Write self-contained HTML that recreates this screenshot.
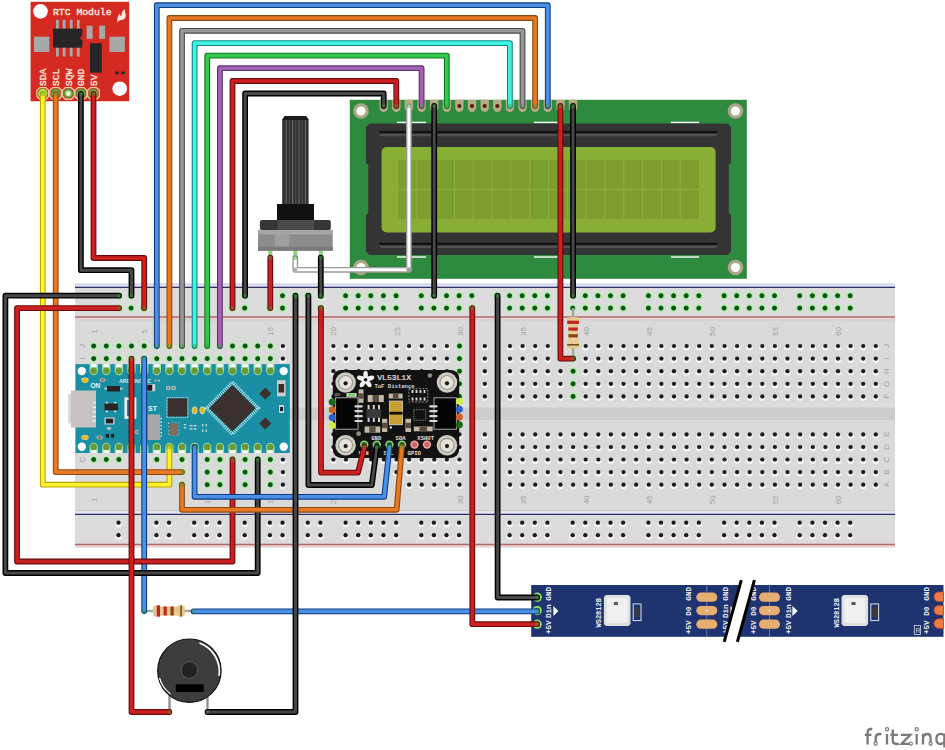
<!DOCTYPE html><html><head><meta charset="utf-8"><style>html,body{margin:0;padding:0;background:#fff;overflow:hidden}svg{display:block}</style></head><body>
<svg width="945" height="750" viewBox="0 0 945 750">
<defs><radialGradient id="gh" cx="0.5" cy="0.5" r="0.5"><stop offset="0.34" stop-color="#0b5510"/><stop offset="0.42" stop-color="#4a9a4a"/><stop offset="0.52" stop-color="#b0e6ac"/><stop offset="0.72" stop-color="#c4eac0" stop-opacity="0.75"/><stop offset="1" stop-color="#d8e8d8" stop-opacity="0"/></radialGradient></defs>
<rect width="945" height="750" fill="#fff"/>
<g id="bb">
<rect x="75" y="283.2" width="820" height="264.5" fill="#dcdcdc"/>
<rect x="75" y="283.2" width="820" height="3.6" fill="#dcdcf0"/>
<line x1="75" y1="287.4" x2="895" y2="287.4" stroke="#2c2c66" stroke-width="1.2"/>
<rect x="75" y="317.6" width="820" height="1.8" fill="#f2d4d4"/>
<line x1="75" y1="316.9" x2="895" y2="316.9" stroke="#b06a6a" stroke-width="1.5"/>
<rect x="75" y="319.4" width="820" height="1.2" fill="#cacaca"/>
<rect x="75" y="320.6" width="820" height="189.5" fill="#dadada"/>
<rect x="75" y="403" width="820" height="4.6" fill="#dedede"/>
<rect x="75" y="407.6" width="820" height="12.4" fill="#cdcdcd"/>
<rect x="75" y="510" width="820" height="1.2" fill="#c8c8c8"/>
<rect x="75" y="511.2" width="820" height="2.6" fill="#e6e6f2"/>
<line x1="75" y1="514.4" x2="895" y2="514.4" stroke="#2c2c66" stroke-width="1.2"/>
<rect x="75" y="545.2" width="820" height="1.6" fill="#f2d4d4"/>
<line x1="75" y1="544.5" x2="895" y2="544.5" stroke="#b06a6a" stroke-width="1.5"/>
</g>
<g id="holes">
<circle cx="118.5" cy="295.7" r="5.6" fill="url(#gh)"/>
<circle cx="118.5" cy="308.1" r="5.6" fill="url(#gh)"/>
<circle cx="118.5" cy="522.5" r="3.6" fill="#cfcfcf"/><circle cx="118.5" cy="523.6" r="3.4" fill="#fbfbfb"/><circle cx="118.5" cy="522" r="3.2" fill="#d9d9d9"/><circle cx="118.5" cy="522.7" r="2.1" fill="#1a1a1a"/>
<circle cx="118.5" cy="535" r="3.6" fill="#cfcfcf"/><circle cx="118.5" cy="536.1" r="3.4" fill="#fbfbfb"/><circle cx="118.5" cy="534.5" r="3.2" fill="#d9d9d9"/><circle cx="118.5" cy="535.2" r="2.1" fill="#1a1a1a"/>
<circle cx="131.1" cy="295.7" r="5.6" fill="url(#gh)"/>
<circle cx="131.1" cy="308.1" r="5.6" fill="url(#gh)"/>
<circle cx="143.8" cy="308.1" r="5.6" fill="url(#gh)"/>
<circle cx="156.4" cy="522.5" r="3.6" fill="#cfcfcf"/><circle cx="156.4" cy="523.6" r="3.4" fill="#fbfbfb"/><circle cx="156.4" cy="522" r="3.2" fill="#d9d9d9"/><circle cx="156.4" cy="522.7" r="2.1" fill="#1a1a1a"/>
<circle cx="156.4" cy="535" r="3.6" fill="#cfcfcf"/><circle cx="156.4" cy="536.1" r="3.4" fill="#fbfbfb"/><circle cx="156.4" cy="534.5" r="3.2" fill="#d9d9d9"/><circle cx="156.4" cy="535.2" r="2.1" fill="#1a1a1a"/>
<circle cx="169" cy="522.5" r="3.6" fill="#cfcfcf"/><circle cx="169" cy="523.6" r="3.4" fill="#fbfbfb"/><circle cx="169" cy="522" r="3.2" fill="#d9d9d9"/><circle cx="169" cy="522.7" r="2.1" fill="#1a1a1a"/>
<circle cx="169" cy="535" r="3.6" fill="#cfcfcf"/><circle cx="169" cy="536.1" r="3.4" fill="#fbfbfb"/><circle cx="169" cy="534.5" r="3.2" fill="#d9d9d9"/><circle cx="169" cy="535.2" r="2.1" fill="#1a1a1a"/>
<circle cx="194.2" cy="522.5" r="3.6" fill="#cfcfcf"/><circle cx="194.2" cy="523.6" r="3.4" fill="#fbfbfb"/><circle cx="194.2" cy="522" r="3.2" fill="#d9d9d9"/><circle cx="194.2" cy="522.7" r="2.1" fill="#1a1a1a"/>
<circle cx="194.2" cy="535" r="3.6" fill="#cfcfcf"/><circle cx="194.2" cy="536.1" r="3.4" fill="#fbfbfb"/><circle cx="194.2" cy="534.5" r="3.2" fill="#d9d9d9"/><circle cx="194.2" cy="535.2" r="2.1" fill="#1a1a1a"/>
<circle cx="206.8" cy="522.5" r="3.6" fill="#cfcfcf"/><circle cx="206.8" cy="523.6" r="3.4" fill="#fbfbfb"/><circle cx="206.8" cy="522" r="3.2" fill="#d9d9d9"/><circle cx="206.8" cy="522.7" r="2.1" fill="#1a1a1a"/>
<circle cx="206.8" cy="535" r="3.6" fill="#cfcfcf"/><circle cx="206.8" cy="536.1" r="3.4" fill="#fbfbfb"/><circle cx="206.8" cy="534.5" r="3.2" fill="#d9d9d9"/><circle cx="206.8" cy="535.2" r="2.1" fill="#1a1a1a"/>
<circle cx="219.5" cy="522.5" r="3.6" fill="#cfcfcf"/><circle cx="219.5" cy="523.6" r="3.4" fill="#fbfbfb"/><circle cx="219.5" cy="522" r="3.2" fill="#d9d9d9"/><circle cx="219.5" cy="522.7" r="2.1" fill="#1a1a1a"/>
<circle cx="219.5" cy="535" r="3.6" fill="#cfcfcf"/><circle cx="219.5" cy="536.1" r="3.4" fill="#fbfbfb"/><circle cx="219.5" cy="534.5" r="3.2" fill="#d9d9d9"/><circle cx="219.5" cy="535.2" r="2.1" fill="#1a1a1a"/>
<circle cx="232.1" cy="308.1" r="5.6" fill="url(#gh)"/>
<circle cx="244.7" cy="295.7" r="5.6" fill="url(#gh)"/>
<circle cx="244.7" cy="308.1" r="5.6" fill="url(#gh)"/>
<circle cx="244.7" cy="522.5" r="3.6" fill="#cfcfcf"/><circle cx="244.7" cy="523.6" r="3.4" fill="#fbfbfb"/><circle cx="244.7" cy="522" r="3.2" fill="#d9d9d9"/><circle cx="244.7" cy="522.7" r="2.1" fill="#1a1a1a"/>
<circle cx="244.7" cy="535" r="3.6" fill="#cfcfcf"/><circle cx="244.7" cy="536.1" r="3.4" fill="#fbfbfb"/><circle cx="244.7" cy="534.5" r="3.2" fill="#d9d9d9"/><circle cx="244.7" cy="535.2" r="2.1" fill="#1a1a1a"/>
<circle cx="269.9" cy="308.1" r="5.6" fill="url(#gh)"/>
<circle cx="269.9" cy="522.5" r="3.6" fill="#cfcfcf"/><circle cx="269.9" cy="523.6" r="3.4" fill="#fbfbfb"/><circle cx="269.9" cy="522" r="3.2" fill="#d9d9d9"/><circle cx="269.9" cy="522.7" r="2.1" fill="#1a1a1a"/>
<circle cx="269.9" cy="535" r="3.6" fill="#cfcfcf"/><circle cx="269.9" cy="536.1" r="3.4" fill="#fbfbfb"/><circle cx="269.9" cy="534.5" r="3.2" fill="#d9d9d9"/><circle cx="269.9" cy="535.2" r="2.1" fill="#1a1a1a"/>
<circle cx="282.5" cy="295.7" r="5.6" fill="url(#gh)"/>
<circle cx="282.5" cy="308.1" r="5.6" fill="url(#gh)"/>
<circle cx="282.5" cy="522.5" r="3.6" fill="#cfcfcf"/><circle cx="282.5" cy="523.6" r="3.4" fill="#fbfbfb"/><circle cx="282.5" cy="522" r="3.2" fill="#d9d9d9"/><circle cx="282.5" cy="522.7" r="2.1" fill="#1a1a1a"/>
<circle cx="282.5" cy="535" r="3.6" fill="#cfcfcf"/><circle cx="282.5" cy="536.1" r="3.4" fill="#fbfbfb"/><circle cx="282.5" cy="534.5" r="3.2" fill="#d9d9d9"/><circle cx="282.5" cy="535.2" r="2.1" fill="#1a1a1a"/>
<circle cx="295.1" cy="295.7" r="5.6" fill="url(#gh)"/>
<circle cx="307.8" cy="295.7" r="5.6" fill="url(#gh)"/>
<circle cx="307.8" cy="522.5" r="3.6" fill="#cfcfcf"/><circle cx="307.8" cy="523.6" r="3.4" fill="#fbfbfb"/><circle cx="307.8" cy="522" r="3.2" fill="#d9d9d9"/><circle cx="307.8" cy="522.7" r="2.1" fill="#1a1a1a"/>
<circle cx="307.8" cy="535" r="3.6" fill="#cfcfcf"/><circle cx="307.8" cy="536.1" r="3.4" fill="#fbfbfb"/><circle cx="307.8" cy="534.5" r="3.2" fill="#d9d9d9"/><circle cx="307.8" cy="535.2" r="2.1" fill="#1a1a1a"/>
<circle cx="320.4" cy="295.7" r="5.6" fill="url(#gh)"/>
<circle cx="320.4" cy="308.1" r="5.6" fill="url(#gh)"/>
<circle cx="320.4" cy="522.5" r="3.6" fill="#cfcfcf"/><circle cx="320.4" cy="523.6" r="3.4" fill="#fbfbfb"/><circle cx="320.4" cy="522" r="3.2" fill="#d9d9d9"/><circle cx="320.4" cy="522.7" r="2.1" fill="#1a1a1a"/>
<circle cx="320.4" cy="535" r="3.6" fill="#cfcfcf"/><circle cx="320.4" cy="536.1" r="3.4" fill="#fbfbfb"/><circle cx="320.4" cy="534.5" r="3.2" fill="#d9d9d9"/><circle cx="320.4" cy="535.2" r="2.1" fill="#1a1a1a"/>
<circle cx="345.6" cy="295.7" r="5.6" fill="url(#gh)"/>
<circle cx="345.6" cy="308.1" r="5.6" fill="url(#gh)"/>
<circle cx="345.6" cy="522.5" r="3.6" fill="#cfcfcf"/><circle cx="345.6" cy="523.6" r="3.4" fill="#fbfbfb"/><circle cx="345.6" cy="522" r="3.2" fill="#d9d9d9"/><circle cx="345.6" cy="522.7" r="2.1" fill="#1a1a1a"/>
<circle cx="345.6" cy="535" r="3.6" fill="#cfcfcf"/><circle cx="345.6" cy="536.1" r="3.4" fill="#fbfbfb"/><circle cx="345.6" cy="534.5" r="3.2" fill="#d9d9d9"/><circle cx="345.6" cy="535.2" r="2.1" fill="#1a1a1a"/>
<circle cx="358.2" cy="295.7" r="5.6" fill="url(#gh)"/>
<circle cx="358.2" cy="308.1" r="5.6" fill="url(#gh)"/>
<circle cx="358.2" cy="522.5" r="3.6" fill="#cfcfcf"/><circle cx="358.2" cy="523.6" r="3.4" fill="#fbfbfb"/><circle cx="358.2" cy="522" r="3.2" fill="#d9d9d9"/><circle cx="358.2" cy="522.7" r="2.1" fill="#1a1a1a"/>
<circle cx="358.2" cy="535" r="3.6" fill="#cfcfcf"/><circle cx="358.2" cy="536.1" r="3.4" fill="#fbfbfb"/><circle cx="358.2" cy="534.5" r="3.2" fill="#d9d9d9"/><circle cx="358.2" cy="535.2" r="2.1" fill="#1a1a1a"/>
<circle cx="370.8" cy="295.7" r="5.6" fill="url(#gh)"/>
<circle cx="370.8" cy="308.1" r="5.6" fill="url(#gh)"/>
<circle cx="370.8" cy="522.5" r="3.6" fill="#cfcfcf"/><circle cx="370.8" cy="523.6" r="3.4" fill="#fbfbfb"/><circle cx="370.8" cy="522" r="3.2" fill="#d9d9d9"/><circle cx="370.8" cy="522.7" r="2.1" fill="#1a1a1a"/>
<circle cx="370.8" cy="535" r="3.6" fill="#cfcfcf"/><circle cx="370.8" cy="536.1" r="3.4" fill="#fbfbfb"/><circle cx="370.8" cy="534.5" r="3.2" fill="#d9d9d9"/><circle cx="370.8" cy="535.2" r="2.1" fill="#1a1a1a"/>
<circle cx="383.4" cy="295.7" r="5.6" fill="url(#gh)"/>
<circle cx="383.4" cy="308.1" r="5.6" fill="url(#gh)"/>
<circle cx="383.4" cy="522.5" r="3.6" fill="#cfcfcf"/><circle cx="383.4" cy="523.6" r="3.4" fill="#fbfbfb"/><circle cx="383.4" cy="522" r="3.2" fill="#d9d9d9"/><circle cx="383.4" cy="522.7" r="2.1" fill="#1a1a1a"/>
<circle cx="383.4" cy="535" r="3.6" fill="#cfcfcf"/><circle cx="383.4" cy="536.1" r="3.4" fill="#fbfbfb"/><circle cx="383.4" cy="534.5" r="3.2" fill="#d9d9d9"/><circle cx="383.4" cy="535.2" r="2.1" fill="#1a1a1a"/>
<circle cx="396.1" cy="295.7" r="5.6" fill="url(#gh)"/>
<circle cx="396.1" cy="308.1" r="5.6" fill="url(#gh)"/>
<circle cx="396.1" cy="522.5" r="3.6" fill="#cfcfcf"/><circle cx="396.1" cy="523.6" r="3.4" fill="#fbfbfb"/><circle cx="396.1" cy="522" r="3.2" fill="#d9d9d9"/><circle cx="396.1" cy="522.7" r="2.1" fill="#1a1a1a"/>
<circle cx="396.1" cy="535" r="3.6" fill="#cfcfcf"/><circle cx="396.1" cy="536.1" r="3.4" fill="#fbfbfb"/><circle cx="396.1" cy="534.5" r="3.2" fill="#d9d9d9"/><circle cx="396.1" cy="535.2" r="2.1" fill="#1a1a1a"/>
<circle cx="421.3" cy="295.7" r="5.6" fill="url(#gh)"/>
<circle cx="421.3" cy="308.1" r="5.6" fill="url(#gh)"/>
<circle cx="421.3" cy="522.5" r="3.6" fill="#cfcfcf"/><circle cx="421.3" cy="523.6" r="3.4" fill="#fbfbfb"/><circle cx="421.3" cy="522" r="3.2" fill="#d9d9d9"/><circle cx="421.3" cy="522.7" r="2.1" fill="#1a1a1a"/>
<circle cx="421.3" cy="535" r="3.6" fill="#cfcfcf"/><circle cx="421.3" cy="536.1" r="3.4" fill="#fbfbfb"/><circle cx="421.3" cy="534.5" r="3.2" fill="#d9d9d9"/><circle cx="421.3" cy="535.2" r="2.1" fill="#1a1a1a"/>
<circle cx="433.9" cy="295.7" r="5.6" fill="url(#gh)"/>
<circle cx="433.9" cy="308.1" r="5.6" fill="url(#gh)"/>
<circle cx="433.9" cy="522.5" r="3.6" fill="#cfcfcf"/><circle cx="433.9" cy="523.6" r="3.4" fill="#fbfbfb"/><circle cx="433.9" cy="522" r="3.2" fill="#d9d9d9"/><circle cx="433.9" cy="522.7" r="2.1" fill="#1a1a1a"/>
<circle cx="433.9" cy="535" r="3.6" fill="#cfcfcf"/><circle cx="433.9" cy="536.1" r="3.4" fill="#fbfbfb"/><circle cx="433.9" cy="534.5" r="3.2" fill="#d9d9d9"/><circle cx="433.9" cy="535.2" r="2.1" fill="#1a1a1a"/>
<circle cx="446.5" cy="295.7" r="5.6" fill="url(#gh)"/>
<circle cx="446.5" cy="308.1" r="5.6" fill="url(#gh)"/>
<circle cx="446.5" cy="522.5" r="3.6" fill="#cfcfcf"/><circle cx="446.5" cy="523.6" r="3.4" fill="#fbfbfb"/><circle cx="446.5" cy="522" r="3.2" fill="#d9d9d9"/><circle cx="446.5" cy="522.7" r="2.1" fill="#1a1a1a"/>
<circle cx="446.5" cy="535" r="3.6" fill="#cfcfcf"/><circle cx="446.5" cy="536.1" r="3.4" fill="#fbfbfb"/><circle cx="446.5" cy="534.5" r="3.2" fill="#d9d9d9"/><circle cx="446.5" cy="535.2" r="2.1" fill="#1a1a1a"/>
<circle cx="459.1" cy="295.7" r="5.6" fill="url(#gh)"/>
<circle cx="459.1" cy="308.1" r="5.6" fill="url(#gh)"/>
<circle cx="459.1" cy="522.5" r="3.6" fill="#cfcfcf"/><circle cx="459.1" cy="523.6" r="3.4" fill="#fbfbfb"/><circle cx="459.1" cy="522" r="3.2" fill="#d9d9d9"/><circle cx="459.1" cy="522.7" r="2.1" fill="#1a1a1a"/>
<circle cx="459.1" cy="535" r="3.6" fill="#cfcfcf"/><circle cx="459.1" cy="536.1" r="3.4" fill="#fbfbfb"/><circle cx="459.1" cy="534.5" r="3.2" fill="#d9d9d9"/><circle cx="459.1" cy="535.2" r="2.1" fill="#1a1a1a"/>
<circle cx="471.8" cy="295.7" r="5.6" fill="url(#gh)"/>
<circle cx="471.8" cy="308.1" r="5.6" fill="url(#gh)"/>
<circle cx="497" cy="295.7" r="5.6" fill="url(#gh)"/>
<circle cx="509.6" cy="295.7" r="5.6" fill="url(#gh)"/>
<circle cx="509.6" cy="308.1" r="5.6" fill="url(#gh)"/>
<circle cx="509.6" cy="522.5" r="3.6" fill="#cfcfcf"/><circle cx="509.6" cy="523.6" r="3.4" fill="#fbfbfb"/><circle cx="509.6" cy="522" r="3.2" fill="#d9d9d9"/><circle cx="509.6" cy="522.7" r="2.1" fill="#1a1a1a"/>
<circle cx="509.6" cy="535" r="3.6" fill="#cfcfcf"/><circle cx="509.6" cy="536.1" r="3.4" fill="#fbfbfb"/><circle cx="509.6" cy="534.5" r="3.2" fill="#d9d9d9"/><circle cx="509.6" cy="535.2" r="2.1" fill="#1a1a1a"/>
<circle cx="522.2" cy="295.7" r="5.6" fill="url(#gh)"/>
<circle cx="522.2" cy="308.1" r="5.6" fill="url(#gh)"/>
<circle cx="522.2" cy="522.5" r="3.6" fill="#cfcfcf"/><circle cx="522.2" cy="523.6" r="3.4" fill="#fbfbfb"/><circle cx="522.2" cy="522" r="3.2" fill="#d9d9d9"/><circle cx="522.2" cy="522.7" r="2.1" fill="#1a1a1a"/>
<circle cx="522.2" cy="535" r="3.6" fill="#cfcfcf"/><circle cx="522.2" cy="536.1" r="3.4" fill="#fbfbfb"/><circle cx="522.2" cy="534.5" r="3.2" fill="#d9d9d9"/><circle cx="522.2" cy="535.2" r="2.1" fill="#1a1a1a"/>
<circle cx="534.8" cy="295.7" r="5.6" fill="url(#gh)"/>
<circle cx="534.8" cy="308.1" r="5.6" fill="url(#gh)"/>
<circle cx="534.8" cy="522.5" r="3.6" fill="#cfcfcf"/><circle cx="534.8" cy="523.6" r="3.4" fill="#fbfbfb"/><circle cx="534.8" cy="522" r="3.2" fill="#d9d9d9"/><circle cx="534.8" cy="522.7" r="2.1" fill="#1a1a1a"/>
<circle cx="534.8" cy="535" r="3.6" fill="#cfcfcf"/><circle cx="534.8" cy="536.1" r="3.4" fill="#fbfbfb"/><circle cx="534.8" cy="534.5" r="3.2" fill="#d9d9d9"/><circle cx="534.8" cy="535.2" r="2.1" fill="#1a1a1a"/>
<circle cx="547.4" cy="295.7" r="5.6" fill="url(#gh)"/>
<circle cx="547.4" cy="308.1" r="5.6" fill="url(#gh)"/>
<circle cx="547.4" cy="522.5" r="3.6" fill="#cfcfcf"/><circle cx="547.4" cy="523.6" r="3.4" fill="#fbfbfb"/><circle cx="547.4" cy="522" r="3.2" fill="#d9d9d9"/><circle cx="547.4" cy="522.7" r="2.1" fill="#1a1a1a"/>
<circle cx="547.4" cy="535" r="3.6" fill="#cfcfcf"/><circle cx="547.4" cy="536.1" r="3.4" fill="#fbfbfb"/><circle cx="547.4" cy="534.5" r="3.2" fill="#d9d9d9"/><circle cx="547.4" cy="535.2" r="2.1" fill="#1a1a1a"/>
<circle cx="572.7" cy="295.7" r="5.6" fill="url(#gh)"/>
<circle cx="572.7" cy="308.1" r="5.6" fill="url(#gh)"/>
<circle cx="572.7" cy="522.5" r="3.6" fill="#cfcfcf"/><circle cx="572.7" cy="523.6" r="3.4" fill="#fbfbfb"/><circle cx="572.7" cy="522" r="3.2" fill="#d9d9d9"/><circle cx="572.7" cy="522.7" r="2.1" fill="#1a1a1a"/>
<circle cx="572.7" cy="535" r="3.6" fill="#cfcfcf"/><circle cx="572.7" cy="536.1" r="3.4" fill="#fbfbfb"/><circle cx="572.7" cy="534.5" r="3.2" fill="#d9d9d9"/><circle cx="572.7" cy="535.2" r="2.1" fill="#1a1a1a"/>
<circle cx="585.3" cy="295.7" r="5.6" fill="url(#gh)"/>
<circle cx="585.3" cy="308.1" r="5.6" fill="url(#gh)"/>
<circle cx="585.3" cy="522.5" r="3.6" fill="#cfcfcf"/><circle cx="585.3" cy="523.6" r="3.4" fill="#fbfbfb"/><circle cx="585.3" cy="522" r="3.2" fill="#d9d9d9"/><circle cx="585.3" cy="522.7" r="2.1" fill="#1a1a1a"/>
<circle cx="585.3" cy="535" r="3.6" fill="#cfcfcf"/><circle cx="585.3" cy="536.1" r="3.4" fill="#fbfbfb"/><circle cx="585.3" cy="534.5" r="3.2" fill="#d9d9d9"/><circle cx="585.3" cy="535.2" r="2.1" fill="#1a1a1a"/>
<circle cx="597.9" cy="295.7" r="5.6" fill="url(#gh)"/>
<circle cx="597.9" cy="308.1" r="5.6" fill="url(#gh)"/>
<circle cx="597.9" cy="522.5" r="3.6" fill="#cfcfcf"/><circle cx="597.9" cy="523.6" r="3.4" fill="#fbfbfb"/><circle cx="597.9" cy="522" r="3.2" fill="#d9d9d9"/><circle cx="597.9" cy="522.7" r="2.1" fill="#1a1a1a"/>
<circle cx="597.9" cy="535" r="3.6" fill="#cfcfcf"/><circle cx="597.9" cy="536.1" r="3.4" fill="#fbfbfb"/><circle cx="597.9" cy="534.5" r="3.2" fill="#d9d9d9"/><circle cx="597.9" cy="535.2" r="2.1" fill="#1a1a1a"/>
<circle cx="610.5" cy="295.7" r="5.6" fill="url(#gh)"/>
<circle cx="610.5" cy="308.1" r="5.6" fill="url(#gh)"/>
<circle cx="610.5" cy="522.5" r="3.6" fill="#cfcfcf"/><circle cx="610.5" cy="523.6" r="3.4" fill="#fbfbfb"/><circle cx="610.5" cy="522" r="3.2" fill="#d9d9d9"/><circle cx="610.5" cy="522.7" r="2.1" fill="#1a1a1a"/>
<circle cx="610.5" cy="535" r="3.6" fill="#cfcfcf"/><circle cx="610.5" cy="536.1" r="3.4" fill="#fbfbfb"/><circle cx="610.5" cy="534.5" r="3.2" fill="#d9d9d9"/><circle cx="610.5" cy="535.2" r="2.1" fill="#1a1a1a"/>
<circle cx="623.1" cy="295.7" r="5.6" fill="url(#gh)"/>
<circle cx="623.1" cy="308.1" r="5.6" fill="url(#gh)"/>
<circle cx="623.1" cy="522.5" r="3.6" fill="#cfcfcf"/><circle cx="623.1" cy="523.6" r="3.4" fill="#fbfbfb"/><circle cx="623.1" cy="522" r="3.2" fill="#d9d9d9"/><circle cx="623.1" cy="522.7" r="2.1" fill="#1a1a1a"/>
<circle cx="623.1" cy="535" r="3.6" fill="#cfcfcf"/><circle cx="623.1" cy="536.1" r="3.4" fill="#fbfbfb"/><circle cx="623.1" cy="534.5" r="3.2" fill="#d9d9d9"/><circle cx="623.1" cy="535.2" r="2.1" fill="#1a1a1a"/>
<circle cx="648.4" cy="295.7" r="5.6" fill="url(#gh)"/>
<circle cx="648.4" cy="308.1" r="5.6" fill="url(#gh)"/>
<circle cx="648.4" cy="522.5" r="3.6" fill="#cfcfcf"/><circle cx="648.4" cy="523.6" r="3.4" fill="#fbfbfb"/><circle cx="648.4" cy="522" r="3.2" fill="#d9d9d9"/><circle cx="648.4" cy="522.7" r="2.1" fill="#1a1a1a"/>
<circle cx="648.4" cy="535" r="3.6" fill="#cfcfcf"/><circle cx="648.4" cy="536.1" r="3.4" fill="#fbfbfb"/><circle cx="648.4" cy="534.5" r="3.2" fill="#d9d9d9"/><circle cx="648.4" cy="535.2" r="2.1" fill="#1a1a1a"/>
<circle cx="661" cy="295.7" r="5.6" fill="url(#gh)"/>
<circle cx="661" cy="308.1" r="5.6" fill="url(#gh)"/>
<circle cx="661" cy="522.5" r="3.6" fill="#cfcfcf"/><circle cx="661" cy="523.6" r="3.4" fill="#fbfbfb"/><circle cx="661" cy="522" r="3.2" fill="#d9d9d9"/><circle cx="661" cy="522.7" r="2.1" fill="#1a1a1a"/>
<circle cx="661" cy="535" r="3.6" fill="#cfcfcf"/><circle cx="661" cy="536.1" r="3.4" fill="#fbfbfb"/><circle cx="661" cy="534.5" r="3.2" fill="#d9d9d9"/><circle cx="661" cy="535.2" r="2.1" fill="#1a1a1a"/>
<circle cx="673.6" cy="295.7" r="5.6" fill="url(#gh)"/>
<circle cx="673.6" cy="308.1" r="5.6" fill="url(#gh)"/>
<circle cx="673.6" cy="522.5" r="3.6" fill="#cfcfcf"/><circle cx="673.6" cy="523.6" r="3.4" fill="#fbfbfb"/><circle cx="673.6" cy="522" r="3.2" fill="#d9d9d9"/><circle cx="673.6" cy="522.7" r="2.1" fill="#1a1a1a"/>
<circle cx="673.6" cy="535" r="3.6" fill="#cfcfcf"/><circle cx="673.6" cy="536.1" r="3.4" fill="#fbfbfb"/><circle cx="673.6" cy="534.5" r="3.2" fill="#d9d9d9"/><circle cx="673.6" cy="535.2" r="2.1" fill="#1a1a1a"/>
<circle cx="686.2" cy="295.7" r="5.6" fill="url(#gh)"/>
<circle cx="686.2" cy="308.1" r="5.6" fill="url(#gh)"/>
<circle cx="686.2" cy="522.5" r="3.6" fill="#cfcfcf"/><circle cx="686.2" cy="523.6" r="3.4" fill="#fbfbfb"/><circle cx="686.2" cy="522" r="3.2" fill="#d9d9d9"/><circle cx="686.2" cy="522.7" r="2.1" fill="#1a1a1a"/>
<circle cx="686.2" cy="535" r="3.6" fill="#cfcfcf"/><circle cx="686.2" cy="536.1" r="3.4" fill="#fbfbfb"/><circle cx="686.2" cy="534.5" r="3.2" fill="#d9d9d9"/><circle cx="686.2" cy="535.2" r="2.1" fill="#1a1a1a"/>
<circle cx="698.8" cy="295.7" r="5.6" fill="url(#gh)"/>
<circle cx="698.8" cy="308.1" r="5.6" fill="url(#gh)"/>
<circle cx="698.8" cy="522.5" r="3.6" fill="#cfcfcf"/><circle cx="698.8" cy="523.6" r="3.4" fill="#fbfbfb"/><circle cx="698.8" cy="522" r="3.2" fill="#d9d9d9"/><circle cx="698.8" cy="522.7" r="2.1" fill="#1a1a1a"/>
<circle cx="698.8" cy="535" r="3.6" fill="#cfcfcf"/><circle cx="698.8" cy="536.1" r="3.4" fill="#fbfbfb"/><circle cx="698.8" cy="534.5" r="3.2" fill="#d9d9d9"/><circle cx="698.8" cy="535.2" r="2.1" fill="#1a1a1a"/>
<circle cx="724.1" cy="295.7" r="5.6" fill="url(#gh)"/>
<circle cx="724.1" cy="308.1" r="5.6" fill="url(#gh)"/>
<circle cx="724.1" cy="522.5" r="3.6" fill="#cfcfcf"/><circle cx="724.1" cy="523.6" r="3.4" fill="#fbfbfb"/><circle cx="724.1" cy="522" r="3.2" fill="#d9d9d9"/><circle cx="724.1" cy="522.7" r="2.1" fill="#1a1a1a"/>
<circle cx="724.1" cy="535" r="3.6" fill="#cfcfcf"/><circle cx="724.1" cy="536.1" r="3.4" fill="#fbfbfb"/><circle cx="724.1" cy="534.5" r="3.2" fill="#d9d9d9"/><circle cx="724.1" cy="535.2" r="2.1" fill="#1a1a1a"/>
<circle cx="736.7" cy="295.7" r="5.6" fill="url(#gh)"/>
<circle cx="736.7" cy="308.1" r="5.6" fill="url(#gh)"/>
<circle cx="736.7" cy="522.5" r="3.6" fill="#cfcfcf"/><circle cx="736.7" cy="523.6" r="3.4" fill="#fbfbfb"/><circle cx="736.7" cy="522" r="3.2" fill="#d9d9d9"/><circle cx="736.7" cy="522.7" r="2.1" fill="#1a1a1a"/>
<circle cx="736.7" cy="535" r="3.6" fill="#cfcfcf"/><circle cx="736.7" cy="536.1" r="3.4" fill="#fbfbfb"/><circle cx="736.7" cy="534.5" r="3.2" fill="#d9d9d9"/><circle cx="736.7" cy="535.2" r="2.1" fill="#1a1a1a"/>
<circle cx="749.3" cy="295.7" r="5.6" fill="url(#gh)"/>
<circle cx="749.3" cy="308.1" r="5.6" fill="url(#gh)"/>
<circle cx="749.3" cy="522.5" r="3.6" fill="#cfcfcf"/><circle cx="749.3" cy="523.6" r="3.4" fill="#fbfbfb"/><circle cx="749.3" cy="522" r="3.2" fill="#d9d9d9"/><circle cx="749.3" cy="522.7" r="2.1" fill="#1a1a1a"/>
<circle cx="749.3" cy="535" r="3.6" fill="#cfcfcf"/><circle cx="749.3" cy="536.1" r="3.4" fill="#fbfbfb"/><circle cx="749.3" cy="534.5" r="3.2" fill="#d9d9d9"/><circle cx="749.3" cy="535.2" r="2.1" fill="#1a1a1a"/>
<circle cx="761.9" cy="295.7" r="5.6" fill="url(#gh)"/>
<circle cx="761.9" cy="308.1" r="5.6" fill="url(#gh)"/>
<circle cx="761.9" cy="522.5" r="3.6" fill="#cfcfcf"/><circle cx="761.9" cy="523.6" r="3.4" fill="#fbfbfb"/><circle cx="761.9" cy="522" r="3.2" fill="#d9d9d9"/><circle cx="761.9" cy="522.7" r="2.1" fill="#1a1a1a"/>
<circle cx="761.9" cy="535" r="3.6" fill="#cfcfcf"/><circle cx="761.9" cy="536.1" r="3.4" fill="#fbfbfb"/><circle cx="761.9" cy="534.5" r="3.2" fill="#d9d9d9"/><circle cx="761.9" cy="535.2" r="2.1" fill="#1a1a1a"/>
<circle cx="774.5" cy="295.7" r="5.6" fill="url(#gh)"/>
<circle cx="774.5" cy="308.1" r="5.6" fill="url(#gh)"/>
<circle cx="774.5" cy="522.5" r="3.6" fill="#cfcfcf"/><circle cx="774.5" cy="523.6" r="3.4" fill="#fbfbfb"/><circle cx="774.5" cy="522" r="3.2" fill="#d9d9d9"/><circle cx="774.5" cy="522.7" r="2.1" fill="#1a1a1a"/>
<circle cx="774.5" cy="535" r="3.6" fill="#cfcfcf"/><circle cx="774.5" cy="536.1" r="3.4" fill="#fbfbfb"/><circle cx="774.5" cy="534.5" r="3.2" fill="#d9d9d9"/><circle cx="774.5" cy="535.2" r="2.1" fill="#1a1a1a"/>
<circle cx="799.7" cy="295.7" r="5.6" fill="url(#gh)"/>
<circle cx="799.7" cy="308.1" r="5.6" fill="url(#gh)"/>
<circle cx="799.7" cy="522.5" r="3.6" fill="#cfcfcf"/><circle cx="799.7" cy="523.6" r="3.4" fill="#fbfbfb"/><circle cx="799.7" cy="522" r="3.2" fill="#d9d9d9"/><circle cx="799.7" cy="522.7" r="2.1" fill="#1a1a1a"/>
<circle cx="799.7" cy="535" r="3.6" fill="#cfcfcf"/><circle cx="799.7" cy="536.1" r="3.4" fill="#fbfbfb"/><circle cx="799.7" cy="534.5" r="3.2" fill="#d9d9d9"/><circle cx="799.7" cy="535.2" r="2.1" fill="#1a1a1a"/>
<circle cx="812.4" cy="295.7" r="5.6" fill="url(#gh)"/>
<circle cx="812.4" cy="308.1" r="5.6" fill="url(#gh)"/>
<circle cx="812.4" cy="522.5" r="3.6" fill="#cfcfcf"/><circle cx="812.4" cy="523.6" r="3.4" fill="#fbfbfb"/><circle cx="812.4" cy="522" r="3.2" fill="#d9d9d9"/><circle cx="812.4" cy="522.7" r="2.1" fill="#1a1a1a"/>
<circle cx="812.4" cy="535" r="3.6" fill="#cfcfcf"/><circle cx="812.4" cy="536.1" r="3.4" fill="#fbfbfb"/><circle cx="812.4" cy="534.5" r="3.2" fill="#d9d9d9"/><circle cx="812.4" cy="535.2" r="2.1" fill="#1a1a1a"/>
<circle cx="825" cy="295.7" r="5.6" fill="url(#gh)"/>
<circle cx="825" cy="308.1" r="5.6" fill="url(#gh)"/>
<circle cx="825" cy="522.5" r="3.6" fill="#cfcfcf"/><circle cx="825" cy="523.6" r="3.4" fill="#fbfbfb"/><circle cx="825" cy="522" r="3.2" fill="#d9d9d9"/><circle cx="825" cy="522.7" r="2.1" fill="#1a1a1a"/>
<circle cx="825" cy="535" r="3.6" fill="#cfcfcf"/><circle cx="825" cy="536.1" r="3.4" fill="#fbfbfb"/><circle cx="825" cy="534.5" r="3.2" fill="#d9d9d9"/><circle cx="825" cy="535.2" r="2.1" fill="#1a1a1a"/>
<circle cx="837.6" cy="295.7" r="5.6" fill="url(#gh)"/>
<circle cx="837.6" cy="308.1" r="5.6" fill="url(#gh)"/>
<circle cx="837.6" cy="522.5" r="3.6" fill="#cfcfcf"/><circle cx="837.6" cy="523.6" r="3.4" fill="#fbfbfb"/><circle cx="837.6" cy="522" r="3.2" fill="#d9d9d9"/><circle cx="837.6" cy="522.7" r="2.1" fill="#1a1a1a"/>
<circle cx="837.6" cy="535" r="3.6" fill="#cfcfcf"/><circle cx="837.6" cy="536.1" r="3.4" fill="#fbfbfb"/><circle cx="837.6" cy="534.5" r="3.2" fill="#d9d9d9"/><circle cx="837.6" cy="535.2" r="2.1" fill="#1a1a1a"/>
<circle cx="850.2" cy="295.7" r="5.6" fill="url(#gh)"/>
<circle cx="850.2" cy="308.1" r="5.6" fill="url(#gh)"/>
<circle cx="850.2" cy="522.5" r="3.6" fill="#cfcfcf"/><circle cx="850.2" cy="523.6" r="3.4" fill="#fbfbfb"/><circle cx="850.2" cy="522" r="3.2" fill="#d9d9d9"/><circle cx="850.2" cy="522.7" r="2.1" fill="#1a1a1a"/>
<circle cx="850.2" cy="535" r="3.6" fill="#cfcfcf"/><circle cx="850.2" cy="536.1" r="3.4" fill="#fbfbfb"/><circle cx="850.2" cy="534.5" r="3.2" fill="#d9d9d9"/><circle cx="850.2" cy="535.2" r="2.1" fill="#1a1a1a"/>
<circle cx="93.7" cy="346" r="5.6" fill="url(#gh)"/>
<circle cx="93.7" cy="358.6" r="5.6" fill="url(#gh)"/>
<circle cx="93.7" cy="371.2" r="5.6" fill="url(#gh)"/>
<circle cx="93.7" cy="383.8" r="5.6" fill="url(#gh)"/>
<circle cx="93.7" cy="396.4" r="5.6" fill="url(#gh)"/>
<circle cx="93.7" cy="434.4" r="5.6" fill="url(#gh)"/>
<circle cx="93.7" cy="447" r="5.6" fill="url(#gh)"/>
<circle cx="93.7" cy="459.5" r="5.6" fill="url(#gh)"/>
<circle cx="106.3" cy="346" r="5.6" fill="url(#gh)"/>
<circle cx="106.3" cy="358.6" r="5.6" fill="url(#gh)"/>
<circle cx="106.3" cy="371.2" r="5.6" fill="url(#gh)"/>
<circle cx="106.3" cy="383.8" r="5.6" fill="url(#gh)"/>
<circle cx="106.3" cy="396.4" r="5.6" fill="url(#gh)"/>
<circle cx="106.3" cy="434.4" r="5.6" fill="url(#gh)"/>
<circle cx="106.3" cy="447" r="5.6" fill="url(#gh)"/>
<circle cx="106.3" cy="459.5" r="5.6" fill="url(#gh)"/>
<circle cx="118.9" cy="346" r="5.6" fill="url(#gh)"/>
<circle cx="118.9" cy="358.6" r="5.6" fill="url(#gh)"/>
<circle cx="118.9" cy="371.2" r="5.6" fill="url(#gh)"/>
<circle cx="118.9" cy="383.8" r="5.6" fill="url(#gh)"/>
<circle cx="118.9" cy="396.4" r="5.6" fill="url(#gh)"/>
<circle cx="118.9" cy="434.4" r="5.6" fill="url(#gh)"/>
<circle cx="118.9" cy="447" r="5.6" fill="url(#gh)"/>
<circle cx="118.9" cy="459.5" r="5.6" fill="url(#gh)"/>
<circle cx="131.5" cy="346" r="5.6" fill="url(#gh)"/>
<circle cx="131.5" cy="358.6" r="5.6" fill="url(#gh)"/>
<circle cx="144.2" cy="346" r="5.6" fill="url(#gh)"/>
<circle cx="144.2" cy="358.6" r="5.6" fill="url(#gh)"/>
<circle cx="156.8" cy="346" r="5.6" fill="url(#gh)"/>
<circle cx="156.8" cy="358.6" r="5.6" fill="url(#gh)"/>
<circle cx="156.8" cy="371.2" r="5.6" fill="url(#gh)"/>
<circle cx="156.8" cy="383.8" r="5.6" fill="url(#gh)"/>
<circle cx="156.8" cy="396.4" r="5.6" fill="url(#gh)"/>
<circle cx="156.8" cy="434.4" r="5.6" fill="url(#gh)"/>
<circle cx="156.8" cy="447" r="5.6" fill="url(#gh)"/>
<circle cx="156.8" cy="459.5" r="5.6" fill="url(#gh)"/>
<circle cx="169.4" cy="346" r="5.6" fill="url(#gh)"/>
<circle cx="169.4" cy="358.6" r="5.6" fill="url(#gh)"/>
<circle cx="169.4" cy="371.2" r="5.6" fill="url(#gh)"/>
<circle cx="169.4" cy="383.8" r="5.6" fill="url(#gh)"/>
<circle cx="169.4" cy="396.4" r="5.6" fill="url(#gh)"/>
<circle cx="169.4" cy="434.4" r="5.6" fill="url(#gh)"/>
<circle cx="169.4" cy="447" r="5.6" fill="url(#gh)"/>
<circle cx="182" cy="346" r="5.6" fill="url(#gh)"/>
<circle cx="182" cy="358.6" r="5.6" fill="url(#gh)"/>
<circle cx="182" cy="371.2" r="5.6" fill="url(#gh)"/>
<circle cx="182" cy="383.8" r="5.6" fill="url(#gh)"/>
<circle cx="182" cy="396.4" r="5.6" fill="url(#gh)"/>
<circle cx="182" cy="434.4" r="5.6" fill="url(#gh)"/>
<circle cx="182" cy="447" r="5.6" fill="url(#gh)"/>
<circle cx="182" cy="459.5" r="5.6" fill="url(#gh)"/>
<circle cx="182" cy="472.1" r="5.6" fill="url(#gh)"/>
<circle cx="182" cy="484.7" r="5.6" fill="url(#gh)"/>
<circle cx="194.6" cy="346" r="5.6" fill="url(#gh)"/>
<circle cx="194.6" cy="358.6" r="5.6" fill="url(#gh)"/>
<circle cx="194.6" cy="371.2" r="5.6" fill="url(#gh)"/>
<circle cx="194.6" cy="383.8" r="5.6" fill="url(#gh)"/>
<circle cx="194.6" cy="396.4" r="5.6" fill="url(#gh)"/>
<circle cx="194.6" cy="434.4" r="5.6" fill="url(#gh)"/>
<circle cx="194.6" cy="447" r="5.6" fill="url(#gh)"/>
<circle cx="207.2" cy="346" r="5.6" fill="url(#gh)"/>
<circle cx="207.2" cy="358.6" r="5.6" fill="url(#gh)"/>
<circle cx="207.2" cy="371.2" r="5.6" fill="url(#gh)"/>
<circle cx="207.2" cy="383.8" r="5.6" fill="url(#gh)"/>
<circle cx="207.2" cy="396.4" r="5.6" fill="url(#gh)"/>
<circle cx="207.2" cy="434.4" r="5.6" fill="url(#gh)"/>
<circle cx="207.2" cy="447" r="5.6" fill="url(#gh)"/>
<circle cx="207.2" cy="459.5" r="5.6" fill="url(#gh)"/>
<circle cx="207.2" cy="472.1" r="5.6" fill="url(#gh)"/>
<circle cx="207.2" cy="484.7" r="5.6" fill="url(#gh)"/>
<circle cx="219.9" cy="346" r="5.6" fill="url(#gh)"/>
<circle cx="219.9" cy="358.6" r="5.6" fill="url(#gh)"/>
<circle cx="219.9" cy="371.2" r="5.6" fill="url(#gh)"/>
<circle cx="219.9" cy="383.8" r="5.6" fill="url(#gh)"/>
<circle cx="219.9" cy="396.4" r="5.6" fill="url(#gh)"/>
<circle cx="219.9" cy="434.4" r="5.6" fill="url(#gh)"/>
<circle cx="219.9" cy="447" r="5.6" fill="url(#gh)"/>
<circle cx="219.9" cy="459.5" r="5.6" fill="url(#gh)"/>
<circle cx="219.9" cy="472.1" r="5.6" fill="url(#gh)"/>
<circle cx="219.9" cy="484.7" r="5.6" fill="url(#gh)"/>
<circle cx="232.5" cy="346" r="5.6" fill="url(#gh)"/>
<circle cx="232.5" cy="358.6" r="5.6" fill="url(#gh)"/>
<circle cx="232.5" cy="371.2" r="5.6" fill="url(#gh)"/>
<circle cx="232.5" cy="383.8" r="5.6" fill="url(#gh)"/>
<circle cx="232.5" cy="396.4" r="5.6" fill="url(#gh)"/>
<circle cx="232.5" cy="434.4" r="5.6" fill="url(#gh)"/>
<circle cx="232.5" cy="447" r="5.6" fill="url(#gh)"/>
<circle cx="232.5" cy="459.5" r="5.6" fill="url(#gh)"/>
<circle cx="245.1" cy="346" r="5.6" fill="url(#gh)"/>
<circle cx="245.1" cy="358.6" r="5.6" fill="url(#gh)"/>
<circle cx="245.1" cy="371.2" r="5.6" fill="url(#gh)"/>
<circle cx="245.1" cy="383.8" r="5.6" fill="url(#gh)"/>
<circle cx="245.1" cy="396.4" r="5.6" fill="url(#gh)"/>
<circle cx="245.1" cy="434.4" r="5.6" fill="url(#gh)"/>
<circle cx="245.1" cy="447" r="5.6" fill="url(#gh)"/>
<circle cx="245.1" cy="459.5" r="5.6" fill="url(#gh)"/>
<circle cx="245.1" cy="472.1" r="5.6" fill="url(#gh)"/>
<circle cx="245.1" cy="484.7" r="5.6" fill="url(#gh)"/>
<circle cx="257.7" cy="346" r="5.6" fill="url(#gh)"/>
<circle cx="257.7" cy="358.6" r="5.6" fill="url(#gh)"/>
<circle cx="257.7" cy="371.2" r="5.6" fill="url(#gh)"/>
<circle cx="257.7" cy="383.8" r="5.6" fill="url(#gh)"/>
<circle cx="257.7" cy="396.4" r="5.6" fill="url(#gh)"/>
<circle cx="257.7" cy="434.4" r="5.6" fill="url(#gh)"/>
<circle cx="257.7" cy="447" r="5.6" fill="url(#gh)"/>
<circle cx="257.7" cy="459.5" r="5.6" fill="url(#gh)"/>
<circle cx="270.3" cy="346" r="5.6" fill="url(#gh)"/>
<circle cx="270.3" cy="358.6" r="5.6" fill="url(#gh)"/>
<circle cx="270.3" cy="371.2" r="5.6" fill="url(#gh)"/>
<circle cx="270.3" cy="383.8" r="5.6" fill="url(#gh)"/>
<circle cx="270.3" cy="396.4" r="5.6" fill="url(#gh)"/>
<circle cx="270.3" cy="434.4" r="5.6" fill="url(#gh)"/>
<circle cx="270.3" cy="447" r="5.6" fill="url(#gh)"/>
<circle cx="270.3" cy="459.5" r="5.6" fill="url(#gh)"/>
<circle cx="270.3" cy="472.1" r="5.6" fill="url(#gh)"/>
<circle cx="270.3" cy="484.7" r="5.6" fill="url(#gh)"/>
<circle cx="282.9" cy="345.8" r="3.6" fill="#cfcfcf"/><circle cx="282.9" cy="346.9" r="3.4" fill="#fbfbfb"/><circle cx="282.9" cy="345.3" r="3.2" fill="#d9d9d9"/><circle cx="282.9" cy="346" r="2.1" fill="#1a1a1a"/>
<circle cx="282.9" cy="358.4" r="3.6" fill="#cfcfcf"/><circle cx="282.9" cy="359.5" r="3.4" fill="#fbfbfb"/><circle cx="282.9" cy="357.9" r="3.2" fill="#d9d9d9"/><circle cx="282.9" cy="358.6" r="2.1" fill="#1a1a1a"/>
<circle cx="282.9" cy="371" r="3.6" fill="#cfcfcf"/><circle cx="282.9" cy="372.1" r="3.4" fill="#fbfbfb"/><circle cx="282.9" cy="370.5" r="3.2" fill="#d9d9d9"/><circle cx="282.9" cy="371.2" r="2.1" fill="#1a1a1a"/>
<circle cx="282.9" cy="383.6" r="3.6" fill="#cfcfcf"/><circle cx="282.9" cy="384.7" r="3.4" fill="#fbfbfb"/><circle cx="282.9" cy="383.1" r="3.2" fill="#d9d9d9"/><circle cx="282.9" cy="383.8" r="2.1" fill="#1a1a1a"/>
<circle cx="282.9" cy="396.2" r="3.6" fill="#cfcfcf"/><circle cx="282.9" cy="397.3" r="3.4" fill="#fbfbfb"/><circle cx="282.9" cy="395.7" r="3.2" fill="#d9d9d9"/><circle cx="282.9" cy="396.4" r="2.1" fill="#1a1a1a"/>
<circle cx="282.9" cy="434.2" r="3.6" fill="#cfcfcf"/><circle cx="282.9" cy="435.3" r="3.4" fill="#fbfbfb"/><circle cx="282.9" cy="433.7" r="3.2" fill="#d9d9d9"/><circle cx="282.9" cy="434.4" r="2.1" fill="#1a1a1a"/>
<circle cx="282.9" cy="446.8" r="3.6" fill="#cfcfcf"/><circle cx="282.9" cy="447.9" r="3.4" fill="#fbfbfb"/><circle cx="282.9" cy="446.3" r="3.2" fill="#d9d9d9"/><circle cx="282.9" cy="447" r="2.1" fill="#1a1a1a"/>
<circle cx="282.9" cy="459.3" r="3.6" fill="#cfcfcf"/><circle cx="282.9" cy="460.4" r="3.4" fill="#fbfbfb"/><circle cx="282.9" cy="458.8" r="3.2" fill="#d9d9d9"/><circle cx="282.9" cy="459.5" r="2.1" fill="#1a1a1a"/>
<circle cx="282.9" cy="471.9" r="3.6" fill="#cfcfcf"/><circle cx="282.9" cy="473" r="3.4" fill="#fbfbfb"/><circle cx="282.9" cy="471.4" r="3.2" fill="#d9d9d9"/><circle cx="282.9" cy="472.1" r="2.1" fill="#1a1a1a"/>
<circle cx="282.9" cy="484.5" r="3.6" fill="#cfcfcf"/><circle cx="282.9" cy="485.6" r="3.4" fill="#fbfbfb"/><circle cx="282.9" cy="484" r="3.2" fill="#d9d9d9"/><circle cx="282.9" cy="484.7" r="2.1" fill="#1a1a1a"/>
<circle cx="333.4" cy="345.8" r="3.6" fill="#cfcfcf"/><circle cx="333.4" cy="346.9" r="3.4" fill="#fbfbfb"/><circle cx="333.4" cy="345.3" r="3.2" fill="#d9d9d9"/><circle cx="333.4" cy="346" r="2.1" fill="#1a1a1a"/>
<circle cx="333.4" cy="358.4" r="3.6" fill="#cfcfcf"/><circle cx="333.4" cy="359.5" r="3.4" fill="#fbfbfb"/><circle cx="333.4" cy="357.9" r="3.2" fill="#d9d9d9"/><circle cx="333.4" cy="358.6" r="2.1" fill="#1a1a1a"/>
<circle cx="333.4" cy="371" r="3.6" fill="#cfcfcf"/><circle cx="333.4" cy="372.1" r="3.4" fill="#fbfbfb"/><circle cx="333.4" cy="370.5" r="3.2" fill="#d9d9d9"/><circle cx="333.4" cy="371.2" r="2.1" fill="#1a1a1a"/>
<circle cx="333.4" cy="383.6" r="3.6" fill="#cfcfcf"/><circle cx="333.4" cy="384.7" r="3.4" fill="#fbfbfb"/><circle cx="333.4" cy="383.1" r="3.2" fill="#d9d9d9"/><circle cx="333.4" cy="383.8" r="2.1" fill="#1a1a1a"/>
<circle cx="333.4" cy="396.2" r="3.6" fill="#cfcfcf"/><circle cx="333.4" cy="397.3" r="3.4" fill="#fbfbfb"/><circle cx="333.4" cy="395.7" r="3.2" fill="#d9d9d9"/><circle cx="333.4" cy="396.4" r="2.1" fill="#1a1a1a"/>
<circle cx="333.4" cy="434.2" r="3.6" fill="#cfcfcf"/><circle cx="333.4" cy="435.3" r="3.4" fill="#fbfbfb"/><circle cx="333.4" cy="433.7" r="3.2" fill="#d9d9d9"/><circle cx="333.4" cy="434.4" r="2.1" fill="#1a1a1a"/>
<circle cx="333.4" cy="446.8" r="3.6" fill="#cfcfcf"/><circle cx="333.4" cy="447.9" r="3.4" fill="#fbfbfb"/><circle cx="333.4" cy="446.3" r="3.2" fill="#d9d9d9"/><circle cx="333.4" cy="447" r="2.1" fill="#1a1a1a"/>
<circle cx="333.4" cy="459.3" r="3.6" fill="#cfcfcf"/><circle cx="333.4" cy="460.4" r="3.4" fill="#fbfbfb"/><circle cx="333.4" cy="458.8" r="3.2" fill="#d9d9d9"/><circle cx="333.4" cy="459.5" r="2.1" fill="#1a1a1a"/>
<circle cx="346" cy="345.8" r="3.6" fill="#cfcfcf"/><circle cx="346" cy="346.9" r="3.4" fill="#fbfbfb"/><circle cx="346" cy="345.3" r="3.2" fill="#d9d9d9"/><circle cx="346" cy="346" r="2.1" fill="#1a1a1a"/>
<circle cx="346" cy="358.4" r="3.6" fill="#cfcfcf"/><circle cx="346" cy="359.5" r="3.4" fill="#fbfbfb"/><circle cx="346" cy="357.9" r="3.2" fill="#d9d9d9"/><circle cx="346" cy="358.6" r="2.1" fill="#1a1a1a"/>
<circle cx="346" cy="371" r="3.6" fill="#cfcfcf"/><circle cx="346" cy="372.1" r="3.4" fill="#fbfbfb"/><circle cx="346" cy="370.5" r="3.2" fill="#d9d9d9"/><circle cx="346" cy="371.2" r="2.1" fill="#1a1a1a"/>
<circle cx="346" cy="383.6" r="3.6" fill="#cfcfcf"/><circle cx="346" cy="384.7" r="3.4" fill="#fbfbfb"/><circle cx="346" cy="383.1" r="3.2" fill="#d9d9d9"/><circle cx="346" cy="383.8" r="2.1" fill="#1a1a1a"/>
<circle cx="346" cy="396.2" r="3.6" fill="#cfcfcf"/><circle cx="346" cy="397.3" r="3.4" fill="#fbfbfb"/><circle cx="346" cy="395.7" r="3.2" fill="#d9d9d9"/><circle cx="346" cy="396.4" r="2.1" fill="#1a1a1a"/>
<circle cx="346" cy="434.2" r="3.6" fill="#cfcfcf"/><circle cx="346" cy="435.3" r="3.4" fill="#fbfbfb"/><circle cx="346" cy="433.7" r="3.2" fill="#d9d9d9"/><circle cx="346" cy="434.4" r="2.1" fill="#1a1a1a"/>
<circle cx="346" cy="446.8" r="3.6" fill="#cfcfcf"/><circle cx="346" cy="447.9" r="3.4" fill="#fbfbfb"/><circle cx="346" cy="446.3" r="3.2" fill="#d9d9d9"/><circle cx="346" cy="447" r="2.1" fill="#1a1a1a"/>
<circle cx="346" cy="459.3" r="3.6" fill="#cfcfcf"/><circle cx="346" cy="460.4" r="3.4" fill="#fbfbfb"/><circle cx="346" cy="458.8" r="3.2" fill="#d9d9d9"/><circle cx="346" cy="459.5" r="2.1" fill="#1a1a1a"/>
<circle cx="358.6" cy="345.8" r="3.6" fill="#cfcfcf"/><circle cx="358.6" cy="346.9" r="3.4" fill="#fbfbfb"/><circle cx="358.6" cy="345.3" r="3.2" fill="#d9d9d9"/><circle cx="358.6" cy="346" r="2.1" fill="#1a1a1a"/>
<circle cx="358.6" cy="358.4" r="3.6" fill="#cfcfcf"/><circle cx="358.6" cy="359.5" r="3.4" fill="#fbfbfb"/><circle cx="358.6" cy="357.9" r="3.2" fill="#d9d9d9"/><circle cx="358.6" cy="358.6" r="2.1" fill="#1a1a1a"/>
<circle cx="358.6" cy="371" r="3.6" fill="#cfcfcf"/><circle cx="358.6" cy="372.1" r="3.4" fill="#fbfbfb"/><circle cx="358.6" cy="370.5" r="3.2" fill="#d9d9d9"/><circle cx="358.6" cy="371.2" r="2.1" fill="#1a1a1a"/>
<circle cx="358.6" cy="383.6" r="3.6" fill="#cfcfcf"/><circle cx="358.6" cy="384.7" r="3.4" fill="#fbfbfb"/><circle cx="358.6" cy="383.1" r="3.2" fill="#d9d9d9"/><circle cx="358.6" cy="383.8" r="2.1" fill="#1a1a1a"/>
<circle cx="358.6" cy="396.2" r="3.6" fill="#cfcfcf"/><circle cx="358.6" cy="397.3" r="3.4" fill="#fbfbfb"/><circle cx="358.6" cy="395.7" r="3.2" fill="#d9d9d9"/><circle cx="358.6" cy="396.4" r="2.1" fill="#1a1a1a"/>
<circle cx="358.6" cy="434.2" r="3.6" fill="#cfcfcf"/><circle cx="358.6" cy="435.3" r="3.4" fill="#fbfbfb"/><circle cx="358.6" cy="433.7" r="3.2" fill="#d9d9d9"/><circle cx="358.6" cy="434.4" r="2.1" fill="#1a1a1a"/>
<circle cx="358.6" cy="446.8" r="3.6" fill="#cfcfcf"/><circle cx="358.6" cy="447.9" r="3.4" fill="#fbfbfb"/><circle cx="358.6" cy="446.3" r="3.2" fill="#d9d9d9"/><circle cx="358.6" cy="447" r="2.1" fill="#1a1a1a"/>
<circle cx="371.2" cy="345.8" r="3.6" fill="#cfcfcf"/><circle cx="371.2" cy="346.9" r="3.4" fill="#fbfbfb"/><circle cx="371.2" cy="345.3" r="3.2" fill="#d9d9d9"/><circle cx="371.2" cy="346" r="2.1" fill="#1a1a1a"/>
<circle cx="371.2" cy="358.4" r="3.6" fill="#cfcfcf"/><circle cx="371.2" cy="359.5" r="3.4" fill="#fbfbfb"/><circle cx="371.2" cy="357.9" r="3.2" fill="#d9d9d9"/><circle cx="371.2" cy="358.6" r="2.1" fill="#1a1a1a"/>
<circle cx="371.2" cy="371" r="3.6" fill="#cfcfcf"/><circle cx="371.2" cy="372.1" r="3.4" fill="#fbfbfb"/><circle cx="371.2" cy="370.5" r="3.2" fill="#d9d9d9"/><circle cx="371.2" cy="371.2" r="2.1" fill="#1a1a1a"/>
<circle cx="371.2" cy="383.6" r="3.6" fill="#cfcfcf"/><circle cx="371.2" cy="384.7" r="3.4" fill="#fbfbfb"/><circle cx="371.2" cy="383.1" r="3.2" fill="#d9d9d9"/><circle cx="371.2" cy="383.8" r="2.1" fill="#1a1a1a"/>
<circle cx="371.2" cy="396.2" r="3.6" fill="#cfcfcf"/><circle cx="371.2" cy="397.3" r="3.4" fill="#fbfbfb"/><circle cx="371.2" cy="395.7" r="3.2" fill="#d9d9d9"/><circle cx="371.2" cy="396.4" r="2.1" fill="#1a1a1a"/>
<circle cx="371.2" cy="434.2" r="3.6" fill="#cfcfcf"/><circle cx="371.2" cy="435.3" r="3.4" fill="#fbfbfb"/><circle cx="371.2" cy="433.7" r="3.2" fill="#d9d9d9"/><circle cx="371.2" cy="434.4" r="2.1" fill="#1a1a1a"/>
<circle cx="371.2" cy="446.8" r="3.6" fill="#cfcfcf"/><circle cx="371.2" cy="447.9" r="3.4" fill="#fbfbfb"/><circle cx="371.2" cy="446.3" r="3.2" fill="#d9d9d9"/><circle cx="371.2" cy="447" r="2.1" fill="#1a1a1a"/>
<circle cx="371.2" cy="459.3" r="3.6" fill="#cfcfcf"/><circle cx="371.2" cy="460.4" r="3.4" fill="#fbfbfb"/><circle cx="371.2" cy="458.8" r="3.2" fill="#d9d9d9"/><circle cx="371.2" cy="459.5" r="2.1" fill="#1a1a1a"/>
<circle cx="383.8" cy="345.8" r="3.6" fill="#cfcfcf"/><circle cx="383.8" cy="346.9" r="3.4" fill="#fbfbfb"/><circle cx="383.8" cy="345.3" r="3.2" fill="#d9d9d9"/><circle cx="383.8" cy="346" r="2.1" fill="#1a1a1a"/>
<circle cx="383.8" cy="358.4" r="3.6" fill="#cfcfcf"/><circle cx="383.8" cy="359.5" r="3.4" fill="#fbfbfb"/><circle cx="383.8" cy="357.9" r="3.2" fill="#d9d9d9"/><circle cx="383.8" cy="358.6" r="2.1" fill="#1a1a1a"/>
<circle cx="383.8" cy="371" r="3.6" fill="#cfcfcf"/><circle cx="383.8" cy="372.1" r="3.4" fill="#fbfbfb"/><circle cx="383.8" cy="370.5" r="3.2" fill="#d9d9d9"/><circle cx="383.8" cy="371.2" r="2.1" fill="#1a1a1a"/>
<circle cx="383.8" cy="383.6" r="3.6" fill="#cfcfcf"/><circle cx="383.8" cy="384.7" r="3.4" fill="#fbfbfb"/><circle cx="383.8" cy="383.1" r="3.2" fill="#d9d9d9"/><circle cx="383.8" cy="383.8" r="2.1" fill="#1a1a1a"/>
<circle cx="383.8" cy="396.2" r="3.6" fill="#cfcfcf"/><circle cx="383.8" cy="397.3" r="3.4" fill="#fbfbfb"/><circle cx="383.8" cy="395.7" r="3.2" fill="#d9d9d9"/><circle cx="383.8" cy="396.4" r="2.1" fill="#1a1a1a"/>
<circle cx="383.8" cy="434.2" r="3.6" fill="#cfcfcf"/><circle cx="383.8" cy="435.3" r="3.4" fill="#fbfbfb"/><circle cx="383.8" cy="433.7" r="3.2" fill="#d9d9d9"/><circle cx="383.8" cy="434.4" r="2.1" fill="#1a1a1a"/>
<circle cx="383.8" cy="446.8" r="3.6" fill="#cfcfcf"/><circle cx="383.8" cy="447.9" r="3.4" fill="#fbfbfb"/><circle cx="383.8" cy="446.3" r="3.2" fill="#d9d9d9"/><circle cx="383.8" cy="447" r="2.1" fill="#1a1a1a"/>
<circle cx="383.8" cy="459.3" r="3.6" fill="#cfcfcf"/><circle cx="383.8" cy="460.4" r="3.4" fill="#fbfbfb"/><circle cx="383.8" cy="458.8" r="3.2" fill="#d9d9d9"/><circle cx="383.8" cy="459.5" r="2.1" fill="#1a1a1a"/>
<circle cx="396.5" cy="345.8" r="3.6" fill="#cfcfcf"/><circle cx="396.5" cy="346.9" r="3.4" fill="#fbfbfb"/><circle cx="396.5" cy="345.3" r="3.2" fill="#d9d9d9"/><circle cx="396.5" cy="346" r="2.1" fill="#1a1a1a"/>
<circle cx="396.5" cy="358.4" r="3.6" fill="#cfcfcf"/><circle cx="396.5" cy="359.5" r="3.4" fill="#fbfbfb"/><circle cx="396.5" cy="357.9" r="3.2" fill="#d9d9d9"/><circle cx="396.5" cy="358.6" r="2.1" fill="#1a1a1a"/>
<circle cx="396.5" cy="371" r="3.6" fill="#cfcfcf"/><circle cx="396.5" cy="372.1" r="3.4" fill="#fbfbfb"/><circle cx="396.5" cy="370.5" r="3.2" fill="#d9d9d9"/><circle cx="396.5" cy="371.2" r="2.1" fill="#1a1a1a"/>
<circle cx="396.5" cy="383.6" r="3.6" fill="#cfcfcf"/><circle cx="396.5" cy="384.7" r="3.4" fill="#fbfbfb"/><circle cx="396.5" cy="383.1" r="3.2" fill="#d9d9d9"/><circle cx="396.5" cy="383.8" r="2.1" fill="#1a1a1a"/>
<circle cx="396.5" cy="396.2" r="3.6" fill="#cfcfcf"/><circle cx="396.5" cy="397.3" r="3.4" fill="#fbfbfb"/><circle cx="396.5" cy="395.7" r="3.2" fill="#d9d9d9"/><circle cx="396.5" cy="396.4" r="2.1" fill="#1a1a1a"/>
<circle cx="396.5" cy="434.2" r="3.6" fill="#cfcfcf"/><circle cx="396.5" cy="435.3" r="3.4" fill="#fbfbfb"/><circle cx="396.5" cy="433.7" r="3.2" fill="#d9d9d9"/><circle cx="396.5" cy="434.4" r="2.1" fill="#1a1a1a"/>
<circle cx="396.5" cy="446.8" r="3.6" fill="#cfcfcf"/><circle cx="396.5" cy="447.9" r="3.4" fill="#fbfbfb"/><circle cx="396.5" cy="446.3" r="3.2" fill="#d9d9d9"/><circle cx="396.5" cy="447" r="2.1" fill="#1a1a1a"/>
<circle cx="396.5" cy="459.3" r="3.6" fill="#cfcfcf"/><circle cx="396.5" cy="460.4" r="3.4" fill="#fbfbfb"/><circle cx="396.5" cy="458.8" r="3.2" fill="#d9d9d9"/><circle cx="396.5" cy="459.5" r="2.1" fill="#1a1a1a"/>
<circle cx="396.5" cy="471.9" r="3.6" fill="#cfcfcf"/><circle cx="396.5" cy="473" r="3.4" fill="#fbfbfb"/><circle cx="396.5" cy="471.4" r="3.2" fill="#d9d9d9"/><circle cx="396.5" cy="472.1" r="2.1" fill="#1a1a1a"/>
<circle cx="409.1" cy="345.8" r="3.6" fill="#cfcfcf"/><circle cx="409.1" cy="346.9" r="3.4" fill="#fbfbfb"/><circle cx="409.1" cy="345.3" r="3.2" fill="#d9d9d9"/><circle cx="409.1" cy="346" r="2.1" fill="#1a1a1a"/>
<circle cx="409.1" cy="358.4" r="3.6" fill="#cfcfcf"/><circle cx="409.1" cy="359.5" r="3.4" fill="#fbfbfb"/><circle cx="409.1" cy="357.9" r="3.2" fill="#d9d9d9"/><circle cx="409.1" cy="358.6" r="2.1" fill="#1a1a1a"/>
<circle cx="409.1" cy="371" r="3.6" fill="#cfcfcf"/><circle cx="409.1" cy="372.1" r="3.4" fill="#fbfbfb"/><circle cx="409.1" cy="370.5" r="3.2" fill="#d9d9d9"/><circle cx="409.1" cy="371.2" r="2.1" fill="#1a1a1a"/>
<circle cx="409.1" cy="383.6" r="3.6" fill="#cfcfcf"/><circle cx="409.1" cy="384.7" r="3.4" fill="#fbfbfb"/><circle cx="409.1" cy="383.1" r="3.2" fill="#d9d9d9"/><circle cx="409.1" cy="383.8" r="2.1" fill="#1a1a1a"/>
<circle cx="409.1" cy="396.2" r="3.6" fill="#cfcfcf"/><circle cx="409.1" cy="397.3" r="3.4" fill="#fbfbfb"/><circle cx="409.1" cy="395.7" r="3.2" fill="#d9d9d9"/><circle cx="409.1" cy="396.4" r="2.1" fill="#1a1a1a"/>
<circle cx="409.1" cy="434.2" r="3.6" fill="#cfcfcf"/><circle cx="409.1" cy="435.3" r="3.4" fill="#fbfbfb"/><circle cx="409.1" cy="433.7" r="3.2" fill="#d9d9d9"/><circle cx="409.1" cy="434.4" r="2.1" fill="#1a1a1a"/>
<circle cx="409.1" cy="446.8" r="3.6" fill="#cfcfcf"/><circle cx="409.1" cy="447.9" r="3.4" fill="#fbfbfb"/><circle cx="409.1" cy="446.3" r="3.2" fill="#d9d9d9"/><circle cx="409.1" cy="447" r="2.1" fill="#1a1a1a"/>
<circle cx="409.1" cy="459.3" r="3.6" fill="#cfcfcf"/><circle cx="409.1" cy="460.4" r="3.4" fill="#fbfbfb"/><circle cx="409.1" cy="458.8" r="3.2" fill="#d9d9d9"/><circle cx="409.1" cy="459.5" r="2.1" fill="#1a1a1a"/>
<circle cx="409.1" cy="471.9" r="3.6" fill="#cfcfcf"/><circle cx="409.1" cy="473" r="3.4" fill="#fbfbfb"/><circle cx="409.1" cy="471.4" r="3.2" fill="#d9d9d9"/><circle cx="409.1" cy="472.1" r="2.1" fill="#1a1a1a"/>
<circle cx="409.1" cy="484.5" r="3.6" fill="#cfcfcf"/><circle cx="409.1" cy="485.6" r="3.4" fill="#fbfbfb"/><circle cx="409.1" cy="484" r="3.2" fill="#d9d9d9"/><circle cx="409.1" cy="484.7" r="2.1" fill="#1a1a1a"/>
<circle cx="421.7" cy="345.8" r="3.6" fill="#cfcfcf"/><circle cx="421.7" cy="346.9" r="3.4" fill="#fbfbfb"/><circle cx="421.7" cy="345.3" r="3.2" fill="#d9d9d9"/><circle cx="421.7" cy="346" r="2.1" fill="#1a1a1a"/>
<circle cx="421.7" cy="358.4" r="3.6" fill="#cfcfcf"/><circle cx="421.7" cy="359.5" r="3.4" fill="#fbfbfb"/><circle cx="421.7" cy="357.9" r="3.2" fill="#d9d9d9"/><circle cx="421.7" cy="358.6" r="2.1" fill="#1a1a1a"/>
<circle cx="421.7" cy="371" r="3.6" fill="#cfcfcf"/><circle cx="421.7" cy="372.1" r="3.4" fill="#fbfbfb"/><circle cx="421.7" cy="370.5" r="3.2" fill="#d9d9d9"/><circle cx="421.7" cy="371.2" r="2.1" fill="#1a1a1a"/>
<circle cx="421.7" cy="383.6" r="3.6" fill="#cfcfcf"/><circle cx="421.7" cy="384.7" r="3.4" fill="#fbfbfb"/><circle cx="421.7" cy="383.1" r="3.2" fill="#d9d9d9"/><circle cx="421.7" cy="383.8" r="2.1" fill="#1a1a1a"/>
<circle cx="421.7" cy="396.2" r="3.6" fill="#cfcfcf"/><circle cx="421.7" cy="397.3" r="3.4" fill="#fbfbfb"/><circle cx="421.7" cy="395.7" r="3.2" fill="#d9d9d9"/><circle cx="421.7" cy="396.4" r="2.1" fill="#1a1a1a"/>
<circle cx="421.7" cy="434.2" r="3.6" fill="#cfcfcf"/><circle cx="421.7" cy="435.3" r="3.4" fill="#fbfbfb"/><circle cx="421.7" cy="433.7" r="3.2" fill="#d9d9d9"/><circle cx="421.7" cy="434.4" r="2.1" fill="#1a1a1a"/>
<circle cx="421.7" cy="446.8" r="3.6" fill="#cfcfcf"/><circle cx="421.7" cy="447.9" r="3.4" fill="#fbfbfb"/><circle cx="421.7" cy="446.3" r="3.2" fill="#d9d9d9"/><circle cx="421.7" cy="447" r="2.1" fill="#1a1a1a"/>
<circle cx="421.7" cy="459.3" r="3.6" fill="#cfcfcf"/><circle cx="421.7" cy="460.4" r="3.4" fill="#fbfbfb"/><circle cx="421.7" cy="458.8" r="3.2" fill="#d9d9d9"/><circle cx="421.7" cy="459.5" r="2.1" fill="#1a1a1a"/>
<circle cx="421.7" cy="471.9" r="3.6" fill="#cfcfcf"/><circle cx="421.7" cy="473" r="3.4" fill="#fbfbfb"/><circle cx="421.7" cy="471.4" r="3.2" fill="#d9d9d9"/><circle cx="421.7" cy="472.1" r="2.1" fill="#1a1a1a"/>
<circle cx="421.7" cy="484.5" r="3.6" fill="#cfcfcf"/><circle cx="421.7" cy="485.6" r="3.4" fill="#fbfbfb"/><circle cx="421.7" cy="484" r="3.2" fill="#d9d9d9"/><circle cx="421.7" cy="484.7" r="2.1" fill="#1a1a1a"/>
<circle cx="434.3" cy="345.8" r="3.6" fill="#cfcfcf"/><circle cx="434.3" cy="346.9" r="3.4" fill="#fbfbfb"/><circle cx="434.3" cy="345.3" r="3.2" fill="#d9d9d9"/><circle cx="434.3" cy="346" r="2.1" fill="#1a1a1a"/>
<circle cx="434.3" cy="358.4" r="3.6" fill="#cfcfcf"/><circle cx="434.3" cy="359.5" r="3.4" fill="#fbfbfb"/><circle cx="434.3" cy="357.9" r="3.2" fill="#d9d9d9"/><circle cx="434.3" cy="358.6" r="2.1" fill="#1a1a1a"/>
<circle cx="434.3" cy="371" r="3.6" fill="#cfcfcf"/><circle cx="434.3" cy="372.1" r="3.4" fill="#fbfbfb"/><circle cx="434.3" cy="370.5" r="3.2" fill="#d9d9d9"/><circle cx="434.3" cy="371.2" r="2.1" fill="#1a1a1a"/>
<circle cx="434.3" cy="383.6" r="3.6" fill="#cfcfcf"/><circle cx="434.3" cy="384.7" r="3.4" fill="#fbfbfb"/><circle cx="434.3" cy="383.1" r="3.2" fill="#d9d9d9"/><circle cx="434.3" cy="383.8" r="2.1" fill="#1a1a1a"/>
<circle cx="434.3" cy="396.2" r="3.6" fill="#cfcfcf"/><circle cx="434.3" cy="397.3" r="3.4" fill="#fbfbfb"/><circle cx="434.3" cy="395.7" r="3.2" fill="#d9d9d9"/><circle cx="434.3" cy="396.4" r="2.1" fill="#1a1a1a"/>
<circle cx="434.3" cy="434.2" r="3.6" fill="#cfcfcf"/><circle cx="434.3" cy="435.3" r="3.4" fill="#fbfbfb"/><circle cx="434.3" cy="433.7" r="3.2" fill="#d9d9d9"/><circle cx="434.3" cy="434.4" r="2.1" fill="#1a1a1a"/>
<circle cx="434.3" cy="446.8" r="3.6" fill="#cfcfcf"/><circle cx="434.3" cy="447.9" r="3.4" fill="#fbfbfb"/><circle cx="434.3" cy="446.3" r="3.2" fill="#d9d9d9"/><circle cx="434.3" cy="447" r="2.1" fill="#1a1a1a"/>
<circle cx="434.3" cy="459.3" r="3.6" fill="#cfcfcf"/><circle cx="434.3" cy="460.4" r="3.4" fill="#fbfbfb"/><circle cx="434.3" cy="458.8" r="3.2" fill="#d9d9d9"/><circle cx="434.3" cy="459.5" r="2.1" fill="#1a1a1a"/>
<circle cx="434.3" cy="471.9" r="3.6" fill="#cfcfcf"/><circle cx="434.3" cy="473" r="3.4" fill="#fbfbfb"/><circle cx="434.3" cy="471.4" r="3.2" fill="#d9d9d9"/><circle cx="434.3" cy="472.1" r="2.1" fill="#1a1a1a"/>
<circle cx="434.3" cy="484.5" r="3.6" fill="#cfcfcf"/><circle cx="434.3" cy="485.6" r="3.4" fill="#fbfbfb"/><circle cx="434.3" cy="484" r="3.2" fill="#d9d9d9"/><circle cx="434.3" cy="484.7" r="2.1" fill="#1a1a1a"/>
<circle cx="446.9" cy="345.8" r="3.6" fill="#cfcfcf"/><circle cx="446.9" cy="346.9" r="3.4" fill="#fbfbfb"/><circle cx="446.9" cy="345.3" r="3.2" fill="#d9d9d9"/><circle cx="446.9" cy="346" r="2.1" fill="#1a1a1a"/>
<circle cx="446.9" cy="358.4" r="3.6" fill="#cfcfcf"/><circle cx="446.9" cy="359.5" r="3.4" fill="#fbfbfb"/><circle cx="446.9" cy="357.9" r="3.2" fill="#d9d9d9"/><circle cx="446.9" cy="358.6" r="2.1" fill="#1a1a1a"/>
<circle cx="446.9" cy="371" r="3.6" fill="#cfcfcf"/><circle cx="446.9" cy="372.1" r="3.4" fill="#fbfbfb"/><circle cx="446.9" cy="370.5" r="3.2" fill="#d9d9d9"/><circle cx="446.9" cy="371.2" r="2.1" fill="#1a1a1a"/>
<circle cx="446.9" cy="383.6" r="3.6" fill="#cfcfcf"/><circle cx="446.9" cy="384.7" r="3.4" fill="#fbfbfb"/><circle cx="446.9" cy="383.1" r="3.2" fill="#d9d9d9"/><circle cx="446.9" cy="383.8" r="2.1" fill="#1a1a1a"/>
<circle cx="446.9" cy="396.2" r="3.6" fill="#cfcfcf"/><circle cx="446.9" cy="397.3" r="3.4" fill="#fbfbfb"/><circle cx="446.9" cy="395.7" r="3.2" fill="#d9d9d9"/><circle cx="446.9" cy="396.4" r="2.1" fill="#1a1a1a"/>
<circle cx="446.9" cy="434.2" r="3.6" fill="#cfcfcf"/><circle cx="446.9" cy="435.3" r="3.4" fill="#fbfbfb"/><circle cx="446.9" cy="433.7" r="3.2" fill="#d9d9d9"/><circle cx="446.9" cy="434.4" r="2.1" fill="#1a1a1a"/>
<circle cx="446.9" cy="446.8" r="3.6" fill="#cfcfcf"/><circle cx="446.9" cy="447.9" r="3.4" fill="#fbfbfb"/><circle cx="446.9" cy="446.3" r="3.2" fill="#d9d9d9"/><circle cx="446.9" cy="447" r="2.1" fill="#1a1a1a"/>
<circle cx="446.9" cy="459.3" r="3.6" fill="#cfcfcf"/><circle cx="446.9" cy="460.4" r="3.4" fill="#fbfbfb"/><circle cx="446.9" cy="458.8" r="3.2" fill="#d9d9d9"/><circle cx="446.9" cy="459.5" r="2.1" fill="#1a1a1a"/>
<circle cx="446.9" cy="471.9" r="3.6" fill="#cfcfcf"/><circle cx="446.9" cy="473" r="3.4" fill="#fbfbfb"/><circle cx="446.9" cy="471.4" r="3.2" fill="#d9d9d9"/><circle cx="446.9" cy="472.1" r="2.1" fill="#1a1a1a"/>
<circle cx="446.9" cy="484.5" r="3.6" fill="#cfcfcf"/><circle cx="446.9" cy="485.6" r="3.4" fill="#fbfbfb"/><circle cx="446.9" cy="484" r="3.2" fill="#d9d9d9"/><circle cx="446.9" cy="484.7" r="2.1" fill="#1a1a1a"/>
<circle cx="459.5" cy="346" r="5.6" fill="url(#gh)"/>
<circle cx="459.5" cy="358.6" r="5.6" fill="url(#gh)"/>
<circle cx="459.5" cy="371.2" r="5.6" fill="url(#gh)"/>
<circle cx="459.5" cy="383.8" r="5.6" fill="url(#gh)"/>
<circle cx="459.5" cy="396.4" r="5.6" fill="url(#gh)"/>
<circle cx="459.5" cy="434.2" r="3.6" fill="#cfcfcf"/><circle cx="459.5" cy="435.3" r="3.4" fill="#fbfbfb"/><circle cx="459.5" cy="433.7" r="3.2" fill="#d9d9d9"/><circle cx="459.5" cy="434.4" r="2.1" fill="#1a1a1a"/>
<circle cx="459.5" cy="446.8" r="3.6" fill="#cfcfcf"/><circle cx="459.5" cy="447.9" r="3.4" fill="#fbfbfb"/><circle cx="459.5" cy="446.3" r="3.2" fill="#d9d9d9"/><circle cx="459.5" cy="447" r="2.1" fill="#1a1a1a"/>
<circle cx="459.5" cy="459.3" r="3.6" fill="#cfcfcf"/><circle cx="459.5" cy="460.4" r="3.4" fill="#fbfbfb"/><circle cx="459.5" cy="458.8" r="3.2" fill="#d9d9d9"/><circle cx="459.5" cy="459.5" r="2.1" fill="#1a1a1a"/>
<circle cx="459.5" cy="471.9" r="3.6" fill="#cfcfcf"/><circle cx="459.5" cy="473" r="3.4" fill="#fbfbfb"/><circle cx="459.5" cy="471.4" r="3.2" fill="#d9d9d9"/><circle cx="459.5" cy="472.1" r="2.1" fill="#1a1a1a"/>
<circle cx="459.5" cy="484.5" r="3.6" fill="#cfcfcf"/><circle cx="459.5" cy="485.6" r="3.4" fill="#fbfbfb"/><circle cx="459.5" cy="484" r="3.2" fill="#d9d9d9"/><circle cx="459.5" cy="484.7" r="2.1" fill="#1a1a1a"/>
<circle cx="484.8" cy="345.8" r="3.6" fill="#cfcfcf"/><circle cx="484.8" cy="346.9" r="3.4" fill="#fbfbfb"/><circle cx="484.8" cy="345.3" r="3.2" fill="#d9d9d9"/><circle cx="484.8" cy="346" r="2.1" fill="#1a1a1a"/>
<circle cx="484.8" cy="358.4" r="3.6" fill="#cfcfcf"/><circle cx="484.8" cy="359.5" r="3.4" fill="#fbfbfb"/><circle cx="484.8" cy="357.9" r="3.2" fill="#d9d9d9"/><circle cx="484.8" cy="358.6" r="2.1" fill="#1a1a1a"/>
<circle cx="484.8" cy="371" r="3.6" fill="#cfcfcf"/><circle cx="484.8" cy="372.1" r="3.4" fill="#fbfbfb"/><circle cx="484.8" cy="370.5" r="3.2" fill="#d9d9d9"/><circle cx="484.8" cy="371.2" r="2.1" fill="#1a1a1a"/>
<circle cx="484.8" cy="383.6" r="3.6" fill="#cfcfcf"/><circle cx="484.8" cy="384.7" r="3.4" fill="#fbfbfb"/><circle cx="484.8" cy="383.1" r="3.2" fill="#d9d9d9"/><circle cx="484.8" cy="383.8" r="2.1" fill="#1a1a1a"/>
<circle cx="484.8" cy="396.2" r="3.6" fill="#cfcfcf"/><circle cx="484.8" cy="397.3" r="3.4" fill="#fbfbfb"/><circle cx="484.8" cy="395.7" r="3.2" fill="#d9d9d9"/><circle cx="484.8" cy="396.4" r="2.1" fill="#1a1a1a"/>
<circle cx="484.8" cy="434.2" r="3.6" fill="#cfcfcf"/><circle cx="484.8" cy="435.3" r="3.4" fill="#fbfbfb"/><circle cx="484.8" cy="433.7" r="3.2" fill="#d9d9d9"/><circle cx="484.8" cy="434.4" r="2.1" fill="#1a1a1a"/>
<circle cx="484.8" cy="446.8" r="3.6" fill="#cfcfcf"/><circle cx="484.8" cy="447.9" r="3.4" fill="#fbfbfb"/><circle cx="484.8" cy="446.3" r="3.2" fill="#d9d9d9"/><circle cx="484.8" cy="447" r="2.1" fill="#1a1a1a"/>
<circle cx="484.8" cy="459.3" r="3.6" fill="#cfcfcf"/><circle cx="484.8" cy="460.4" r="3.4" fill="#fbfbfb"/><circle cx="484.8" cy="458.8" r="3.2" fill="#d9d9d9"/><circle cx="484.8" cy="459.5" r="2.1" fill="#1a1a1a"/>
<circle cx="484.8" cy="471.9" r="3.6" fill="#cfcfcf"/><circle cx="484.8" cy="473" r="3.4" fill="#fbfbfb"/><circle cx="484.8" cy="471.4" r="3.2" fill="#d9d9d9"/><circle cx="484.8" cy="472.1" r="2.1" fill="#1a1a1a"/>
<circle cx="484.8" cy="484.5" r="3.6" fill="#cfcfcf"/><circle cx="484.8" cy="485.6" r="3.4" fill="#fbfbfb"/><circle cx="484.8" cy="484" r="3.2" fill="#d9d9d9"/><circle cx="484.8" cy="484.7" r="2.1" fill="#1a1a1a"/>
<circle cx="510" cy="345.8" r="3.6" fill="#cfcfcf"/><circle cx="510" cy="346.9" r="3.4" fill="#fbfbfb"/><circle cx="510" cy="345.3" r="3.2" fill="#d9d9d9"/><circle cx="510" cy="346" r="2.1" fill="#1a1a1a"/>
<circle cx="510" cy="358.4" r="3.6" fill="#cfcfcf"/><circle cx="510" cy="359.5" r="3.4" fill="#fbfbfb"/><circle cx="510" cy="357.9" r="3.2" fill="#d9d9d9"/><circle cx="510" cy="358.6" r="2.1" fill="#1a1a1a"/>
<circle cx="510" cy="371" r="3.6" fill="#cfcfcf"/><circle cx="510" cy="372.1" r="3.4" fill="#fbfbfb"/><circle cx="510" cy="370.5" r="3.2" fill="#d9d9d9"/><circle cx="510" cy="371.2" r="2.1" fill="#1a1a1a"/>
<circle cx="510" cy="383.6" r="3.6" fill="#cfcfcf"/><circle cx="510" cy="384.7" r="3.4" fill="#fbfbfb"/><circle cx="510" cy="383.1" r="3.2" fill="#d9d9d9"/><circle cx="510" cy="383.8" r="2.1" fill="#1a1a1a"/>
<circle cx="510" cy="396.2" r="3.6" fill="#cfcfcf"/><circle cx="510" cy="397.3" r="3.4" fill="#fbfbfb"/><circle cx="510" cy="395.7" r="3.2" fill="#d9d9d9"/><circle cx="510" cy="396.4" r="2.1" fill="#1a1a1a"/>
<circle cx="510" cy="434.2" r="3.6" fill="#cfcfcf"/><circle cx="510" cy="435.3" r="3.4" fill="#fbfbfb"/><circle cx="510" cy="433.7" r="3.2" fill="#d9d9d9"/><circle cx="510" cy="434.4" r="2.1" fill="#1a1a1a"/>
<circle cx="510" cy="446.8" r="3.6" fill="#cfcfcf"/><circle cx="510" cy="447.9" r="3.4" fill="#fbfbfb"/><circle cx="510" cy="446.3" r="3.2" fill="#d9d9d9"/><circle cx="510" cy="447" r="2.1" fill="#1a1a1a"/>
<circle cx="510" cy="459.3" r="3.6" fill="#cfcfcf"/><circle cx="510" cy="460.4" r="3.4" fill="#fbfbfb"/><circle cx="510" cy="458.8" r="3.2" fill="#d9d9d9"/><circle cx="510" cy="459.5" r="2.1" fill="#1a1a1a"/>
<circle cx="510" cy="471.9" r="3.6" fill="#cfcfcf"/><circle cx="510" cy="473" r="3.4" fill="#fbfbfb"/><circle cx="510" cy="471.4" r="3.2" fill="#d9d9d9"/><circle cx="510" cy="472.1" r="2.1" fill="#1a1a1a"/>
<circle cx="510" cy="484.5" r="3.6" fill="#cfcfcf"/><circle cx="510" cy="485.6" r="3.4" fill="#fbfbfb"/><circle cx="510" cy="484" r="3.2" fill="#d9d9d9"/><circle cx="510" cy="484.7" r="2.1" fill="#1a1a1a"/>
<circle cx="522.6" cy="345.8" r="3.6" fill="#cfcfcf"/><circle cx="522.6" cy="346.9" r="3.4" fill="#fbfbfb"/><circle cx="522.6" cy="345.3" r="3.2" fill="#d9d9d9"/><circle cx="522.6" cy="346" r="2.1" fill="#1a1a1a"/>
<circle cx="522.6" cy="358.4" r="3.6" fill="#cfcfcf"/><circle cx="522.6" cy="359.5" r="3.4" fill="#fbfbfb"/><circle cx="522.6" cy="357.9" r="3.2" fill="#d9d9d9"/><circle cx="522.6" cy="358.6" r="2.1" fill="#1a1a1a"/>
<circle cx="522.6" cy="371" r="3.6" fill="#cfcfcf"/><circle cx="522.6" cy="372.1" r="3.4" fill="#fbfbfb"/><circle cx="522.6" cy="370.5" r="3.2" fill="#d9d9d9"/><circle cx="522.6" cy="371.2" r="2.1" fill="#1a1a1a"/>
<circle cx="522.6" cy="383.6" r="3.6" fill="#cfcfcf"/><circle cx="522.6" cy="384.7" r="3.4" fill="#fbfbfb"/><circle cx="522.6" cy="383.1" r="3.2" fill="#d9d9d9"/><circle cx="522.6" cy="383.8" r="2.1" fill="#1a1a1a"/>
<circle cx="522.6" cy="396.2" r="3.6" fill="#cfcfcf"/><circle cx="522.6" cy="397.3" r="3.4" fill="#fbfbfb"/><circle cx="522.6" cy="395.7" r="3.2" fill="#d9d9d9"/><circle cx="522.6" cy="396.4" r="2.1" fill="#1a1a1a"/>
<circle cx="522.6" cy="434.2" r="3.6" fill="#cfcfcf"/><circle cx="522.6" cy="435.3" r="3.4" fill="#fbfbfb"/><circle cx="522.6" cy="433.7" r="3.2" fill="#d9d9d9"/><circle cx="522.6" cy="434.4" r="2.1" fill="#1a1a1a"/>
<circle cx="522.6" cy="446.8" r="3.6" fill="#cfcfcf"/><circle cx="522.6" cy="447.9" r="3.4" fill="#fbfbfb"/><circle cx="522.6" cy="446.3" r="3.2" fill="#d9d9d9"/><circle cx="522.6" cy="447" r="2.1" fill="#1a1a1a"/>
<circle cx="522.6" cy="459.3" r="3.6" fill="#cfcfcf"/><circle cx="522.6" cy="460.4" r="3.4" fill="#fbfbfb"/><circle cx="522.6" cy="458.8" r="3.2" fill="#d9d9d9"/><circle cx="522.6" cy="459.5" r="2.1" fill="#1a1a1a"/>
<circle cx="522.6" cy="471.9" r="3.6" fill="#cfcfcf"/><circle cx="522.6" cy="473" r="3.4" fill="#fbfbfb"/><circle cx="522.6" cy="471.4" r="3.2" fill="#d9d9d9"/><circle cx="522.6" cy="472.1" r="2.1" fill="#1a1a1a"/>
<circle cx="522.6" cy="484.5" r="3.6" fill="#cfcfcf"/><circle cx="522.6" cy="485.6" r="3.4" fill="#fbfbfb"/><circle cx="522.6" cy="484" r="3.2" fill="#d9d9d9"/><circle cx="522.6" cy="484.7" r="2.1" fill="#1a1a1a"/>
<circle cx="535.2" cy="345.8" r="3.6" fill="#cfcfcf"/><circle cx="535.2" cy="346.9" r="3.4" fill="#fbfbfb"/><circle cx="535.2" cy="345.3" r="3.2" fill="#d9d9d9"/><circle cx="535.2" cy="346" r="2.1" fill="#1a1a1a"/>
<circle cx="535.2" cy="358.4" r="3.6" fill="#cfcfcf"/><circle cx="535.2" cy="359.5" r="3.4" fill="#fbfbfb"/><circle cx="535.2" cy="357.9" r="3.2" fill="#d9d9d9"/><circle cx="535.2" cy="358.6" r="2.1" fill="#1a1a1a"/>
<circle cx="535.2" cy="371" r="3.6" fill="#cfcfcf"/><circle cx="535.2" cy="372.1" r="3.4" fill="#fbfbfb"/><circle cx="535.2" cy="370.5" r="3.2" fill="#d9d9d9"/><circle cx="535.2" cy="371.2" r="2.1" fill="#1a1a1a"/>
<circle cx="535.2" cy="383.6" r="3.6" fill="#cfcfcf"/><circle cx="535.2" cy="384.7" r="3.4" fill="#fbfbfb"/><circle cx="535.2" cy="383.1" r="3.2" fill="#d9d9d9"/><circle cx="535.2" cy="383.8" r="2.1" fill="#1a1a1a"/>
<circle cx="535.2" cy="396.2" r="3.6" fill="#cfcfcf"/><circle cx="535.2" cy="397.3" r="3.4" fill="#fbfbfb"/><circle cx="535.2" cy="395.7" r="3.2" fill="#d9d9d9"/><circle cx="535.2" cy="396.4" r="2.1" fill="#1a1a1a"/>
<circle cx="535.2" cy="434.2" r="3.6" fill="#cfcfcf"/><circle cx="535.2" cy="435.3" r="3.4" fill="#fbfbfb"/><circle cx="535.2" cy="433.7" r="3.2" fill="#d9d9d9"/><circle cx="535.2" cy="434.4" r="2.1" fill="#1a1a1a"/>
<circle cx="535.2" cy="446.8" r="3.6" fill="#cfcfcf"/><circle cx="535.2" cy="447.9" r="3.4" fill="#fbfbfb"/><circle cx="535.2" cy="446.3" r="3.2" fill="#d9d9d9"/><circle cx="535.2" cy="447" r="2.1" fill="#1a1a1a"/>
<circle cx="535.2" cy="459.3" r="3.6" fill="#cfcfcf"/><circle cx="535.2" cy="460.4" r="3.4" fill="#fbfbfb"/><circle cx="535.2" cy="458.8" r="3.2" fill="#d9d9d9"/><circle cx="535.2" cy="459.5" r="2.1" fill="#1a1a1a"/>
<circle cx="535.2" cy="471.9" r="3.6" fill="#cfcfcf"/><circle cx="535.2" cy="473" r="3.4" fill="#fbfbfb"/><circle cx="535.2" cy="471.4" r="3.2" fill="#d9d9d9"/><circle cx="535.2" cy="472.1" r="2.1" fill="#1a1a1a"/>
<circle cx="535.2" cy="484.5" r="3.6" fill="#cfcfcf"/><circle cx="535.2" cy="485.6" r="3.4" fill="#fbfbfb"/><circle cx="535.2" cy="484" r="3.2" fill="#d9d9d9"/><circle cx="535.2" cy="484.7" r="2.1" fill="#1a1a1a"/>
<circle cx="547.8" cy="345.8" r="3.6" fill="#cfcfcf"/><circle cx="547.8" cy="346.9" r="3.4" fill="#fbfbfb"/><circle cx="547.8" cy="345.3" r="3.2" fill="#d9d9d9"/><circle cx="547.8" cy="346" r="2.1" fill="#1a1a1a"/>
<circle cx="547.8" cy="358.4" r="3.6" fill="#cfcfcf"/><circle cx="547.8" cy="359.5" r="3.4" fill="#fbfbfb"/><circle cx="547.8" cy="357.9" r="3.2" fill="#d9d9d9"/><circle cx="547.8" cy="358.6" r="2.1" fill="#1a1a1a"/>
<circle cx="547.8" cy="371" r="3.6" fill="#cfcfcf"/><circle cx="547.8" cy="372.1" r="3.4" fill="#fbfbfb"/><circle cx="547.8" cy="370.5" r="3.2" fill="#d9d9d9"/><circle cx="547.8" cy="371.2" r="2.1" fill="#1a1a1a"/>
<circle cx="547.8" cy="383.6" r="3.6" fill="#cfcfcf"/><circle cx="547.8" cy="384.7" r="3.4" fill="#fbfbfb"/><circle cx="547.8" cy="383.1" r="3.2" fill="#d9d9d9"/><circle cx="547.8" cy="383.8" r="2.1" fill="#1a1a1a"/>
<circle cx="547.8" cy="396.2" r="3.6" fill="#cfcfcf"/><circle cx="547.8" cy="397.3" r="3.4" fill="#fbfbfb"/><circle cx="547.8" cy="395.7" r="3.2" fill="#d9d9d9"/><circle cx="547.8" cy="396.4" r="2.1" fill="#1a1a1a"/>
<circle cx="547.8" cy="434.2" r="3.6" fill="#cfcfcf"/><circle cx="547.8" cy="435.3" r="3.4" fill="#fbfbfb"/><circle cx="547.8" cy="433.7" r="3.2" fill="#d9d9d9"/><circle cx="547.8" cy="434.4" r="2.1" fill="#1a1a1a"/>
<circle cx="547.8" cy="446.8" r="3.6" fill="#cfcfcf"/><circle cx="547.8" cy="447.9" r="3.4" fill="#fbfbfb"/><circle cx="547.8" cy="446.3" r="3.2" fill="#d9d9d9"/><circle cx="547.8" cy="447" r="2.1" fill="#1a1a1a"/>
<circle cx="547.8" cy="459.3" r="3.6" fill="#cfcfcf"/><circle cx="547.8" cy="460.4" r="3.4" fill="#fbfbfb"/><circle cx="547.8" cy="458.8" r="3.2" fill="#d9d9d9"/><circle cx="547.8" cy="459.5" r="2.1" fill="#1a1a1a"/>
<circle cx="547.8" cy="471.9" r="3.6" fill="#cfcfcf"/><circle cx="547.8" cy="473" r="3.4" fill="#fbfbfb"/><circle cx="547.8" cy="471.4" r="3.2" fill="#d9d9d9"/><circle cx="547.8" cy="472.1" r="2.1" fill="#1a1a1a"/>
<circle cx="547.8" cy="484.5" r="3.6" fill="#cfcfcf"/><circle cx="547.8" cy="485.6" r="3.4" fill="#fbfbfb"/><circle cx="547.8" cy="484" r="3.2" fill="#d9d9d9"/><circle cx="547.8" cy="484.7" r="2.1" fill="#1a1a1a"/>
<circle cx="560.5" cy="371" r="3.6" fill="#cfcfcf"/><circle cx="560.5" cy="372.1" r="3.4" fill="#fbfbfb"/><circle cx="560.5" cy="370.5" r="3.2" fill="#d9d9d9"/><circle cx="560.5" cy="371.2" r="2.1" fill="#1a1a1a"/>
<circle cx="560.5" cy="383.6" r="3.6" fill="#cfcfcf"/><circle cx="560.5" cy="384.7" r="3.4" fill="#fbfbfb"/><circle cx="560.5" cy="383.1" r="3.2" fill="#d9d9d9"/><circle cx="560.5" cy="383.8" r="2.1" fill="#1a1a1a"/>
<circle cx="560.5" cy="396.2" r="3.6" fill="#cfcfcf"/><circle cx="560.5" cy="397.3" r="3.4" fill="#fbfbfb"/><circle cx="560.5" cy="395.7" r="3.2" fill="#d9d9d9"/><circle cx="560.5" cy="396.4" r="2.1" fill="#1a1a1a"/>
<circle cx="560.5" cy="434.2" r="3.6" fill="#cfcfcf"/><circle cx="560.5" cy="435.3" r="3.4" fill="#fbfbfb"/><circle cx="560.5" cy="433.7" r="3.2" fill="#d9d9d9"/><circle cx="560.5" cy="434.4" r="2.1" fill="#1a1a1a"/>
<circle cx="560.5" cy="446.8" r="3.6" fill="#cfcfcf"/><circle cx="560.5" cy="447.9" r="3.4" fill="#fbfbfb"/><circle cx="560.5" cy="446.3" r="3.2" fill="#d9d9d9"/><circle cx="560.5" cy="447" r="2.1" fill="#1a1a1a"/>
<circle cx="560.5" cy="459.3" r="3.6" fill="#cfcfcf"/><circle cx="560.5" cy="460.4" r="3.4" fill="#fbfbfb"/><circle cx="560.5" cy="458.8" r="3.2" fill="#d9d9d9"/><circle cx="560.5" cy="459.5" r="2.1" fill="#1a1a1a"/>
<circle cx="560.5" cy="471.9" r="3.6" fill="#cfcfcf"/><circle cx="560.5" cy="473" r="3.4" fill="#fbfbfb"/><circle cx="560.5" cy="471.4" r="3.2" fill="#d9d9d9"/><circle cx="560.5" cy="472.1" r="2.1" fill="#1a1a1a"/>
<circle cx="560.5" cy="484.5" r="3.6" fill="#cfcfcf"/><circle cx="560.5" cy="485.6" r="3.4" fill="#fbfbfb"/><circle cx="560.5" cy="484" r="3.2" fill="#d9d9d9"/><circle cx="560.5" cy="484.7" r="2.1" fill="#1a1a1a"/>
<circle cx="573.1" cy="346" r="5.6" fill="url(#gh)"/>
<circle cx="573.1" cy="358.6" r="5.6" fill="url(#gh)"/>
<circle cx="573.1" cy="371.2" r="5.6" fill="url(#gh)"/>
<circle cx="573.1" cy="383.8" r="5.6" fill="url(#gh)"/>
<circle cx="573.1" cy="396.4" r="5.6" fill="url(#gh)"/>
<circle cx="573.1" cy="434.2" r="3.6" fill="#cfcfcf"/><circle cx="573.1" cy="435.3" r="3.4" fill="#fbfbfb"/><circle cx="573.1" cy="433.7" r="3.2" fill="#d9d9d9"/><circle cx="573.1" cy="434.4" r="2.1" fill="#1a1a1a"/>
<circle cx="573.1" cy="446.8" r="3.6" fill="#cfcfcf"/><circle cx="573.1" cy="447.9" r="3.4" fill="#fbfbfb"/><circle cx="573.1" cy="446.3" r="3.2" fill="#d9d9d9"/><circle cx="573.1" cy="447" r="2.1" fill="#1a1a1a"/>
<circle cx="573.1" cy="459.3" r="3.6" fill="#cfcfcf"/><circle cx="573.1" cy="460.4" r="3.4" fill="#fbfbfb"/><circle cx="573.1" cy="458.8" r="3.2" fill="#d9d9d9"/><circle cx="573.1" cy="459.5" r="2.1" fill="#1a1a1a"/>
<circle cx="573.1" cy="471.9" r="3.6" fill="#cfcfcf"/><circle cx="573.1" cy="473" r="3.4" fill="#fbfbfb"/><circle cx="573.1" cy="471.4" r="3.2" fill="#d9d9d9"/><circle cx="573.1" cy="472.1" r="2.1" fill="#1a1a1a"/>
<circle cx="573.1" cy="484.5" r="3.6" fill="#cfcfcf"/><circle cx="573.1" cy="485.6" r="3.4" fill="#fbfbfb"/><circle cx="573.1" cy="484" r="3.2" fill="#d9d9d9"/><circle cx="573.1" cy="484.7" r="2.1" fill="#1a1a1a"/>
<circle cx="585.7" cy="345.8" r="3.6" fill="#cfcfcf"/><circle cx="585.7" cy="346.9" r="3.4" fill="#fbfbfb"/><circle cx="585.7" cy="345.3" r="3.2" fill="#d9d9d9"/><circle cx="585.7" cy="346" r="2.1" fill="#1a1a1a"/>
<circle cx="585.7" cy="358.4" r="3.6" fill="#cfcfcf"/><circle cx="585.7" cy="359.5" r="3.4" fill="#fbfbfb"/><circle cx="585.7" cy="357.9" r="3.2" fill="#d9d9d9"/><circle cx="585.7" cy="358.6" r="2.1" fill="#1a1a1a"/>
<circle cx="585.7" cy="371" r="3.6" fill="#cfcfcf"/><circle cx="585.7" cy="372.1" r="3.4" fill="#fbfbfb"/><circle cx="585.7" cy="370.5" r="3.2" fill="#d9d9d9"/><circle cx="585.7" cy="371.2" r="2.1" fill="#1a1a1a"/>
<circle cx="585.7" cy="383.6" r="3.6" fill="#cfcfcf"/><circle cx="585.7" cy="384.7" r="3.4" fill="#fbfbfb"/><circle cx="585.7" cy="383.1" r="3.2" fill="#d9d9d9"/><circle cx="585.7" cy="383.8" r="2.1" fill="#1a1a1a"/>
<circle cx="585.7" cy="396.2" r="3.6" fill="#cfcfcf"/><circle cx="585.7" cy="397.3" r="3.4" fill="#fbfbfb"/><circle cx="585.7" cy="395.7" r="3.2" fill="#d9d9d9"/><circle cx="585.7" cy="396.4" r="2.1" fill="#1a1a1a"/>
<circle cx="585.7" cy="434.2" r="3.6" fill="#cfcfcf"/><circle cx="585.7" cy="435.3" r="3.4" fill="#fbfbfb"/><circle cx="585.7" cy="433.7" r="3.2" fill="#d9d9d9"/><circle cx="585.7" cy="434.4" r="2.1" fill="#1a1a1a"/>
<circle cx="585.7" cy="446.8" r="3.6" fill="#cfcfcf"/><circle cx="585.7" cy="447.9" r="3.4" fill="#fbfbfb"/><circle cx="585.7" cy="446.3" r="3.2" fill="#d9d9d9"/><circle cx="585.7" cy="447" r="2.1" fill="#1a1a1a"/>
<circle cx="585.7" cy="459.3" r="3.6" fill="#cfcfcf"/><circle cx="585.7" cy="460.4" r="3.4" fill="#fbfbfb"/><circle cx="585.7" cy="458.8" r="3.2" fill="#d9d9d9"/><circle cx="585.7" cy="459.5" r="2.1" fill="#1a1a1a"/>
<circle cx="585.7" cy="471.9" r="3.6" fill="#cfcfcf"/><circle cx="585.7" cy="473" r="3.4" fill="#fbfbfb"/><circle cx="585.7" cy="471.4" r="3.2" fill="#d9d9d9"/><circle cx="585.7" cy="472.1" r="2.1" fill="#1a1a1a"/>
<circle cx="585.7" cy="484.5" r="3.6" fill="#cfcfcf"/><circle cx="585.7" cy="485.6" r="3.4" fill="#fbfbfb"/><circle cx="585.7" cy="484" r="3.2" fill="#d9d9d9"/><circle cx="585.7" cy="484.7" r="2.1" fill="#1a1a1a"/>
<circle cx="598.3" cy="345.8" r="3.6" fill="#cfcfcf"/><circle cx="598.3" cy="346.9" r="3.4" fill="#fbfbfb"/><circle cx="598.3" cy="345.3" r="3.2" fill="#d9d9d9"/><circle cx="598.3" cy="346" r="2.1" fill="#1a1a1a"/>
<circle cx="598.3" cy="358.4" r="3.6" fill="#cfcfcf"/><circle cx="598.3" cy="359.5" r="3.4" fill="#fbfbfb"/><circle cx="598.3" cy="357.9" r="3.2" fill="#d9d9d9"/><circle cx="598.3" cy="358.6" r="2.1" fill="#1a1a1a"/>
<circle cx="598.3" cy="371" r="3.6" fill="#cfcfcf"/><circle cx="598.3" cy="372.1" r="3.4" fill="#fbfbfb"/><circle cx="598.3" cy="370.5" r="3.2" fill="#d9d9d9"/><circle cx="598.3" cy="371.2" r="2.1" fill="#1a1a1a"/>
<circle cx="598.3" cy="383.6" r="3.6" fill="#cfcfcf"/><circle cx="598.3" cy="384.7" r="3.4" fill="#fbfbfb"/><circle cx="598.3" cy="383.1" r="3.2" fill="#d9d9d9"/><circle cx="598.3" cy="383.8" r="2.1" fill="#1a1a1a"/>
<circle cx="598.3" cy="396.2" r="3.6" fill="#cfcfcf"/><circle cx="598.3" cy="397.3" r="3.4" fill="#fbfbfb"/><circle cx="598.3" cy="395.7" r="3.2" fill="#d9d9d9"/><circle cx="598.3" cy="396.4" r="2.1" fill="#1a1a1a"/>
<circle cx="598.3" cy="434.2" r="3.6" fill="#cfcfcf"/><circle cx="598.3" cy="435.3" r="3.4" fill="#fbfbfb"/><circle cx="598.3" cy="433.7" r="3.2" fill="#d9d9d9"/><circle cx="598.3" cy="434.4" r="2.1" fill="#1a1a1a"/>
<circle cx="598.3" cy="446.8" r="3.6" fill="#cfcfcf"/><circle cx="598.3" cy="447.9" r="3.4" fill="#fbfbfb"/><circle cx="598.3" cy="446.3" r="3.2" fill="#d9d9d9"/><circle cx="598.3" cy="447" r="2.1" fill="#1a1a1a"/>
<circle cx="598.3" cy="459.3" r="3.6" fill="#cfcfcf"/><circle cx="598.3" cy="460.4" r="3.4" fill="#fbfbfb"/><circle cx="598.3" cy="458.8" r="3.2" fill="#d9d9d9"/><circle cx="598.3" cy="459.5" r="2.1" fill="#1a1a1a"/>
<circle cx="598.3" cy="471.9" r="3.6" fill="#cfcfcf"/><circle cx="598.3" cy="473" r="3.4" fill="#fbfbfb"/><circle cx="598.3" cy="471.4" r="3.2" fill="#d9d9d9"/><circle cx="598.3" cy="472.1" r="2.1" fill="#1a1a1a"/>
<circle cx="598.3" cy="484.5" r="3.6" fill="#cfcfcf"/><circle cx="598.3" cy="485.6" r="3.4" fill="#fbfbfb"/><circle cx="598.3" cy="484" r="3.2" fill="#d9d9d9"/><circle cx="598.3" cy="484.7" r="2.1" fill="#1a1a1a"/>
<circle cx="610.9" cy="345.8" r="3.6" fill="#cfcfcf"/><circle cx="610.9" cy="346.9" r="3.4" fill="#fbfbfb"/><circle cx="610.9" cy="345.3" r="3.2" fill="#d9d9d9"/><circle cx="610.9" cy="346" r="2.1" fill="#1a1a1a"/>
<circle cx="610.9" cy="358.4" r="3.6" fill="#cfcfcf"/><circle cx="610.9" cy="359.5" r="3.4" fill="#fbfbfb"/><circle cx="610.9" cy="357.9" r="3.2" fill="#d9d9d9"/><circle cx="610.9" cy="358.6" r="2.1" fill="#1a1a1a"/>
<circle cx="610.9" cy="371" r="3.6" fill="#cfcfcf"/><circle cx="610.9" cy="372.1" r="3.4" fill="#fbfbfb"/><circle cx="610.9" cy="370.5" r="3.2" fill="#d9d9d9"/><circle cx="610.9" cy="371.2" r="2.1" fill="#1a1a1a"/>
<circle cx="610.9" cy="383.6" r="3.6" fill="#cfcfcf"/><circle cx="610.9" cy="384.7" r="3.4" fill="#fbfbfb"/><circle cx="610.9" cy="383.1" r="3.2" fill="#d9d9d9"/><circle cx="610.9" cy="383.8" r="2.1" fill="#1a1a1a"/>
<circle cx="610.9" cy="396.2" r="3.6" fill="#cfcfcf"/><circle cx="610.9" cy="397.3" r="3.4" fill="#fbfbfb"/><circle cx="610.9" cy="395.7" r="3.2" fill="#d9d9d9"/><circle cx="610.9" cy="396.4" r="2.1" fill="#1a1a1a"/>
<circle cx="610.9" cy="434.2" r="3.6" fill="#cfcfcf"/><circle cx="610.9" cy="435.3" r="3.4" fill="#fbfbfb"/><circle cx="610.9" cy="433.7" r="3.2" fill="#d9d9d9"/><circle cx="610.9" cy="434.4" r="2.1" fill="#1a1a1a"/>
<circle cx="610.9" cy="446.8" r="3.6" fill="#cfcfcf"/><circle cx="610.9" cy="447.9" r="3.4" fill="#fbfbfb"/><circle cx="610.9" cy="446.3" r="3.2" fill="#d9d9d9"/><circle cx="610.9" cy="447" r="2.1" fill="#1a1a1a"/>
<circle cx="610.9" cy="459.3" r="3.6" fill="#cfcfcf"/><circle cx="610.9" cy="460.4" r="3.4" fill="#fbfbfb"/><circle cx="610.9" cy="458.8" r="3.2" fill="#d9d9d9"/><circle cx="610.9" cy="459.5" r="2.1" fill="#1a1a1a"/>
<circle cx="610.9" cy="471.9" r="3.6" fill="#cfcfcf"/><circle cx="610.9" cy="473" r="3.4" fill="#fbfbfb"/><circle cx="610.9" cy="471.4" r="3.2" fill="#d9d9d9"/><circle cx="610.9" cy="472.1" r="2.1" fill="#1a1a1a"/>
<circle cx="610.9" cy="484.5" r="3.6" fill="#cfcfcf"/><circle cx="610.9" cy="485.6" r="3.4" fill="#fbfbfb"/><circle cx="610.9" cy="484" r="3.2" fill="#d9d9d9"/><circle cx="610.9" cy="484.7" r="2.1" fill="#1a1a1a"/>
<circle cx="623.5" cy="345.8" r="3.6" fill="#cfcfcf"/><circle cx="623.5" cy="346.9" r="3.4" fill="#fbfbfb"/><circle cx="623.5" cy="345.3" r="3.2" fill="#d9d9d9"/><circle cx="623.5" cy="346" r="2.1" fill="#1a1a1a"/>
<circle cx="623.5" cy="358.4" r="3.6" fill="#cfcfcf"/><circle cx="623.5" cy="359.5" r="3.4" fill="#fbfbfb"/><circle cx="623.5" cy="357.9" r="3.2" fill="#d9d9d9"/><circle cx="623.5" cy="358.6" r="2.1" fill="#1a1a1a"/>
<circle cx="623.5" cy="371" r="3.6" fill="#cfcfcf"/><circle cx="623.5" cy="372.1" r="3.4" fill="#fbfbfb"/><circle cx="623.5" cy="370.5" r="3.2" fill="#d9d9d9"/><circle cx="623.5" cy="371.2" r="2.1" fill="#1a1a1a"/>
<circle cx="623.5" cy="383.6" r="3.6" fill="#cfcfcf"/><circle cx="623.5" cy="384.7" r="3.4" fill="#fbfbfb"/><circle cx="623.5" cy="383.1" r="3.2" fill="#d9d9d9"/><circle cx="623.5" cy="383.8" r="2.1" fill="#1a1a1a"/>
<circle cx="623.5" cy="396.2" r="3.6" fill="#cfcfcf"/><circle cx="623.5" cy="397.3" r="3.4" fill="#fbfbfb"/><circle cx="623.5" cy="395.7" r="3.2" fill="#d9d9d9"/><circle cx="623.5" cy="396.4" r="2.1" fill="#1a1a1a"/>
<circle cx="623.5" cy="434.2" r="3.6" fill="#cfcfcf"/><circle cx="623.5" cy="435.3" r="3.4" fill="#fbfbfb"/><circle cx="623.5" cy="433.7" r="3.2" fill="#d9d9d9"/><circle cx="623.5" cy="434.4" r="2.1" fill="#1a1a1a"/>
<circle cx="623.5" cy="446.8" r="3.6" fill="#cfcfcf"/><circle cx="623.5" cy="447.9" r="3.4" fill="#fbfbfb"/><circle cx="623.5" cy="446.3" r="3.2" fill="#d9d9d9"/><circle cx="623.5" cy="447" r="2.1" fill="#1a1a1a"/>
<circle cx="623.5" cy="459.3" r="3.6" fill="#cfcfcf"/><circle cx="623.5" cy="460.4" r="3.4" fill="#fbfbfb"/><circle cx="623.5" cy="458.8" r="3.2" fill="#d9d9d9"/><circle cx="623.5" cy="459.5" r="2.1" fill="#1a1a1a"/>
<circle cx="623.5" cy="471.9" r="3.6" fill="#cfcfcf"/><circle cx="623.5" cy="473" r="3.4" fill="#fbfbfb"/><circle cx="623.5" cy="471.4" r="3.2" fill="#d9d9d9"/><circle cx="623.5" cy="472.1" r="2.1" fill="#1a1a1a"/>
<circle cx="623.5" cy="484.5" r="3.6" fill="#cfcfcf"/><circle cx="623.5" cy="485.6" r="3.4" fill="#fbfbfb"/><circle cx="623.5" cy="484" r="3.2" fill="#d9d9d9"/><circle cx="623.5" cy="484.7" r="2.1" fill="#1a1a1a"/>
<circle cx="636.1" cy="345.8" r="3.6" fill="#cfcfcf"/><circle cx="636.1" cy="346.9" r="3.4" fill="#fbfbfb"/><circle cx="636.1" cy="345.3" r="3.2" fill="#d9d9d9"/><circle cx="636.1" cy="346" r="2.1" fill="#1a1a1a"/>
<circle cx="636.1" cy="358.4" r="3.6" fill="#cfcfcf"/><circle cx="636.1" cy="359.5" r="3.4" fill="#fbfbfb"/><circle cx="636.1" cy="357.9" r="3.2" fill="#d9d9d9"/><circle cx="636.1" cy="358.6" r="2.1" fill="#1a1a1a"/>
<circle cx="636.1" cy="371" r="3.6" fill="#cfcfcf"/><circle cx="636.1" cy="372.1" r="3.4" fill="#fbfbfb"/><circle cx="636.1" cy="370.5" r="3.2" fill="#d9d9d9"/><circle cx="636.1" cy="371.2" r="2.1" fill="#1a1a1a"/>
<circle cx="636.1" cy="383.6" r="3.6" fill="#cfcfcf"/><circle cx="636.1" cy="384.7" r="3.4" fill="#fbfbfb"/><circle cx="636.1" cy="383.1" r="3.2" fill="#d9d9d9"/><circle cx="636.1" cy="383.8" r="2.1" fill="#1a1a1a"/>
<circle cx="636.1" cy="396.2" r="3.6" fill="#cfcfcf"/><circle cx="636.1" cy="397.3" r="3.4" fill="#fbfbfb"/><circle cx="636.1" cy="395.7" r="3.2" fill="#d9d9d9"/><circle cx="636.1" cy="396.4" r="2.1" fill="#1a1a1a"/>
<circle cx="636.1" cy="434.2" r="3.6" fill="#cfcfcf"/><circle cx="636.1" cy="435.3" r="3.4" fill="#fbfbfb"/><circle cx="636.1" cy="433.7" r="3.2" fill="#d9d9d9"/><circle cx="636.1" cy="434.4" r="2.1" fill="#1a1a1a"/>
<circle cx="636.1" cy="446.8" r="3.6" fill="#cfcfcf"/><circle cx="636.1" cy="447.9" r="3.4" fill="#fbfbfb"/><circle cx="636.1" cy="446.3" r="3.2" fill="#d9d9d9"/><circle cx="636.1" cy="447" r="2.1" fill="#1a1a1a"/>
<circle cx="636.1" cy="459.3" r="3.6" fill="#cfcfcf"/><circle cx="636.1" cy="460.4" r="3.4" fill="#fbfbfb"/><circle cx="636.1" cy="458.8" r="3.2" fill="#d9d9d9"/><circle cx="636.1" cy="459.5" r="2.1" fill="#1a1a1a"/>
<circle cx="636.1" cy="471.9" r="3.6" fill="#cfcfcf"/><circle cx="636.1" cy="473" r="3.4" fill="#fbfbfb"/><circle cx="636.1" cy="471.4" r="3.2" fill="#d9d9d9"/><circle cx="636.1" cy="472.1" r="2.1" fill="#1a1a1a"/>
<circle cx="636.1" cy="484.5" r="3.6" fill="#cfcfcf"/><circle cx="636.1" cy="485.6" r="3.4" fill="#fbfbfb"/><circle cx="636.1" cy="484" r="3.2" fill="#d9d9d9"/><circle cx="636.1" cy="484.7" r="2.1" fill="#1a1a1a"/>
<circle cx="648.8" cy="345.8" r="3.6" fill="#cfcfcf"/><circle cx="648.8" cy="346.9" r="3.4" fill="#fbfbfb"/><circle cx="648.8" cy="345.3" r="3.2" fill="#d9d9d9"/><circle cx="648.8" cy="346" r="2.1" fill="#1a1a1a"/>
<circle cx="648.8" cy="358.4" r="3.6" fill="#cfcfcf"/><circle cx="648.8" cy="359.5" r="3.4" fill="#fbfbfb"/><circle cx="648.8" cy="357.9" r="3.2" fill="#d9d9d9"/><circle cx="648.8" cy="358.6" r="2.1" fill="#1a1a1a"/>
<circle cx="648.8" cy="371" r="3.6" fill="#cfcfcf"/><circle cx="648.8" cy="372.1" r="3.4" fill="#fbfbfb"/><circle cx="648.8" cy="370.5" r="3.2" fill="#d9d9d9"/><circle cx="648.8" cy="371.2" r="2.1" fill="#1a1a1a"/>
<circle cx="648.8" cy="383.6" r="3.6" fill="#cfcfcf"/><circle cx="648.8" cy="384.7" r="3.4" fill="#fbfbfb"/><circle cx="648.8" cy="383.1" r="3.2" fill="#d9d9d9"/><circle cx="648.8" cy="383.8" r="2.1" fill="#1a1a1a"/>
<circle cx="648.8" cy="396.2" r="3.6" fill="#cfcfcf"/><circle cx="648.8" cy="397.3" r="3.4" fill="#fbfbfb"/><circle cx="648.8" cy="395.7" r="3.2" fill="#d9d9d9"/><circle cx="648.8" cy="396.4" r="2.1" fill="#1a1a1a"/>
<circle cx="648.8" cy="434.2" r="3.6" fill="#cfcfcf"/><circle cx="648.8" cy="435.3" r="3.4" fill="#fbfbfb"/><circle cx="648.8" cy="433.7" r="3.2" fill="#d9d9d9"/><circle cx="648.8" cy="434.4" r="2.1" fill="#1a1a1a"/>
<circle cx="648.8" cy="446.8" r="3.6" fill="#cfcfcf"/><circle cx="648.8" cy="447.9" r="3.4" fill="#fbfbfb"/><circle cx="648.8" cy="446.3" r="3.2" fill="#d9d9d9"/><circle cx="648.8" cy="447" r="2.1" fill="#1a1a1a"/>
<circle cx="648.8" cy="459.3" r="3.6" fill="#cfcfcf"/><circle cx="648.8" cy="460.4" r="3.4" fill="#fbfbfb"/><circle cx="648.8" cy="458.8" r="3.2" fill="#d9d9d9"/><circle cx="648.8" cy="459.5" r="2.1" fill="#1a1a1a"/>
<circle cx="648.8" cy="471.9" r="3.6" fill="#cfcfcf"/><circle cx="648.8" cy="473" r="3.4" fill="#fbfbfb"/><circle cx="648.8" cy="471.4" r="3.2" fill="#d9d9d9"/><circle cx="648.8" cy="472.1" r="2.1" fill="#1a1a1a"/>
<circle cx="648.8" cy="484.5" r="3.6" fill="#cfcfcf"/><circle cx="648.8" cy="485.6" r="3.4" fill="#fbfbfb"/><circle cx="648.8" cy="484" r="3.2" fill="#d9d9d9"/><circle cx="648.8" cy="484.7" r="2.1" fill="#1a1a1a"/>
<circle cx="661.4" cy="345.8" r="3.6" fill="#cfcfcf"/><circle cx="661.4" cy="346.9" r="3.4" fill="#fbfbfb"/><circle cx="661.4" cy="345.3" r="3.2" fill="#d9d9d9"/><circle cx="661.4" cy="346" r="2.1" fill="#1a1a1a"/>
<circle cx="661.4" cy="358.4" r="3.6" fill="#cfcfcf"/><circle cx="661.4" cy="359.5" r="3.4" fill="#fbfbfb"/><circle cx="661.4" cy="357.9" r="3.2" fill="#d9d9d9"/><circle cx="661.4" cy="358.6" r="2.1" fill="#1a1a1a"/>
<circle cx="661.4" cy="371" r="3.6" fill="#cfcfcf"/><circle cx="661.4" cy="372.1" r="3.4" fill="#fbfbfb"/><circle cx="661.4" cy="370.5" r="3.2" fill="#d9d9d9"/><circle cx="661.4" cy="371.2" r="2.1" fill="#1a1a1a"/>
<circle cx="661.4" cy="383.6" r="3.6" fill="#cfcfcf"/><circle cx="661.4" cy="384.7" r="3.4" fill="#fbfbfb"/><circle cx="661.4" cy="383.1" r="3.2" fill="#d9d9d9"/><circle cx="661.4" cy="383.8" r="2.1" fill="#1a1a1a"/>
<circle cx="661.4" cy="396.2" r="3.6" fill="#cfcfcf"/><circle cx="661.4" cy="397.3" r="3.4" fill="#fbfbfb"/><circle cx="661.4" cy="395.7" r="3.2" fill="#d9d9d9"/><circle cx="661.4" cy="396.4" r="2.1" fill="#1a1a1a"/>
<circle cx="661.4" cy="434.2" r="3.6" fill="#cfcfcf"/><circle cx="661.4" cy="435.3" r="3.4" fill="#fbfbfb"/><circle cx="661.4" cy="433.7" r="3.2" fill="#d9d9d9"/><circle cx="661.4" cy="434.4" r="2.1" fill="#1a1a1a"/>
<circle cx="661.4" cy="446.8" r="3.6" fill="#cfcfcf"/><circle cx="661.4" cy="447.9" r="3.4" fill="#fbfbfb"/><circle cx="661.4" cy="446.3" r="3.2" fill="#d9d9d9"/><circle cx="661.4" cy="447" r="2.1" fill="#1a1a1a"/>
<circle cx="661.4" cy="459.3" r="3.6" fill="#cfcfcf"/><circle cx="661.4" cy="460.4" r="3.4" fill="#fbfbfb"/><circle cx="661.4" cy="458.8" r="3.2" fill="#d9d9d9"/><circle cx="661.4" cy="459.5" r="2.1" fill="#1a1a1a"/>
<circle cx="661.4" cy="471.9" r="3.6" fill="#cfcfcf"/><circle cx="661.4" cy="473" r="3.4" fill="#fbfbfb"/><circle cx="661.4" cy="471.4" r="3.2" fill="#d9d9d9"/><circle cx="661.4" cy="472.1" r="2.1" fill="#1a1a1a"/>
<circle cx="661.4" cy="484.5" r="3.6" fill="#cfcfcf"/><circle cx="661.4" cy="485.6" r="3.4" fill="#fbfbfb"/><circle cx="661.4" cy="484" r="3.2" fill="#d9d9d9"/><circle cx="661.4" cy="484.7" r="2.1" fill="#1a1a1a"/>
<circle cx="674" cy="345.8" r="3.6" fill="#cfcfcf"/><circle cx="674" cy="346.9" r="3.4" fill="#fbfbfb"/><circle cx="674" cy="345.3" r="3.2" fill="#d9d9d9"/><circle cx="674" cy="346" r="2.1" fill="#1a1a1a"/>
<circle cx="674" cy="358.4" r="3.6" fill="#cfcfcf"/><circle cx="674" cy="359.5" r="3.4" fill="#fbfbfb"/><circle cx="674" cy="357.9" r="3.2" fill="#d9d9d9"/><circle cx="674" cy="358.6" r="2.1" fill="#1a1a1a"/>
<circle cx="674" cy="371" r="3.6" fill="#cfcfcf"/><circle cx="674" cy="372.1" r="3.4" fill="#fbfbfb"/><circle cx="674" cy="370.5" r="3.2" fill="#d9d9d9"/><circle cx="674" cy="371.2" r="2.1" fill="#1a1a1a"/>
<circle cx="674" cy="383.6" r="3.6" fill="#cfcfcf"/><circle cx="674" cy="384.7" r="3.4" fill="#fbfbfb"/><circle cx="674" cy="383.1" r="3.2" fill="#d9d9d9"/><circle cx="674" cy="383.8" r="2.1" fill="#1a1a1a"/>
<circle cx="674" cy="396.2" r="3.6" fill="#cfcfcf"/><circle cx="674" cy="397.3" r="3.4" fill="#fbfbfb"/><circle cx="674" cy="395.7" r="3.2" fill="#d9d9d9"/><circle cx="674" cy="396.4" r="2.1" fill="#1a1a1a"/>
<circle cx="674" cy="434.2" r="3.6" fill="#cfcfcf"/><circle cx="674" cy="435.3" r="3.4" fill="#fbfbfb"/><circle cx="674" cy="433.7" r="3.2" fill="#d9d9d9"/><circle cx="674" cy="434.4" r="2.1" fill="#1a1a1a"/>
<circle cx="674" cy="446.8" r="3.6" fill="#cfcfcf"/><circle cx="674" cy="447.9" r="3.4" fill="#fbfbfb"/><circle cx="674" cy="446.3" r="3.2" fill="#d9d9d9"/><circle cx="674" cy="447" r="2.1" fill="#1a1a1a"/>
<circle cx="674" cy="459.3" r="3.6" fill="#cfcfcf"/><circle cx="674" cy="460.4" r="3.4" fill="#fbfbfb"/><circle cx="674" cy="458.8" r="3.2" fill="#d9d9d9"/><circle cx="674" cy="459.5" r="2.1" fill="#1a1a1a"/>
<circle cx="674" cy="471.9" r="3.6" fill="#cfcfcf"/><circle cx="674" cy="473" r="3.4" fill="#fbfbfb"/><circle cx="674" cy="471.4" r="3.2" fill="#d9d9d9"/><circle cx="674" cy="472.1" r="2.1" fill="#1a1a1a"/>
<circle cx="674" cy="484.5" r="3.6" fill="#cfcfcf"/><circle cx="674" cy="485.6" r="3.4" fill="#fbfbfb"/><circle cx="674" cy="484" r="3.2" fill="#d9d9d9"/><circle cx="674" cy="484.7" r="2.1" fill="#1a1a1a"/>
<circle cx="686.6" cy="345.8" r="3.6" fill="#cfcfcf"/><circle cx="686.6" cy="346.9" r="3.4" fill="#fbfbfb"/><circle cx="686.6" cy="345.3" r="3.2" fill="#d9d9d9"/><circle cx="686.6" cy="346" r="2.1" fill="#1a1a1a"/>
<circle cx="686.6" cy="358.4" r="3.6" fill="#cfcfcf"/><circle cx="686.6" cy="359.5" r="3.4" fill="#fbfbfb"/><circle cx="686.6" cy="357.9" r="3.2" fill="#d9d9d9"/><circle cx="686.6" cy="358.6" r="2.1" fill="#1a1a1a"/>
<circle cx="686.6" cy="371" r="3.6" fill="#cfcfcf"/><circle cx="686.6" cy="372.1" r="3.4" fill="#fbfbfb"/><circle cx="686.6" cy="370.5" r="3.2" fill="#d9d9d9"/><circle cx="686.6" cy="371.2" r="2.1" fill="#1a1a1a"/>
<circle cx="686.6" cy="383.6" r="3.6" fill="#cfcfcf"/><circle cx="686.6" cy="384.7" r="3.4" fill="#fbfbfb"/><circle cx="686.6" cy="383.1" r="3.2" fill="#d9d9d9"/><circle cx="686.6" cy="383.8" r="2.1" fill="#1a1a1a"/>
<circle cx="686.6" cy="396.2" r="3.6" fill="#cfcfcf"/><circle cx="686.6" cy="397.3" r="3.4" fill="#fbfbfb"/><circle cx="686.6" cy="395.7" r="3.2" fill="#d9d9d9"/><circle cx="686.6" cy="396.4" r="2.1" fill="#1a1a1a"/>
<circle cx="686.6" cy="434.2" r="3.6" fill="#cfcfcf"/><circle cx="686.6" cy="435.3" r="3.4" fill="#fbfbfb"/><circle cx="686.6" cy="433.7" r="3.2" fill="#d9d9d9"/><circle cx="686.6" cy="434.4" r="2.1" fill="#1a1a1a"/>
<circle cx="686.6" cy="446.8" r="3.6" fill="#cfcfcf"/><circle cx="686.6" cy="447.9" r="3.4" fill="#fbfbfb"/><circle cx="686.6" cy="446.3" r="3.2" fill="#d9d9d9"/><circle cx="686.6" cy="447" r="2.1" fill="#1a1a1a"/>
<circle cx="686.6" cy="459.3" r="3.6" fill="#cfcfcf"/><circle cx="686.6" cy="460.4" r="3.4" fill="#fbfbfb"/><circle cx="686.6" cy="458.8" r="3.2" fill="#d9d9d9"/><circle cx="686.6" cy="459.5" r="2.1" fill="#1a1a1a"/>
<circle cx="686.6" cy="471.9" r="3.6" fill="#cfcfcf"/><circle cx="686.6" cy="473" r="3.4" fill="#fbfbfb"/><circle cx="686.6" cy="471.4" r="3.2" fill="#d9d9d9"/><circle cx="686.6" cy="472.1" r="2.1" fill="#1a1a1a"/>
<circle cx="686.6" cy="484.5" r="3.6" fill="#cfcfcf"/><circle cx="686.6" cy="485.6" r="3.4" fill="#fbfbfb"/><circle cx="686.6" cy="484" r="3.2" fill="#d9d9d9"/><circle cx="686.6" cy="484.7" r="2.1" fill="#1a1a1a"/>
<circle cx="699.2" cy="345.8" r="3.6" fill="#cfcfcf"/><circle cx="699.2" cy="346.9" r="3.4" fill="#fbfbfb"/><circle cx="699.2" cy="345.3" r="3.2" fill="#d9d9d9"/><circle cx="699.2" cy="346" r="2.1" fill="#1a1a1a"/>
<circle cx="699.2" cy="358.4" r="3.6" fill="#cfcfcf"/><circle cx="699.2" cy="359.5" r="3.4" fill="#fbfbfb"/><circle cx="699.2" cy="357.9" r="3.2" fill="#d9d9d9"/><circle cx="699.2" cy="358.6" r="2.1" fill="#1a1a1a"/>
<circle cx="699.2" cy="371" r="3.6" fill="#cfcfcf"/><circle cx="699.2" cy="372.1" r="3.4" fill="#fbfbfb"/><circle cx="699.2" cy="370.5" r="3.2" fill="#d9d9d9"/><circle cx="699.2" cy="371.2" r="2.1" fill="#1a1a1a"/>
<circle cx="699.2" cy="383.6" r="3.6" fill="#cfcfcf"/><circle cx="699.2" cy="384.7" r="3.4" fill="#fbfbfb"/><circle cx="699.2" cy="383.1" r="3.2" fill="#d9d9d9"/><circle cx="699.2" cy="383.8" r="2.1" fill="#1a1a1a"/>
<circle cx="699.2" cy="396.2" r="3.6" fill="#cfcfcf"/><circle cx="699.2" cy="397.3" r="3.4" fill="#fbfbfb"/><circle cx="699.2" cy="395.7" r="3.2" fill="#d9d9d9"/><circle cx="699.2" cy="396.4" r="2.1" fill="#1a1a1a"/>
<circle cx="699.2" cy="434.2" r="3.6" fill="#cfcfcf"/><circle cx="699.2" cy="435.3" r="3.4" fill="#fbfbfb"/><circle cx="699.2" cy="433.7" r="3.2" fill="#d9d9d9"/><circle cx="699.2" cy="434.4" r="2.1" fill="#1a1a1a"/>
<circle cx="699.2" cy="446.8" r="3.6" fill="#cfcfcf"/><circle cx="699.2" cy="447.9" r="3.4" fill="#fbfbfb"/><circle cx="699.2" cy="446.3" r="3.2" fill="#d9d9d9"/><circle cx="699.2" cy="447" r="2.1" fill="#1a1a1a"/>
<circle cx="699.2" cy="459.3" r="3.6" fill="#cfcfcf"/><circle cx="699.2" cy="460.4" r="3.4" fill="#fbfbfb"/><circle cx="699.2" cy="458.8" r="3.2" fill="#d9d9d9"/><circle cx="699.2" cy="459.5" r="2.1" fill="#1a1a1a"/>
<circle cx="699.2" cy="471.9" r="3.6" fill="#cfcfcf"/><circle cx="699.2" cy="473" r="3.4" fill="#fbfbfb"/><circle cx="699.2" cy="471.4" r="3.2" fill="#d9d9d9"/><circle cx="699.2" cy="472.1" r="2.1" fill="#1a1a1a"/>
<circle cx="699.2" cy="484.5" r="3.6" fill="#cfcfcf"/><circle cx="699.2" cy="485.6" r="3.4" fill="#fbfbfb"/><circle cx="699.2" cy="484" r="3.2" fill="#d9d9d9"/><circle cx="699.2" cy="484.7" r="2.1" fill="#1a1a1a"/>
<circle cx="711.8" cy="345.8" r="3.6" fill="#cfcfcf"/><circle cx="711.8" cy="346.9" r="3.4" fill="#fbfbfb"/><circle cx="711.8" cy="345.3" r="3.2" fill="#d9d9d9"/><circle cx="711.8" cy="346" r="2.1" fill="#1a1a1a"/>
<circle cx="711.8" cy="358.4" r="3.6" fill="#cfcfcf"/><circle cx="711.8" cy="359.5" r="3.4" fill="#fbfbfb"/><circle cx="711.8" cy="357.9" r="3.2" fill="#d9d9d9"/><circle cx="711.8" cy="358.6" r="2.1" fill="#1a1a1a"/>
<circle cx="711.8" cy="371" r="3.6" fill="#cfcfcf"/><circle cx="711.8" cy="372.1" r="3.4" fill="#fbfbfb"/><circle cx="711.8" cy="370.5" r="3.2" fill="#d9d9d9"/><circle cx="711.8" cy="371.2" r="2.1" fill="#1a1a1a"/>
<circle cx="711.8" cy="383.6" r="3.6" fill="#cfcfcf"/><circle cx="711.8" cy="384.7" r="3.4" fill="#fbfbfb"/><circle cx="711.8" cy="383.1" r="3.2" fill="#d9d9d9"/><circle cx="711.8" cy="383.8" r="2.1" fill="#1a1a1a"/>
<circle cx="711.8" cy="396.2" r="3.6" fill="#cfcfcf"/><circle cx="711.8" cy="397.3" r="3.4" fill="#fbfbfb"/><circle cx="711.8" cy="395.7" r="3.2" fill="#d9d9d9"/><circle cx="711.8" cy="396.4" r="2.1" fill="#1a1a1a"/>
<circle cx="711.8" cy="434.2" r="3.6" fill="#cfcfcf"/><circle cx="711.8" cy="435.3" r="3.4" fill="#fbfbfb"/><circle cx="711.8" cy="433.7" r="3.2" fill="#d9d9d9"/><circle cx="711.8" cy="434.4" r="2.1" fill="#1a1a1a"/>
<circle cx="711.8" cy="446.8" r="3.6" fill="#cfcfcf"/><circle cx="711.8" cy="447.9" r="3.4" fill="#fbfbfb"/><circle cx="711.8" cy="446.3" r="3.2" fill="#d9d9d9"/><circle cx="711.8" cy="447" r="2.1" fill="#1a1a1a"/>
<circle cx="711.8" cy="459.3" r="3.6" fill="#cfcfcf"/><circle cx="711.8" cy="460.4" r="3.4" fill="#fbfbfb"/><circle cx="711.8" cy="458.8" r="3.2" fill="#d9d9d9"/><circle cx="711.8" cy="459.5" r="2.1" fill="#1a1a1a"/>
<circle cx="711.8" cy="471.9" r="3.6" fill="#cfcfcf"/><circle cx="711.8" cy="473" r="3.4" fill="#fbfbfb"/><circle cx="711.8" cy="471.4" r="3.2" fill="#d9d9d9"/><circle cx="711.8" cy="472.1" r="2.1" fill="#1a1a1a"/>
<circle cx="711.8" cy="484.5" r="3.6" fill="#cfcfcf"/><circle cx="711.8" cy="485.6" r="3.4" fill="#fbfbfb"/><circle cx="711.8" cy="484" r="3.2" fill="#d9d9d9"/><circle cx="711.8" cy="484.7" r="2.1" fill="#1a1a1a"/>
<circle cx="724.5" cy="345.8" r="3.6" fill="#cfcfcf"/><circle cx="724.5" cy="346.9" r="3.4" fill="#fbfbfb"/><circle cx="724.5" cy="345.3" r="3.2" fill="#d9d9d9"/><circle cx="724.5" cy="346" r="2.1" fill="#1a1a1a"/>
<circle cx="724.5" cy="358.4" r="3.6" fill="#cfcfcf"/><circle cx="724.5" cy="359.5" r="3.4" fill="#fbfbfb"/><circle cx="724.5" cy="357.9" r="3.2" fill="#d9d9d9"/><circle cx="724.5" cy="358.6" r="2.1" fill="#1a1a1a"/>
<circle cx="724.5" cy="371" r="3.6" fill="#cfcfcf"/><circle cx="724.5" cy="372.1" r="3.4" fill="#fbfbfb"/><circle cx="724.5" cy="370.5" r="3.2" fill="#d9d9d9"/><circle cx="724.5" cy="371.2" r="2.1" fill="#1a1a1a"/>
<circle cx="724.5" cy="383.6" r="3.6" fill="#cfcfcf"/><circle cx="724.5" cy="384.7" r="3.4" fill="#fbfbfb"/><circle cx="724.5" cy="383.1" r="3.2" fill="#d9d9d9"/><circle cx="724.5" cy="383.8" r="2.1" fill="#1a1a1a"/>
<circle cx="724.5" cy="396.2" r="3.6" fill="#cfcfcf"/><circle cx="724.5" cy="397.3" r="3.4" fill="#fbfbfb"/><circle cx="724.5" cy="395.7" r="3.2" fill="#d9d9d9"/><circle cx="724.5" cy="396.4" r="2.1" fill="#1a1a1a"/>
<circle cx="724.5" cy="434.2" r="3.6" fill="#cfcfcf"/><circle cx="724.5" cy="435.3" r="3.4" fill="#fbfbfb"/><circle cx="724.5" cy="433.7" r="3.2" fill="#d9d9d9"/><circle cx="724.5" cy="434.4" r="2.1" fill="#1a1a1a"/>
<circle cx="724.5" cy="446.8" r="3.6" fill="#cfcfcf"/><circle cx="724.5" cy="447.9" r="3.4" fill="#fbfbfb"/><circle cx="724.5" cy="446.3" r="3.2" fill="#d9d9d9"/><circle cx="724.5" cy="447" r="2.1" fill="#1a1a1a"/>
<circle cx="724.5" cy="459.3" r="3.6" fill="#cfcfcf"/><circle cx="724.5" cy="460.4" r="3.4" fill="#fbfbfb"/><circle cx="724.5" cy="458.8" r="3.2" fill="#d9d9d9"/><circle cx="724.5" cy="459.5" r="2.1" fill="#1a1a1a"/>
<circle cx="724.5" cy="471.9" r="3.6" fill="#cfcfcf"/><circle cx="724.5" cy="473" r="3.4" fill="#fbfbfb"/><circle cx="724.5" cy="471.4" r="3.2" fill="#d9d9d9"/><circle cx="724.5" cy="472.1" r="2.1" fill="#1a1a1a"/>
<circle cx="724.5" cy="484.5" r="3.6" fill="#cfcfcf"/><circle cx="724.5" cy="485.6" r="3.4" fill="#fbfbfb"/><circle cx="724.5" cy="484" r="3.2" fill="#d9d9d9"/><circle cx="724.5" cy="484.7" r="2.1" fill="#1a1a1a"/>
<circle cx="737.1" cy="345.8" r="3.6" fill="#cfcfcf"/><circle cx="737.1" cy="346.9" r="3.4" fill="#fbfbfb"/><circle cx="737.1" cy="345.3" r="3.2" fill="#d9d9d9"/><circle cx="737.1" cy="346" r="2.1" fill="#1a1a1a"/>
<circle cx="737.1" cy="358.4" r="3.6" fill="#cfcfcf"/><circle cx="737.1" cy="359.5" r="3.4" fill="#fbfbfb"/><circle cx="737.1" cy="357.9" r="3.2" fill="#d9d9d9"/><circle cx="737.1" cy="358.6" r="2.1" fill="#1a1a1a"/>
<circle cx="737.1" cy="371" r="3.6" fill="#cfcfcf"/><circle cx="737.1" cy="372.1" r="3.4" fill="#fbfbfb"/><circle cx="737.1" cy="370.5" r="3.2" fill="#d9d9d9"/><circle cx="737.1" cy="371.2" r="2.1" fill="#1a1a1a"/>
<circle cx="737.1" cy="383.6" r="3.6" fill="#cfcfcf"/><circle cx="737.1" cy="384.7" r="3.4" fill="#fbfbfb"/><circle cx="737.1" cy="383.1" r="3.2" fill="#d9d9d9"/><circle cx="737.1" cy="383.8" r="2.1" fill="#1a1a1a"/>
<circle cx="737.1" cy="396.2" r="3.6" fill="#cfcfcf"/><circle cx="737.1" cy="397.3" r="3.4" fill="#fbfbfb"/><circle cx="737.1" cy="395.7" r="3.2" fill="#d9d9d9"/><circle cx="737.1" cy="396.4" r="2.1" fill="#1a1a1a"/>
<circle cx="737.1" cy="434.2" r="3.6" fill="#cfcfcf"/><circle cx="737.1" cy="435.3" r="3.4" fill="#fbfbfb"/><circle cx="737.1" cy="433.7" r="3.2" fill="#d9d9d9"/><circle cx="737.1" cy="434.4" r="2.1" fill="#1a1a1a"/>
<circle cx="737.1" cy="446.8" r="3.6" fill="#cfcfcf"/><circle cx="737.1" cy="447.9" r="3.4" fill="#fbfbfb"/><circle cx="737.1" cy="446.3" r="3.2" fill="#d9d9d9"/><circle cx="737.1" cy="447" r="2.1" fill="#1a1a1a"/>
<circle cx="737.1" cy="459.3" r="3.6" fill="#cfcfcf"/><circle cx="737.1" cy="460.4" r="3.4" fill="#fbfbfb"/><circle cx="737.1" cy="458.8" r="3.2" fill="#d9d9d9"/><circle cx="737.1" cy="459.5" r="2.1" fill="#1a1a1a"/>
<circle cx="737.1" cy="471.9" r="3.6" fill="#cfcfcf"/><circle cx="737.1" cy="473" r="3.4" fill="#fbfbfb"/><circle cx="737.1" cy="471.4" r="3.2" fill="#d9d9d9"/><circle cx="737.1" cy="472.1" r="2.1" fill="#1a1a1a"/>
<circle cx="737.1" cy="484.5" r="3.6" fill="#cfcfcf"/><circle cx="737.1" cy="485.6" r="3.4" fill="#fbfbfb"/><circle cx="737.1" cy="484" r="3.2" fill="#d9d9d9"/><circle cx="737.1" cy="484.7" r="2.1" fill="#1a1a1a"/>
<circle cx="749.7" cy="345.8" r="3.6" fill="#cfcfcf"/><circle cx="749.7" cy="346.9" r="3.4" fill="#fbfbfb"/><circle cx="749.7" cy="345.3" r="3.2" fill="#d9d9d9"/><circle cx="749.7" cy="346" r="2.1" fill="#1a1a1a"/>
<circle cx="749.7" cy="358.4" r="3.6" fill="#cfcfcf"/><circle cx="749.7" cy="359.5" r="3.4" fill="#fbfbfb"/><circle cx="749.7" cy="357.9" r="3.2" fill="#d9d9d9"/><circle cx="749.7" cy="358.6" r="2.1" fill="#1a1a1a"/>
<circle cx="749.7" cy="371" r="3.6" fill="#cfcfcf"/><circle cx="749.7" cy="372.1" r="3.4" fill="#fbfbfb"/><circle cx="749.7" cy="370.5" r="3.2" fill="#d9d9d9"/><circle cx="749.7" cy="371.2" r="2.1" fill="#1a1a1a"/>
<circle cx="749.7" cy="383.6" r="3.6" fill="#cfcfcf"/><circle cx="749.7" cy="384.7" r="3.4" fill="#fbfbfb"/><circle cx="749.7" cy="383.1" r="3.2" fill="#d9d9d9"/><circle cx="749.7" cy="383.8" r="2.1" fill="#1a1a1a"/>
<circle cx="749.7" cy="396.2" r="3.6" fill="#cfcfcf"/><circle cx="749.7" cy="397.3" r="3.4" fill="#fbfbfb"/><circle cx="749.7" cy="395.7" r="3.2" fill="#d9d9d9"/><circle cx="749.7" cy="396.4" r="2.1" fill="#1a1a1a"/>
<circle cx="749.7" cy="434.2" r="3.6" fill="#cfcfcf"/><circle cx="749.7" cy="435.3" r="3.4" fill="#fbfbfb"/><circle cx="749.7" cy="433.7" r="3.2" fill="#d9d9d9"/><circle cx="749.7" cy="434.4" r="2.1" fill="#1a1a1a"/>
<circle cx="749.7" cy="446.8" r="3.6" fill="#cfcfcf"/><circle cx="749.7" cy="447.9" r="3.4" fill="#fbfbfb"/><circle cx="749.7" cy="446.3" r="3.2" fill="#d9d9d9"/><circle cx="749.7" cy="447" r="2.1" fill="#1a1a1a"/>
<circle cx="749.7" cy="459.3" r="3.6" fill="#cfcfcf"/><circle cx="749.7" cy="460.4" r="3.4" fill="#fbfbfb"/><circle cx="749.7" cy="458.8" r="3.2" fill="#d9d9d9"/><circle cx="749.7" cy="459.5" r="2.1" fill="#1a1a1a"/>
<circle cx="749.7" cy="471.9" r="3.6" fill="#cfcfcf"/><circle cx="749.7" cy="473" r="3.4" fill="#fbfbfb"/><circle cx="749.7" cy="471.4" r="3.2" fill="#d9d9d9"/><circle cx="749.7" cy="472.1" r="2.1" fill="#1a1a1a"/>
<circle cx="749.7" cy="484.5" r="3.6" fill="#cfcfcf"/><circle cx="749.7" cy="485.6" r="3.4" fill="#fbfbfb"/><circle cx="749.7" cy="484" r="3.2" fill="#d9d9d9"/><circle cx="749.7" cy="484.7" r="2.1" fill="#1a1a1a"/>
<circle cx="762.3" cy="345.8" r="3.6" fill="#cfcfcf"/><circle cx="762.3" cy="346.9" r="3.4" fill="#fbfbfb"/><circle cx="762.3" cy="345.3" r="3.2" fill="#d9d9d9"/><circle cx="762.3" cy="346" r="2.1" fill="#1a1a1a"/>
<circle cx="762.3" cy="358.4" r="3.6" fill="#cfcfcf"/><circle cx="762.3" cy="359.5" r="3.4" fill="#fbfbfb"/><circle cx="762.3" cy="357.9" r="3.2" fill="#d9d9d9"/><circle cx="762.3" cy="358.6" r="2.1" fill="#1a1a1a"/>
<circle cx="762.3" cy="371" r="3.6" fill="#cfcfcf"/><circle cx="762.3" cy="372.1" r="3.4" fill="#fbfbfb"/><circle cx="762.3" cy="370.5" r="3.2" fill="#d9d9d9"/><circle cx="762.3" cy="371.2" r="2.1" fill="#1a1a1a"/>
<circle cx="762.3" cy="383.6" r="3.6" fill="#cfcfcf"/><circle cx="762.3" cy="384.7" r="3.4" fill="#fbfbfb"/><circle cx="762.3" cy="383.1" r="3.2" fill="#d9d9d9"/><circle cx="762.3" cy="383.8" r="2.1" fill="#1a1a1a"/>
<circle cx="762.3" cy="396.2" r="3.6" fill="#cfcfcf"/><circle cx="762.3" cy="397.3" r="3.4" fill="#fbfbfb"/><circle cx="762.3" cy="395.7" r="3.2" fill="#d9d9d9"/><circle cx="762.3" cy="396.4" r="2.1" fill="#1a1a1a"/>
<circle cx="762.3" cy="434.2" r="3.6" fill="#cfcfcf"/><circle cx="762.3" cy="435.3" r="3.4" fill="#fbfbfb"/><circle cx="762.3" cy="433.7" r="3.2" fill="#d9d9d9"/><circle cx="762.3" cy="434.4" r="2.1" fill="#1a1a1a"/>
<circle cx="762.3" cy="446.8" r="3.6" fill="#cfcfcf"/><circle cx="762.3" cy="447.9" r="3.4" fill="#fbfbfb"/><circle cx="762.3" cy="446.3" r="3.2" fill="#d9d9d9"/><circle cx="762.3" cy="447" r="2.1" fill="#1a1a1a"/>
<circle cx="762.3" cy="459.3" r="3.6" fill="#cfcfcf"/><circle cx="762.3" cy="460.4" r="3.4" fill="#fbfbfb"/><circle cx="762.3" cy="458.8" r="3.2" fill="#d9d9d9"/><circle cx="762.3" cy="459.5" r="2.1" fill="#1a1a1a"/>
<circle cx="762.3" cy="471.9" r="3.6" fill="#cfcfcf"/><circle cx="762.3" cy="473" r="3.4" fill="#fbfbfb"/><circle cx="762.3" cy="471.4" r="3.2" fill="#d9d9d9"/><circle cx="762.3" cy="472.1" r="2.1" fill="#1a1a1a"/>
<circle cx="762.3" cy="484.5" r="3.6" fill="#cfcfcf"/><circle cx="762.3" cy="485.6" r="3.4" fill="#fbfbfb"/><circle cx="762.3" cy="484" r="3.2" fill="#d9d9d9"/><circle cx="762.3" cy="484.7" r="2.1" fill="#1a1a1a"/>
<circle cx="774.9" cy="345.8" r="3.6" fill="#cfcfcf"/><circle cx="774.9" cy="346.9" r="3.4" fill="#fbfbfb"/><circle cx="774.9" cy="345.3" r="3.2" fill="#d9d9d9"/><circle cx="774.9" cy="346" r="2.1" fill="#1a1a1a"/>
<circle cx="774.9" cy="358.4" r="3.6" fill="#cfcfcf"/><circle cx="774.9" cy="359.5" r="3.4" fill="#fbfbfb"/><circle cx="774.9" cy="357.9" r="3.2" fill="#d9d9d9"/><circle cx="774.9" cy="358.6" r="2.1" fill="#1a1a1a"/>
<circle cx="774.9" cy="371" r="3.6" fill="#cfcfcf"/><circle cx="774.9" cy="372.1" r="3.4" fill="#fbfbfb"/><circle cx="774.9" cy="370.5" r="3.2" fill="#d9d9d9"/><circle cx="774.9" cy="371.2" r="2.1" fill="#1a1a1a"/>
<circle cx="774.9" cy="383.6" r="3.6" fill="#cfcfcf"/><circle cx="774.9" cy="384.7" r="3.4" fill="#fbfbfb"/><circle cx="774.9" cy="383.1" r="3.2" fill="#d9d9d9"/><circle cx="774.9" cy="383.8" r="2.1" fill="#1a1a1a"/>
<circle cx="774.9" cy="396.2" r="3.6" fill="#cfcfcf"/><circle cx="774.9" cy="397.3" r="3.4" fill="#fbfbfb"/><circle cx="774.9" cy="395.7" r="3.2" fill="#d9d9d9"/><circle cx="774.9" cy="396.4" r="2.1" fill="#1a1a1a"/>
<circle cx="774.9" cy="434.2" r="3.6" fill="#cfcfcf"/><circle cx="774.9" cy="435.3" r="3.4" fill="#fbfbfb"/><circle cx="774.9" cy="433.7" r="3.2" fill="#d9d9d9"/><circle cx="774.9" cy="434.4" r="2.1" fill="#1a1a1a"/>
<circle cx="774.9" cy="446.8" r="3.6" fill="#cfcfcf"/><circle cx="774.9" cy="447.9" r="3.4" fill="#fbfbfb"/><circle cx="774.9" cy="446.3" r="3.2" fill="#d9d9d9"/><circle cx="774.9" cy="447" r="2.1" fill="#1a1a1a"/>
<circle cx="774.9" cy="459.3" r="3.6" fill="#cfcfcf"/><circle cx="774.9" cy="460.4" r="3.4" fill="#fbfbfb"/><circle cx="774.9" cy="458.8" r="3.2" fill="#d9d9d9"/><circle cx="774.9" cy="459.5" r="2.1" fill="#1a1a1a"/>
<circle cx="774.9" cy="471.9" r="3.6" fill="#cfcfcf"/><circle cx="774.9" cy="473" r="3.4" fill="#fbfbfb"/><circle cx="774.9" cy="471.4" r="3.2" fill="#d9d9d9"/><circle cx="774.9" cy="472.1" r="2.1" fill="#1a1a1a"/>
<circle cx="774.9" cy="484.5" r="3.6" fill="#cfcfcf"/><circle cx="774.9" cy="485.6" r="3.4" fill="#fbfbfb"/><circle cx="774.9" cy="484" r="3.2" fill="#d9d9d9"/><circle cx="774.9" cy="484.7" r="2.1" fill="#1a1a1a"/>
<circle cx="787.5" cy="345.8" r="3.6" fill="#cfcfcf"/><circle cx="787.5" cy="346.9" r="3.4" fill="#fbfbfb"/><circle cx="787.5" cy="345.3" r="3.2" fill="#d9d9d9"/><circle cx="787.5" cy="346" r="2.1" fill="#1a1a1a"/>
<circle cx="787.5" cy="358.4" r="3.6" fill="#cfcfcf"/><circle cx="787.5" cy="359.5" r="3.4" fill="#fbfbfb"/><circle cx="787.5" cy="357.9" r="3.2" fill="#d9d9d9"/><circle cx="787.5" cy="358.6" r="2.1" fill="#1a1a1a"/>
<circle cx="787.5" cy="371" r="3.6" fill="#cfcfcf"/><circle cx="787.5" cy="372.1" r="3.4" fill="#fbfbfb"/><circle cx="787.5" cy="370.5" r="3.2" fill="#d9d9d9"/><circle cx="787.5" cy="371.2" r="2.1" fill="#1a1a1a"/>
<circle cx="787.5" cy="383.6" r="3.6" fill="#cfcfcf"/><circle cx="787.5" cy="384.7" r="3.4" fill="#fbfbfb"/><circle cx="787.5" cy="383.1" r="3.2" fill="#d9d9d9"/><circle cx="787.5" cy="383.8" r="2.1" fill="#1a1a1a"/>
<circle cx="787.5" cy="396.2" r="3.6" fill="#cfcfcf"/><circle cx="787.5" cy="397.3" r="3.4" fill="#fbfbfb"/><circle cx="787.5" cy="395.7" r="3.2" fill="#d9d9d9"/><circle cx="787.5" cy="396.4" r="2.1" fill="#1a1a1a"/>
<circle cx="787.5" cy="434.2" r="3.6" fill="#cfcfcf"/><circle cx="787.5" cy="435.3" r="3.4" fill="#fbfbfb"/><circle cx="787.5" cy="433.7" r="3.2" fill="#d9d9d9"/><circle cx="787.5" cy="434.4" r="2.1" fill="#1a1a1a"/>
<circle cx="787.5" cy="446.8" r="3.6" fill="#cfcfcf"/><circle cx="787.5" cy="447.9" r="3.4" fill="#fbfbfb"/><circle cx="787.5" cy="446.3" r="3.2" fill="#d9d9d9"/><circle cx="787.5" cy="447" r="2.1" fill="#1a1a1a"/>
<circle cx="787.5" cy="459.3" r="3.6" fill="#cfcfcf"/><circle cx="787.5" cy="460.4" r="3.4" fill="#fbfbfb"/><circle cx="787.5" cy="458.8" r="3.2" fill="#d9d9d9"/><circle cx="787.5" cy="459.5" r="2.1" fill="#1a1a1a"/>
<circle cx="787.5" cy="471.9" r="3.6" fill="#cfcfcf"/><circle cx="787.5" cy="473" r="3.4" fill="#fbfbfb"/><circle cx="787.5" cy="471.4" r="3.2" fill="#d9d9d9"/><circle cx="787.5" cy="472.1" r="2.1" fill="#1a1a1a"/>
<circle cx="787.5" cy="484.5" r="3.6" fill="#cfcfcf"/><circle cx="787.5" cy="485.6" r="3.4" fill="#fbfbfb"/><circle cx="787.5" cy="484" r="3.2" fill="#d9d9d9"/><circle cx="787.5" cy="484.7" r="2.1" fill="#1a1a1a"/>
<circle cx="800.1" cy="345.8" r="3.6" fill="#cfcfcf"/><circle cx="800.1" cy="346.9" r="3.4" fill="#fbfbfb"/><circle cx="800.1" cy="345.3" r="3.2" fill="#d9d9d9"/><circle cx="800.1" cy="346" r="2.1" fill="#1a1a1a"/>
<circle cx="800.1" cy="358.4" r="3.6" fill="#cfcfcf"/><circle cx="800.1" cy="359.5" r="3.4" fill="#fbfbfb"/><circle cx="800.1" cy="357.9" r="3.2" fill="#d9d9d9"/><circle cx="800.1" cy="358.6" r="2.1" fill="#1a1a1a"/>
<circle cx="800.1" cy="371" r="3.6" fill="#cfcfcf"/><circle cx="800.1" cy="372.1" r="3.4" fill="#fbfbfb"/><circle cx="800.1" cy="370.5" r="3.2" fill="#d9d9d9"/><circle cx="800.1" cy="371.2" r="2.1" fill="#1a1a1a"/>
<circle cx="800.1" cy="383.6" r="3.6" fill="#cfcfcf"/><circle cx="800.1" cy="384.7" r="3.4" fill="#fbfbfb"/><circle cx="800.1" cy="383.1" r="3.2" fill="#d9d9d9"/><circle cx="800.1" cy="383.8" r="2.1" fill="#1a1a1a"/>
<circle cx="800.1" cy="396.2" r="3.6" fill="#cfcfcf"/><circle cx="800.1" cy="397.3" r="3.4" fill="#fbfbfb"/><circle cx="800.1" cy="395.7" r="3.2" fill="#d9d9d9"/><circle cx="800.1" cy="396.4" r="2.1" fill="#1a1a1a"/>
<circle cx="800.1" cy="434.2" r="3.6" fill="#cfcfcf"/><circle cx="800.1" cy="435.3" r="3.4" fill="#fbfbfb"/><circle cx="800.1" cy="433.7" r="3.2" fill="#d9d9d9"/><circle cx="800.1" cy="434.4" r="2.1" fill="#1a1a1a"/>
<circle cx="800.1" cy="446.8" r="3.6" fill="#cfcfcf"/><circle cx="800.1" cy="447.9" r="3.4" fill="#fbfbfb"/><circle cx="800.1" cy="446.3" r="3.2" fill="#d9d9d9"/><circle cx="800.1" cy="447" r="2.1" fill="#1a1a1a"/>
<circle cx="800.1" cy="459.3" r="3.6" fill="#cfcfcf"/><circle cx="800.1" cy="460.4" r="3.4" fill="#fbfbfb"/><circle cx="800.1" cy="458.8" r="3.2" fill="#d9d9d9"/><circle cx="800.1" cy="459.5" r="2.1" fill="#1a1a1a"/>
<circle cx="800.1" cy="471.9" r="3.6" fill="#cfcfcf"/><circle cx="800.1" cy="473" r="3.4" fill="#fbfbfb"/><circle cx="800.1" cy="471.4" r="3.2" fill="#d9d9d9"/><circle cx="800.1" cy="472.1" r="2.1" fill="#1a1a1a"/>
<circle cx="800.1" cy="484.5" r="3.6" fill="#cfcfcf"/><circle cx="800.1" cy="485.6" r="3.4" fill="#fbfbfb"/><circle cx="800.1" cy="484" r="3.2" fill="#d9d9d9"/><circle cx="800.1" cy="484.7" r="2.1" fill="#1a1a1a"/>
<circle cx="812.8" cy="345.8" r="3.6" fill="#cfcfcf"/><circle cx="812.8" cy="346.9" r="3.4" fill="#fbfbfb"/><circle cx="812.8" cy="345.3" r="3.2" fill="#d9d9d9"/><circle cx="812.8" cy="346" r="2.1" fill="#1a1a1a"/>
<circle cx="812.8" cy="358.4" r="3.6" fill="#cfcfcf"/><circle cx="812.8" cy="359.5" r="3.4" fill="#fbfbfb"/><circle cx="812.8" cy="357.9" r="3.2" fill="#d9d9d9"/><circle cx="812.8" cy="358.6" r="2.1" fill="#1a1a1a"/>
<circle cx="812.8" cy="371" r="3.6" fill="#cfcfcf"/><circle cx="812.8" cy="372.1" r="3.4" fill="#fbfbfb"/><circle cx="812.8" cy="370.5" r="3.2" fill="#d9d9d9"/><circle cx="812.8" cy="371.2" r="2.1" fill="#1a1a1a"/>
<circle cx="812.8" cy="383.6" r="3.6" fill="#cfcfcf"/><circle cx="812.8" cy="384.7" r="3.4" fill="#fbfbfb"/><circle cx="812.8" cy="383.1" r="3.2" fill="#d9d9d9"/><circle cx="812.8" cy="383.8" r="2.1" fill="#1a1a1a"/>
<circle cx="812.8" cy="396.2" r="3.6" fill="#cfcfcf"/><circle cx="812.8" cy="397.3" r="3.4" fill="#fbfbfb"/><circle cx="812.8" cy="395.7" r="3.2" fill="#d9d9d9"/><circle cx="812.8" cy="396.4" r="2.1" fill="#1a1a1a"/>
<circle cx="812.8" cy="434.2" r="3.6" fill="#cfcfcf"/><circle cx="812.8" cy="435.3" r="3.4" fill="#fbfbfb"/><circle cx="812.8" cy="433.7" r="3.2" fill="#d9d9d9"/><circle cx="812.8" cy="434.4" r="2.1" fill="#1a1a1a"/>
<circle cx="812.8" cy="446.8" r="3.6" fill="#cfcfcf"/><circle cx="812.8" cy="447.9" r="3.4" fill="#fbfbfb"/><circle cx="812.8" cy="446.3" r="3.2" fill="#d9d9d9"/><circle cx="812.8" cy="447" r="2.1" fill="#1a1a1a"/>
<circle cx="812.8" cy="459.3" r="3.6" fill="#cfcfcf"/><circle cx="812.8" cy="460.4" r="3.4" fill="#fbfbfb"/><circle cx="812.8" cy="458.8" r="3.2" fill="#d9d9d9"/><circle cx="812.8" cy="459.5" r="2.1" fill="#1a1a1a"/>
<circle cx="812.8" cy="471.9" r="3.6" fill="#cfcfcf"/><circle cx="812.8" cy="473" r="3.4" fill="#fbfbfb"/><circle cx="812.8" cy="471.4" r="3.2" fill="#d9d9d9"/><circle cx="812.8" cy="472.1" r="2.1" fill="#1a1a1a"/>
<circle cx="812.8" cy="484.5" r="3.6" fill="#cfcfcf"/><circle cx="812.8" cy="485.6" r="3.4" fill="#fbfbfb"/><circle cx="812.8" cy="484" r="3.2" fill="#d9d9d9"/><circle cx="812.8" cy="484.7" r="2.1" fill="#1a1a1a"/>
<circle cx="825.4" cy="345.8" r="3.6" fill="#cfcfcf"/><circle cx="825.4" cy="346.9" r="3.4" fill="#fbfbfb"/><circle cx="825.4" cy="345.3" r="3.2" fill="#d9d9d9"/><circle cx="825.4" cy="346" r="2.1" fill="#1a1a1a"/>
<circle cx="825.4" cy="358.4" r="3.6" fill="#cfcfcf"/><circle cx="825.4" cy="359.5" r="3.4" fill="#fbfbfb"/><circle cx="825.4" cy="357.9" r="3.2" fill="#d9d9d9"/><circle cx="825.4" cy="358.6" r="2.1" fill="#1a1a1a"/>
<circle cx="825.4" cy="371" r="3.6" fill="#cfcfcf"/><circle cx="825.4" cy="372.1" r="3.4" fill="#fbfbfb"/><circle cx="825.4" cy="370.5" r="3.2" fill="#d9d9d9"/><circle cx="825.4" cy="371.2" r="2.1" fill="#1a1a1a"/>
<circle cx="825.4" cy="383.6" r="3.6" fill="#cfcfcf"/><circle cx="825.4" cy="384.7" r="3.4" fill="#fbfbfb"/><circle cx="825.4" cy="383.1" r="3.2" fill="#d9d9d9"/><circle cx="825.4" cy="383.8" r="2.1" fill="#1a1a1a"/>
<circle cx="825.4" cy="396.2" r="3.6" fill="#cfcfcf"/><circle cx="825.4" cy="397.3" r="3.4" fill="#fbfbfb"/><circle cx="825.4" cy="395.7" r="3.2" fill="#d9d9d9"/><circle cx="825.4" cy="396.4" r="2.1" fill="#1a1a1a"/>
<circle cx="825.4" cy="434.2" r="3.6" fill="#cfcfcf"/><circle cx="825.4" cy="435.3" r="3.4" fill="#fbfbfb"/><circle cx="825.4" cy="433.7" r="3.2" fill="#d9d9d9"/><circle cx="825.4" cy="434.4" r="2.1" fill="#1a1a1a"/>
<circle cx="825.4" cy="446.8" r="3.6" fill="#cfcfcf"/><circle cx="825.4" cy="447.9" r="3.4" fill="#fbfbfb"/><circle cx="825.4" cy="446.3" r="3.2" fill="#d9d9d9"/><circle cx="825.4" cy="447" r="2.1" fill="#1a1a1a"/>
<circle cx="825.4" cy="459.3" r="3.6" fill="#cfcfcf"/><circle cx="825.4" cy="460.4" r="3.4" fill="#fbfbfb"/><circle cx="825.4" cy="458.8" r="3.2" fill="#d9d9d9"/><circle cx="825.4" cy="459.5" r="2.1" fill="#1a1a1a"/>
<circle cx="825.4" cy="471.9" r="3.6" fill="#cfcfcf"/><circle cx="825.4" cy="473" r="3.4" fill="#fbfbfb"/><circle cx="825.4" cy="471.4" r="3.2" fill="#d9d9d9"/><circle cx="825.4" cy="472.1" r="2.1" fill="#1a1a1a"/>
<circle cx="825.4" cy="484.5" r="3.6" fill="#cfcfcf"/><circle cx="825.4" cy="485.6" r="3.4" fill="#fbfbfb"/><circle cx="825.4" cy="484" r="3.2" fill="#d9d9d9"/><circle cx="825.4" cy="484.7" r="2.1" fill="#1a1a1a"/>
<circle cx="838" cy="345.8" r="3.6" fill="#cfcfcf"/><circle cx="838" cy="346.9" r="3.4" fill="#fbfbfb"/><circle cx="838" cy="345.3" r="3.2" fill="#d9d9d9"/><circle cx="838" cy="346" r="2.1" fill="#1a1a1a"/>
<circle cx="838" cy="358.4" r="3.6" fill="#cfcfcf"/><circle cx="838" cy="359.5" r="3.4" fill="#fbfbfb"/><circle cx="838" cy="357.9" r="3.2" fill="#d9d9d9"/><circle cx="838" cy="358.6" r="2.1" fill="#1a1a1a"/>
<circle cx="838" cy="371" r="3.6" fill="#cfcfcf"/><circle cx="838" cy="372.1" r="3.4" fill="#fbfbfb"/><circle cx="838" cy="370.5" r="3.2" fill="#d9d9d9"/><circle cx="838" cy="371.2" r="2.1" fill="#1a1a1a"/>
<circle cx="838" cy="383.6" r="3.6" fill="#cfcfcf"/><circle cx="838" cy="384.7" r="3.4" fill="#fbfbfb"/><circle cx="838" cy="383.1" r="3.2" fill="#d9d9d9"/><circle cx="838" cy="383.8" r="2.1" fill="#1a1a1a"/>
<circle cx="838" cy="396.2" r="3.6" fill="#cfcfcf"/><circle cx="838" cy="397.3" r="3.4" fill="#fbfbfb"/><circle cx="838" cy="395.7" r="3.2" fill="#d9d9d9"/><circle cx="838" cy="396.4" r="2.1" fill="#1a1a1a"/>
<circle cx="838" cy="434.2" r="3.6" fill="#cfcfcf"/><circle cx="838" cy="435.3" r="3.4" fill="#fbfbfb"/><circle cx="838" cy="433.7" r="3.2" fill="#d9d9d9"/><circle cx="838" cy="434.4" r="2.1" fill="#1a1a1a"/>
<circle cx="838" cy="446.8" r="3.6" fill="#cfcfcf"/><circle cx="838" cy="447.9" r="3.4" fill="#fbfbfb"/><circle cx="838" cy="446.3" r="3.2" fill="#d9d9d9"/><circle cx="838" cy="447" r="2.1" fill="#1a1a1a"/>
<circle cx="838" cy="459.3" r="3.6" fill="#cfcfcf"/><circle cx="838" cy="460.4" r="3.4" fill="#fbfbfb"/><circle cx="838" cy="458.8" r="3.2" fill="#d9d9d9"/><circle cx="838" cy="459.5" r="2.1" fill="#1a1a1a"/>
<circle cx="838" cy="471.9" r="3.6" fill="#cfcfcf"/><circle cx="838" cy="473" r="3.4" fill="#fbfbfb"/><circle cx="838" cy="471.4" r="3.2" fill="#d9d9d9"/><circle cx="838" cy="472.1" r="2.1" fill="#1a1a1a"/>
<circle cx="838" cy="484.5" r="3.6" fill="#cfcfcf"/><circle cx="838" cy="485.6" r="3.4" fill="#fbfbfb"/><circle cx="838" cy="484" r="3.2" fill="#d9d9d9"/><circle cx="838" cy="484.7" r="2.1" fill="#1a1a1a"/>
<circle cx="850.6" cy="345.8" r="3.6" fill="#cfcfcf"/><circle cx="850.6" cy="346.9" r="3.4" fill="#fbfbfb"/><circle cx="850.6" cy="345.3" r="3.2" fill="#d9d9d9"/><circle cx="850.6" cy="346" r="2.1" fill="#1a1a1a"/>
<circle cx="850.6" cy="358.4" r="3.6" fill="#cfcfcf"/><circle cx="850.6" cy="359.5" r="3.4" fill="#fbfbfb"/><circle cx="850.6" cy="357.9" r="3.2" fill="#d9d9d9"/><circle cx="850.6" cy="358.6" r="2.1" fill="#1a1a1a"/>
<circle cx="850.6" cy="371" r="3.6" fill="#cfcfcf"/><circle cx="850.6" cy="372.1" r="3.4" fill="#fbfbfb"/><circle cx="850.6" cy="370.5" r="3.2" fill="#d9d9d9"/><circle cx="850.6" cy="371.2" r="2.1" fill="#1a1a1a"/>
<circle cx="850.6" cy="383.6" r="3.6" fill="#cfcfcf"/><circle cx="850.6" cy="384.7" r="3.4" fill="#fbfbfb"/><circle cx="850.6" cy="383.1" r="3.2" fill="#d9d9d9"/><circle cx="850.6" cy="383.8" r="2.1" fill="#1a1a1a"/>
<circle cx="850.6" cy="396.2" r="3.6" fill="#cfcfcf"/><circle cx="850.6" cy="397.3" r="3.4" fill="#fbfbfb"/><circle cx="850.6" cy="395.7" r="3.2" fill="#d9d9d9"/><circle cx="850.6" cy="396.4" r="2.1" fill="#1a1a1a"/>
<circle cx="850.6" cy="434.2" r="3.6" fill="#cfcfcf"/><circle cx="850.6" cy="435.3" r="3.4" fill="#fbfbfb"/><circle cx="850.6" cy="433.7" r="3.2" fill="#d9d9d9"/><circle cx="850.6" cy="434.4" r="2.1" fill="#1a1a1a"/>
<circle cx="850.6" cy="446.8" r="3.6" fill="#cfcfcf"/><circle cx="850.6" cy="447.9" r="3.4" fill="#fbfbfb"/><circle cx="850.6" cy="446.3" r="3.2" fill="#d9d9d9"/><circle cx="850.6" cy="447" r="2.1" fill="#1a1a1a"/>
<circle cx="850.6" cy="459.3" r="3.6" fill="#cfcfcf"/><circle cx="850.6" cy="460.4" r="3.4" fill="#fbfbfb"/><circle cx="850.6" cy="458.8" r="3.2" fill="#d9d9d9"/><circle cx="850.6" cy="459.5" r="2.1" fill="#1a1a1a"/>
<circle cx="850.6" cy="471.9" r="3.6" fill="#cfcfcf"/><circle cx="850.6" cy="473" r="3.4" fill="#fbfbfb"/><circle cx="850.6" cy="471.4" r="3.2" fill="#d9d9d9"/><circle cx="850.6" cy="472.1" r="2.1" fill="#1a1a1a"/>
<circle cx="850.6" cy="484.5" r="3.6" fill="#cfcfcf"/><circle cx="850.6" cy="485.6" r="3.4" fill="#fbfbfb"/><circle cx="850.6" cy="484" r="3.2" fill="#d9d9d9"/><circle cx="850.6" cy="484.7" r="2.1" fill="#1a1a1a"/>
<circle cx="863.2" cy="345.8" r="3.6" fill="#cfcfcf"/><circle cx="863.2" cy="346.9" r="3.4" fill="#fbfbfb"/><circle cx="863.2" cy="345.3" r="3.2" fill="#d9d9d9"/><circle cx="863.2" cy="346" r="2.1" fill="#1a1a1a"/>
<circle cx="863.2" cy="358.4" r="3.6" fill="#cfcfcf"/><circle cx="863.2" cy="359.5" r="3.4" fill="#fbfbfb"/><circle cx="863.2" cy="357.9" r="3.2" fill="#d9d9d9"/><circle cx="863.2" cy="358.6" r="2.1" fill="#1a1a1a"/>
<circle cx="863.2" cy="371" r="3.6" fill="#cfcfcf"/><circle cx="863.2" cy="372.1" r="3.4" fill="#fbfbfb"/><circle cx="863.2" cy="370.5" r="3.2" fill="#d9d9d9"/><circle cx="863.2" cy="371.2" r="2.1" fill="#1a1a1a"/>
<circle cx="863.2" cy="383.6" r="3.6" fill="#cfcfcf"/><circle cx="863.2" cy="384.7" r="3.4" fill="#fbfbfb"/><circle cx="863.2" cy="383.1" r="3.2" fill="#d9d9d9"/><circle cx="863.2" cy="383.8" r="2.1" fill="#1a1a1a"/>
<circle cx="863.2" cy="396.2" r="3.6" fill="#cfcfcf"/><circle cx="863.2" cy="397.3" r="3.4" fill="#fbfbfb"/><circle cx="863.2" cy="395.7" r="3.2" fill="#d9d9d9"/><circle cx="863.2" cy="396.4" r="2.1" fill="#1a1a1a"/>
<circle cx="863.2" cy="434.2" r="3.6" fill="#cfcfcf"/><circle cx="863.2" cy="435.3" r="3.4" fill="#fbfbfb"/><circle cx="863.2" cy="433.7" r="3.2" fill="#d9d9d9"/><circle cx="863.2" cy="434.4" r="2.1" fill="#1a1a1a"/>
<circle cx="863.2" cy="446.8" r="3.6" fill="#cfcfcf"/><circle cx="863.2" cy="447.9" r="3.4" fill="#fbfbfb"/><circle cx="863.2" cy="446.3" r="3.2" fill="#d9d9d9"/><circle cx="863.2" cy="447" r="2.1" fill="#1a1a1a"/>
<circle cx="863.2" cy="459.3" r="3.6" fill="#cfcfcf"/><circle cx="863.2" cy="460.4" r="3.4" fill="#fbfbfb"/><circle cx="863.2" cy="458.8" r="3.2" fill="#d9d9d9"/><circle cx="863.2" cy="459.5" r="2.1" fill="#1a1a1a"/>
<circle cx="863.2" cy="471.9" r="3.6" fill="#cfcfcf"/><circle cx="863.2" cy="473" r="3.4" fill="#fbfbfb"/><circle cx="863.2" cy="471.4" r="3.2" fill="#d9d9d9"/><circle cx="863.2" cy="472.1" r="2.1" fill="#1a1a1a"/>
<circle cx="863.2" cy="484.5" r="3.6" fill="#cfcfcf"/><circle cx="863.2" cy="485.6" r="3.4" fill="#fbfbfb"/><circle cx="863.2" cy="484" r="3.2" fill="#d9d9d9"/><circle cx="863.2" cy="484.7" r="2.1" fill="#1a1a1a"/>
<circle cx="875.8" cy="345.8" r="3.6" fill="#cfcfcf"/><circle cx="875.8" cy="346.9" r="3.4" fill="#fbfbfb"/><circle cx="875.8" cy="345.3" r="3.2" fill="#d9d9d9"/><circle cx="875.8" cy="346" r="2.1" fill="#1a1a1a"/>
<circle cx="875.8" cy="358.4" r="3.6" fill="#cfcfcf"/><circle cx="875.8" cy="359.5" r="3.4" fill="#fbfbfb"/><circle cx="875.8" cy="357.9" r="3.2" fill="#d9d9d9"/><circle cx="875.8" cy="358.6" r="2.1" fill="#1a1a1a"/>
<circle cx="875.8" cy="371" r="3.6" fill="#cfcfcf"/><circle cx="875.8" cy="372.1" r="3.4" fill="#fbfbfb"/><circle cx="875.8" cy="370.5" r="3.2" fill="#d9d9d9"/><circle cx="875.8" cy="371.2" r="2.1" fill="#1a1a1a"/>
<circle cx="875.8" cy="383.6" r="3.6" fill="#cfcfcf"/><circle cx="875.8" cy="384.7" r="3.4" fill="#fbfbfb"/><circle cx="875.8" cy="383.1" r="3.2" fill="#d9d9d9"/><circle cx="875.8" cy="383.8" r="2.1" fill="#1a1a1a"/>
<circle cx="875.8" cy="396.2" r="3.6" fill="#cfcfcf"/><circle cx="875.8" cy="397.3" r="3.4" fill="#fbfbfb"/><circle cx="875.8" cy="395.7" r="3.2" fill="#d9d9d9"/><circle cx="875.8" cy="396.4" r="2.1" fill="#1a1a1a"/>
<circle cx="875.8" cy="434.2" r="3.6" fill="#cfcfcf"/><circle cx="875.8" cy="435.3" r="3.4" fill="#fbfbfb"/><circle cx="875.8" cy="433.7" r="3.2" fill="#d9d9d9"/><circle cx="875.8" cy="434.4" r="2.1" fill="#1a1a1a"/>
<circle cx="875.8" cy="446.8" r="3.6" fill="#cfcfcf"/><circle cx="875.8" cy="447.9" r="3.4" fill="#fbfbfb"/><circle cx="875.8" cy="446.3" r="3.2" fill="#d9d9d9"/><circle cx="875.8" cy="447" r="2.1" fill="#1a1a1a"/>
<circle cx="875.8" cy="459.3" r="3.6" fill="#cfcfcf"/><circle cx="875.8" cy="460.4" r="3.4" fill="#fbfbfb"/><circle cx="875.8" cy="458.8" r="3.2" fill="#d9d9d9"/><circle cx="875.8" cy="459.5" r="2.1" fill="#1a1a1a"/>
<circle cx="875.8" cy="471.9" r="3.6" fill="#cfcfcf"/><circle cx="875.8" cy="473" r="3.4" fill="#fbfbfb"/><circle cx="875.8" cy="471.4" r="3.2" fill="#d9d9d9"/><circle cx="875.8" cy="472.1" r="2.1" fill="#1a1a1a"/>
<circle cx="875.8" cy="484.5" r="3.6" fill="#cfcfcf"/><circle cx="875.8" cy="485.6" r="3.4" fill="#fbfbfb"/><circle cx="875.8" cy="484" r="3.2" fill="#d9d9d9"/><circle cx="875.8" cy="484.7" r="2.1" fill="#1a1a1a"/>
</g>
<g font-family="Liberation Sans, sans-serif" font-size="8" fill="#a4a4a4">
<text transform="translate(96.7,331.5) rotate(-90)" text-anchor="middle">1</text>
<text transform="translate(96.7,499.9) rotate(-90)" text-anchor="middle">1</text>
<text transform="translate(147.2,331.5) rotate(-90)" text-anchor="middle">5</text>
<text transform="translate(147.2,499.9) rotate(-90)" text-anchor="middle">5</text>
<text transform="translate(210.2,331.5) rotate(-90)" text-anchor="middle">10</text>
<text transform="translate(210.2,499.9) rotate(-90)" text-anchor="middle">10</text>
<text transform="translate(273.3,331.5) rotate(-90)" text-anchor="middle">15</text>
<text transform="translate(273.3,499.9) rotate(-90)" text-anchor="middle">15</text>
<text transform="translate(336.4,331.5) rotate(-90)" text-anchor="middle">20</text>
<text transform="translate(336.4,499.9) rotate(-90)" text-anchor="middle">20</text>
<text transform="translate(399.5,331.5) rotate(-90)" text-anchor="middle">25</text>
<text transform="translate(399.5,499.9) rotate(-90)" text-anchor="middle">25</text>
<text transform="translate(462.5,331.5) rotate(-90)" text-anchor="middle">30</text>
<text transform="translate(462.5,499.9) rotate(-90)" text-anchor="middle">30</text>
<text transform="translate(525.6,331.5) rotate(-90)" text-anchor="middle">35</text>
<text transform="translate(525.6,499.9) rotate(-90)" text-anchor="middle">35</text>
<text transform="translate(588.7,331.5) rotate(-90)" text-anchor="middle">40</text>
<text transform="translate(588.7,499.9) rotate(-90)" text-anchor="middle">40</text>
<text transform="translate(651.8,331.5) rotate(-90)" text-anchor="middle">45</text>
<text transform="translate(651.8,499.9) rotate(-90)" text-anchor="middle">45</text>
<text transform="translate(714.8,331.5) rotate(-90)" text-anchor="middle">50</text>
<text transform="translate(714.8,499.9) rotate(-90)" text-anchor="middle">50</text>
<text transform="translate(777.9,331.5) rotate(-90)" text-anchor="middle">55</text>
<text transform="translate(777.9,499.9) rotate(-90)" text-anchor="middle">55</text>
<text transform="translate(841,331.5) rotate(-90)" text-anchor="middle">60</text>
<text transform="translate(841,499.9) rotate(-90)" text-anchor="middle">60</text>
<text transform="translate(84.6,346) rotate(-90)" text-anchor="middle">J</text>
<text transform="translate(889.4,346) rotate(-90)" text-anchor="middle">J</text>
<text transform="translate(84.6,358.6) rotate(-90)" text-anchor="middle">I</text>
<text transform="translate(889.4,358.6) rotate(-90)" text-anchor="middle">I</text>
<text transform="translate(84.6,371.2) rotate(-90)" text-anchor="middle">H</text>
<text transform="translate(889.4,371.2) rotate(-90)" text-anchor="middle">H</text>
<text transform="translate(84.6,383.8) rotate(-90)" text-anchor="middle">G</text>
<text transform="translate(889.4,383.8) rotate(-90)" text-anchor="middle">G</text>
<text transform="translate(84.6,396.4) rotate(-90)" text-anchor="middle">F</text>
<text transform="translate(889.4,396.4) rotate(-90)" text-anchor="middle">F</text>
<text transform="translate(84.6,434.4) rotate(-90)" text-anchor="middle">E</text>
<text transform="translate(889.4,434.4) rotate(-90)" text-anchor="middle">E</text>
<text transform="translate(84.6,447) rotate(-90)" text-anchor="middle">D</text>
<text transform="translate(889.4,447) rotate(-90)" text-anchor="middle">D</text>
<text transform="translate(84.6,459.5) rotate(-90)" text-anchor="middle">C</text>
<text transform="translate(889.4,459.5) rotate(-90)" text-anchor="middle">C</text>
<text transform="translate(84.6,472.1) rotate(-90)" text-anchor="middle">B</text>
<text transform="translate(889.4,472.1) rotate(-90)" text-anchor="middle">B</text>
<text transform="translate(84.6,484.7) rotate(-90)" text-anchor="middle">A</text>
<text transform="translate(889.4,484.7) rotate(-90)" text-anchor="middle">A</text>
</g>
<g id="lcd">
<rect x="349.8" y="99.8" width="397" height="179" fill="#2d8a3e"/>
<circle cx="361" cy="111" r="7.8" fill="#aca68a"/><circle cx="361" cy="111" r="4.6" fill="#fff"/>
<circle cx="735.5" cy="111" r="7.8" fill="#aca68a"/><circle cx="735.5" cy="111" r="4.6" fill="#fff"/>
<circle cx="361" cy="267.5" r="7.8" fill="#aca68a"/><circle cx="361" cy="267.5" r="4.6" fill="#fff"/>
<circle cx="735.5" cy="267.5" r="7.8" fill="#aca68a"/><circle cx="735.5" cy="267.5" r="4.6" fill="#fff"/>
<path d="M369.5,123.5 L727.5,123.5 L731,127 L731,163 L728.8,165 L728.8,213 L731,215 L731,251.5 L727.5,255 L369.5,255 L366,251.5 L366,215 L368.3,213 L368.3,165 L366,163 L366,127 Z" fill="#343434"/>
<rect x="379.2" y="130.8" width="338.5" height="5.4" rx="2.4" fill="#505050"/><rect x="379.2" y="130.8" width="338.5" height="2.6" rx="1.2" fill="#121212"/>
<rect x="379.2" y="242.6" width="338.5" height="5.4" rx="2.4" fill="#505050"/><rect x="379.2" y="242.6" width="338.5" height="2.6" rx="1.2" fill="#121212"/>
<rect x="381.6" y="147" width="334" height="85.5" rx="5" fill="#88ae36"/>
<rect x="398" y="160" width="301" height="59" fill="#7d9f30"/>
<line x1="416.8" y1="160" x2="416.8" y2="219" stroke="#8ab23c" stroke-width="1"/>
<line x1="435.6" y1="160" x2="435.6" y2="219" stroke="#8ab23c" stroke-width="1"/>
<line x1="454.4" y1="160" x2="454.4" y2="219" stroke="#8ab23c" stroke-width="1"/>
<line x1="473.2" y1="160" x2="473.2" y2="219" stroke="#8ab23c" stroke-width="1"/>
<line x1="492.1" y1="160" x2="492.1" y2="219" stroke="#8ab23c" stroke-width="1"/>
<line x1="510.9" y1="160" x2="510.9" y2="219" stroke="#8ab23c" stroke-width="1"/>
<line x1="529.7" y1="160" x2="529.7" y2="219" stroke="#8ab23c" stroke-width="1"/>
<line x1="548.5" y1="160" x2="548.5" y2="219" stroke="#8ab23c" stroke-width="1"/>
<line x1="567.3" y1="160" x2="567.3" y2="219" stroke="#8ab23c" stroke-width="1"/>
<line x1="586.1" y1="160" x2="586.1" y2="219" stroke="#8ab23c" stroke-width="1"/>
<line x1="604.9" y1="160" x2="604.9" y2="219" stroke="#8ab23c" stroke-width="1"/>
<line x1="623.8" y1="160" x2="623.8" y2="219" stroke="#8ab23c" stroke-width="1"/>
<line x1="642.6" y1="160" x2="642.6" y2="219" stroke="#8ab23c" stroke-width="1"/>
<line x1="661.4" y1="160" x2="661.4" y2="219" stroke="#8ab23c" stroke-width="1"/>
<line x1="680.2" y1="160" x2="680.2" y2="219" stroke="#8ab23c" stroke-width="1"/>
<line x1="398" y1="189.5" x2="699" y2="189.5" stroke="#8ab23c" stroke-width="1"/>
<line x1="397" y1="122.4" x2="426" y2="122.4" stroke="#fff" stroke-width="1.4"/>
<line x1="397" y1="257" x2="426" y2="257" stroke="#fff" stroke-width="1.4"/>
<line x1="534" y1="122.4" x2="559" y2="122.4" stroke="#fff" stroke-width="1.4"/>
<line x1="534" y1="257" x2="559" y2="257" stroke="#fff" stroke-width="1.4"/>
<line x1="671" y1="122.4" x2="699" y2="122.4" stroke="#fff" stroke-width="1.4"/>
<line x1="671" y1="257" x2="699" y2="257" stroke="#fff" stroke-width="1.4"/>
<path d="M379.5,99.8 L387.9,99.8 L387.9,107.8 A4.2,4.2 0 0 1 379.5,107.8 Z" fill="#b5ab84"/>
<circle cx="383.7" cy="106" r="2.1" fill="#5a1a10"/>
<path d="M392.1,99.8 L400.5,99.8 L400.5,107.8 A4.2,4.2 0 0 1 392.1,107.8 Z" fill="#b5ab84"/>
<circle cx="396.3" cy="106" r="2.1" fill="#5a1a10"/>
<path d="M404.7,99.8 L413.1,99.8 L413.1,107.8 A4.2,4.2 0 0 1 404.7,107.8 Z" fill="#b5ab84"/>
<circle cx="408.9" cy="106" r="2.1" fill="#5a1a10"/>
<path d="M417.4,99.8 L425.8,99.8 L425.8,107.8 A4.2,4.2 0 0 1 417.4,107.8 Z" fill="#b5ab84"/>
<circle cx="421.6" cy="106" r="2.1" fill="#5a1a10"/>
<path d="M430,99.8 L438.4,99.8 L438.4,107.8 A4.2,4.2 0 0 1 430,107.8 Z" fill="#b5ab84"/>
<circle cx="434.2" cy="106" r="2.1" fill="#5a1a10"/>
<path d="M442.6,99.8 L451,99.8 L451,107.8 A4.2,4.2 0 0 1 442.6,107.8 Z" fill="#b5ab84"/>
<circle cx="446.8" cy="106" r="2.1" fill="#5a1a10"/>
<path d="M455.2,99.8 L463.6,99.8 L463.6,107.8 A4.2,4.2 0 0 1 455.2,107.8 Z" fill="#b5ab84"/>
<circle cx="459.4" cy="106" r="2.1" fill="#5a1a10"/>
<path d="M467.8,99.8 L476.2,99.8 L476.2,107.8 A4.2,4.2 0 0 1 467.8,107.8 Z" fill="#b5ab84"/>
<circle cx="472" cy="106" r="2.1" fill="#5a1a10"/>
<path d="M480.5,99.8 L488.9,99.8 L488.9,107.8 A4.2,4.2 0 0 1 480.5,107.8 Z" fill="#b5ab84"/>
<circle cx="484.7" cy="106" r="2.1" fill="#5a1a10"/>
<path d="M493.1,99.8 L501.5,99.8 L501.5,107.8 A4.2,4.2 0 0 1 493.1,107.8 Z" fill="#b5ab84"/>
<circle cx="497.3" cy="106" r="2.1" fill="#5a1a10"/>
<path d="M505.7,99.8 L514.1,99.8 L514.1,107.8 A4.2,4.2 0 0 1 505.7,107.8 Z" fill="#b5ab84"/>
<circle cx="509.9" cy="106" r="2.1" fill="#5a1a10"/>
<path d="M518.3,99.8 L526.7,99.8 L526.7,107.8 A4.2,4.2 0 0 1 518.3,107.8 Z" fill="#b5ab84"/>
<circle cx="522.5" cy="106" r="2.1" fill="#5a1a10"/>
<path d="M530.9,99.8 L539.3,99.8 L539.3,107.8 A4.2,4.2 0 0 1 530.9,107.8 Z" fill="#b5ab84"/>
<circle cx="535.1" cy="106" r="2.1" fill="#5a1a10"/>
<path d="M543.6,99.8 L552,99.8 L552,107.8 A4.2,4.2 0 0 1 543.6,107.8 Z" fill="#b5ab84"/>
<circle cx="547.8" cy="106" r="2.1" fill="#5a1a10"/>
<path d="M556.2,99.8 L564.6,99.8 L564.6,107.8 A4.2,4.2 0 0 1 556.2,107.8 Z" fill="#b5ab84"/>
<circle cx="560.4" cy="106" r="2.1" fill="#5a1a10"/>
<path d="M568.8,99.8 L577.2,99.8 L577.2,107.8 A4.2,4.2 0 0 1 568.8,107.8 Z" fill="#b5ab84"/>
<circle cx="573" cy="106" r="2.1" fill="#5a1a10"/>
</g>
<g id="rtc">
<rect x="30.6" y="1.8" width="98.6" height="99.4" fill="#d42a22"/>
<circle cx="40.5" cy="11.4" r="7.3" fill="#fff"/><circle cx="119.7" cy="88.7" r="7.3" fill="#fff"/>
<text x="53" y="15" font-family="Liberation Mono, monospace" font-size="9.75" fill="#fae6dc" stroke="#fae6dc" stroke-width="0.4">RTC Module</text>
<path d="M117.3,22.7 C117,19 117.5,15.5 120,13.5 C119.8,15 120.5,16 121.5,15.8 C121,13.5 122.5,10.5 125,9 C124.3,11 125.8,13 125.8,15.5 C125.8,18.5 123.5,20 121,20 C119.5,20.3 118.2,21.3 117.3,22.7 Z" fill="#f8e4dc"/>
<rect x="56" y="19.8" width="2.8" height="36.7" fill="#a8a8a8"/>
<rect x="62.7" y="19.8" width="2.8" height="36.7" fill="#a8a8a8"/>
<rect x="69.8" y="19.8" width="2.8" height="36.7" fill="#a8a8a8"/>
<rect x="76.9" y="19.8" width="2.8" height="36.7" fill="#a8a8a8"/>
<rect x="53" y="28.6" width="29.3" height="19.1" fill="#262626"/>
<circle cx="82.3" cy="38.1" r="2" fill="#d42a22"/>
<rect x="33.9" y="36.7" width="15.4" height="15.3" fill="#a8a8a8"/><rect x="109.4" y="36.7" width="15.4" height="15.3" fill="#a8a8a8"/>
<rect x="86.7" y="25.7" width="5.9" height="13.2" fill="#a8a8a8"/><rect x="99.2" y="25.7" width="5.9" height="13.2" fill="#a8a8a8"/>
<rect x="90" y="43.3" width="11.8" height="29.3" fill="#262626"/>
<rect x="115.3" y="71.6" width="3.5" height="2.6" fill="#262626"/><rect x="121.3" y="71.6" width="3.5" height="2.6" fill="#262626"/>
<g font-family="Liberation Mono, monospace" font-size="9.8" fill="#fae6dc" stroke="#fae6dc" stroke-width="0.35">
<text transform="translate(46.2,86.2) rotate(-90)">SDA</text>
<text transform="translate(59.1,86.2) rotate(-90)">SCL</text>
<text transform="translate(71.7,86.2) rotate(-90)">SQW</text>
<text transform="translate(84.3,86.2) rotate(-90)">GND</text>
<text transform="translate(96.9,86.2) rotate(-90)">5V</text>
</g>
<path d="M36.3,90.1 L39.5,86.9 L46.1,86.9 L49.3,90.1 L49.3,96.7 L46.1,99.9 L39.5,99.9 L36.3,96.7 Z" fill="#ecc89a"/>
<path d="M49.2,90.1 L52.4,86.9 L59,86.9 L62.2,90.1 L62.2,96.7 L59,99.9 L52.4,99.9 L49.2,96.7 Z" fill="#ecc89a"/>
<path d="M61.8,90.1 L65,86.9 L71.6,86.9 L74.8,90.1 L74.8,96.7 L71.6,99.9 L65,99.9 L61.8,96.7 Z" fill="#ecc89a"/>
<path d="M74.4,90.1 L77.6,86.9 L84.2,86.9 L87.4,90.1 L87.4,96.7 L84.2,99.9 L77.6,99.9 L74.4,96.7 Z" fill="#ecc89a"/>
<path d="M87,90.1 L90.2,86.9 L96.8,86.9 L100,90.1 L100,96.7 L96.8,99.9 L90.2,99.9 L87,96.7 Z" fill="#ecc89a"/>
<path d="M37.6,90.8 L40.2,88.2 L45.4,88.2 L48,90.8 L48,96 L45.4,98.6 L40.2,98.6 L37.6,96 Z" fill="#d42a22"/>
<path d="M50.5,90.8 L53.1,88.2 L58.3,88.2 L60.9,90.8 L60.9,96 L58.3,98.6 L53.1,98.6 L50.5,96 Z" fill="#d42a22"/>
<path d="M63.1,90.8 L65.7,88.2 L70.9,88.2 L73.5,90.8 L73.5,96 L70.9,98.6 L65.7,98.6 L63.1,96 Z" fill="#d42a22"/>
<path d="M75.7,90.8 L78.3,88.2 L83.5,88.2 L86.1,90.8 L86.1,96 L83.5,98.6 L78.3,98.6 L75.7,96 Z" fill="#d42a22"/>
<path d="M88.3,90.8 L90.9,88.2 L96.1,88.2 L98.7,90.8 L98.7,96 L96.1,98.6 L90.9,98.6 L88.3,96 Z" fill="#d42a22"/>
<circle cx="42.8" cy="93.4" r="4.9" fill="#5a8a30"/><circle cx="42.8" cy="93.4" r="3.9" fill="#7aa448"/>
<circle cx="55.7" cy="93.4" r="4.9" fill="#5a8a30"/><circle cx="55.7" cy="93.4" r="3.9" fill="#7aa448"/>
<circle cx="68.3" cy="93.4" r="4.9" fill="#5a8a30"/><circle cx="68.3" cy="93.4" r="3.9" fill="#7aa448"/>
<circle cx="80.9" cy="93.4" r="4.9" fill="#5a8a30"/><circle cx="80.9" cy="93.4" r="3.9" fill="#7aa448"/>
<circle cx="93.5" cy="93.4" r="4.9" fill="#5a8a30"/><circle cx="93.5" cy="93.4" r="3.9" fill="#7aa448"/>
<circle cx="42.8" cy="93.4" r="4.6" fill="#b0e040"/>
<circle cx="68.3" cy="93.4" r="2.6" fill="#c8e8a8"/><circle cx="68.3" cy="93.4" r="1.5" fill="#f0fff0"/>
</g>
<g id="pot">
<rect x="268.3" y="250" width="4" height="9" fill="#8ad878"/>
<rect x="293.3" y="250" width="4" height="9" fill="#8ad878"/>
<rect x="318.8" y="250" width="4" height="9" fill="#8ad878"/>
<rect x="258" y="229.9" width="74.7" height="20.8" fill="#8c8c8c"/>
<rect x="274.8" y="229.9" width="14.4" height="20.8" fill="#9e9e9e"/>
<rect x="258" y="229.9" width="74.7" height="4.5" fill="#a6a6a6"/>
<rect x="258" y="246.7" width="74.7" height="4" fill="#7a7a7a"/>
<rect x="259.9" y="220" width="70.9" height="10" rx="2" fill="#363636"/>
<rect x="277.5" y="220" width="36.5" height="10" fill="#4a4a4a"/>
<rect x="277" y="204" width="37" height="16" fill="#111"/>
<path d="M282.2,204 L282.2,119.5 L284.8,116 L306,116 L308.6,119.5 L308.6,204 Z" fill="#303030"/>
<path d="M282.2,120 L284.8,116 L306,116 L308.6,120 Z" fill="#1a1a1a"/>
<line x1="286.2" y1="120" x2="286.2" y2="204" stroke="#6a6a6a" stroke-width="1.1"/>
<line x1="289.4" y1="120" x2="289.4" y2="204" stroke="#505050" stroke-width="1.1"/>
<line x1="292.6" y1="120" x2="292.6" y2="204" stroke="#6a6a6a" stroke-width="1.1"/>
<line x1="295.8" y1="120" x2="295.8" y2="204" stroke="#505050" stroke-width="1.1"/>
<line x1="299" y1="120" x2="299" y2="204" stroke="#6a6a6a" stroke-width="1.1"/>
<line x1="302.2" y1="120" x2="302.2" y2="204" stroke="#505050" stroke-width="1.1"/>
<line x1="305.4" y1="120" x2="305.4" y2="204" stroke="#6a6a6a" stroke-width="1.1"/>
</g>
<g id="nano">
<rect x="75.5" y="364.1" width="214.3" height="88.9" fill="#1a8ea2"/>
<path d="M89.5,364.1 L97.9,364.1 L97.9,371.1 A4.2,4.2 0 0 1 89.5,371.1 Z" fill="#98dca4"/>
<path d="M89.5,453 L97.9,453 L97.9,447 A4.2,4.2 0 0 0 89.5,447 Z" fill="#98dca4"/>
<circle cx="93.7" cy="371.1" r="3.25" fill="#6a9838"/>
<circle cx="93.7" cy="447" r="3.25" fill="#6a9838"/>
<rect x="90.7" y="364.3" width="6" height="2.8" rx="1.2" fill="#fff"/>
<rect x="90.7" y="450.3" width="6" height="2.8" rx="1.2" fill="#fff"/>
<path d="M102.1,364.1 L110.5,364.1 L110.5,371.1 A4.2,4.2 0 0 1 102.1,371.1 Z" fill="#98dca4"/>
<path d="M102.1,453 L110.5,453 L110.5,447 A4.2,4.2 0 0 0 102.1,447 Z" fill="#98dca4"/>
<circle cx="106.3" cy="371.1" r="3.25" fill="#6a9838"/>
<circle cx="106.3" cy="447" r="3.25" fill="#6a9838"/>
<rect x="103.3" y="364.3" width="6" height="2.8" rx="1.2" fill="#fff"/>
<rect x="103.3" y="450.3" width="6" height="2.8" rx="1.2" fill="#fff"/>
<path d="M114.7,364.1 L123.1,364.1 L123.1,371.1 A4.2,4.2 0 0 1 114.7,371.1 Z" fill="#98dca4"/>
<path d="M114.7,453 L123.1,453 L123.1,447 A4.2,4.2 0 0 0 114.7,447 Z" fill="#98dca4"/>
<circle cx="118.9" cy="371.1" r="3.25" fill="#6a9838"/>
<circle cx="118.9" cy="447" r="3.25" fill="#6a9838"/>
<rect x="115.9" y="364.3" width="6" height="2.8" rx="1.2" fill="#fff"/>
<rect x="115.9" y="450.3" width="6" height="2.8" rx="1.2" fill="#fff"/>
<path d="M127.3,364.1 L135.7,364.1 L135.7,371.1 A4.2,4.2 0 0 1 127.3,371.1 Z" fill="#98dca4"/>
<path d="M127.3,453 L135.7,453 L135.7,447 A4.2,4.2 0 0 0 127.3,447 Z" fill="#98dca4"/>
<circle cx="131.5" cy="371.1" r="3.25" fill="#6a9838"/>
<circle cx="131.5" cy="447" r="3.25" fill="#6a9838"/>
<rect x="128.5" y="364.3" width="6" height="2.8" rx="1.2" fill="#fff"/>
<rect x="128.5" y="450.3" width="6" height="2.8" rx="1.2" fill="#fff"/>
<path d="M140,364.1 L148.4,364.1 L148.4,371.1 A4.2,4.2 0 0 1 140,371.1 Z" fill="#98dca4"/>
<path d="M140,453 L148.4,453 L148.4,447 A4.2,4.2 0 0 0 140,447 Z" fill="#98dca4"/>
<circle cx="144.2" cy="371.1" r="3.25" fill="#6a9838"/>
<circle cx="144.2" cy="447" r="3.25" fill="#6a9838"/>
<rect x="141.2" y="364.3" width="6" height="2.8" rx="1.2" fill="#fff"/>
<rect x="141.2" y="450.3" width="6" height="2.8" rx="1.2" fill="#fff"/>
<path d="M152.6,364.1 L161,364.1 L161,371.1 A4.2,4.2 0 0 1 152.6,371.1 Z" fill="#98dca4"/>
<path d="M152.6,453 L161,453 L161,447 A4.2,4.2 0 0 0 152.6,447 Z" fill="#98dca4"/>
<circle cx="156.8" cy="371.1" r="3.25" fill="#6a9838"/>
<circle cx="156.8" cy="447" r="3.25" fill="#6a9838"/>
<rect x="153.8" y="364.3" width="6" height="2.8" rx="1.2" fill="#fff"/>
<rect x="153.8" y="450.3" width="6" height="2.8" rx="1.2" fill="#fff"/>
<path d="M165.2,364.1 L173.6,364.1 L173.6,371.1 A4.2,4.2 0 0 1 165.2,371.1 Z" fill="#98dca4"/>
<path d="M165.2,453 L173.6,453 L173.6,447 A4.2,4.2 0 0 0 165.2,447 Z" fill="#98dca4"/>
<circle cx="169.4" cy="371.1" r="3.25" fill="#6a9838"/>
<circle cx="169.4" cy="447" r="3.25" fill="#6a9838"/>
<rect x="166.4" y="364.3" width="6" height="2.8" rx="1.2" fill="#fff"/>
<rect x="166.4" y="450.3" width="6" height="2.8" rx="1.2" fill="#fff"/>
<path d="M177.8,364.1 L186.2,364.1 L186.2,371.1 A4.2,4.2 0 0 1 177.8,371.1 Z" fill="#98dca4"/>
<path d="M177.8,453 L186.2,453 L186.2,447 A4.2,4.2 0 0 0 177.8,447 Z" fill="#98dca4"/>
<circle cx="182" cy="371.1" r="3.25" fill="#6a9838"/>
<circle cx="182" cy="447" r="3.25" fill="#6a9838"/>
<rect x="179" y="364.3" width="6" height="2.8" rx="1.2" fill="#fff"/>
<rect x="179" y="450.3" width="6" height="2.8" rx="1.2" fill="#fff"/>
<path d="M190.4,364.1 L198.8,364.1 L198.8,371.1 A4.2,4.2 0 0 1 190.4,371.1 Z" fill="#98dca4"/>
<path d="M190.4,453 L198.8,453 L198.8,447 A4.2,4.2 0 0 0 190.4,447 Z" fill="#98dca4"/>
<circle cx="194.6" cy="371.1" r="3.25" fill="#6a9838"/>
<circle cx="194.6" cy="447" r="3.25" fill="#6a9838"/>
<rect x="191.6" y="364.3" width="6" height="2.8" rx="1.2" fill="#fff"/>
<rect x="191.6" y="450.3" width="6" height="2.8" rx="1.2" fill="#fff"/>
<path d="M203,364.1 L211.4,364.1 L211.4,371.1 A4.2,4.2 0 0 1 203,371.1 Z" fill="#98dca4"/>
<path d="M203,453 L211.4,453 L211.4,447 A4.2,4.2 0 0 0 203,447 Z" fill="#98dca4"/>
<circle cx="207.2" cy="371.1" r="3.25" fill="#6a9838"/>
<circle cx="207.2" cy="447" r="3.25" fill="#6a9838"/>
<rect x="204.2" y="364.3" width="6" height="2.8" rx="1.2" fill="#fff"/>
<rect x="204.2" y="450.3" width="6" height="2.8" rx="1.2" fill="#fff"/>
<path d="M215.7,364.1 L224.1,364.1 L224.1,371.1 A4.2,4.2 0 0 1 215.7,371.1 Z" fill="#98dca4"/>
<path d="M215.7,453 L224.1,453 L224.1,447 A4.2,4.2 0 0 0 215.7,447 Z" fill="#98dca4"/>
<circle cx="219.9" cy="371.1" r="3.25" fill="#6a9838"/>
<circle cx="219.9" cy="447" r="3.25" fill="#6a9838"/>
<rect x="216.9" y="364.3" width="6" height="2.8" rx="1.2" fill="#fff"/>
<rect x="216.9" y="450.3" width="6" height="2.8" rx="1.2" fill="#fff"/>
<path d="M228.3,364.1 L236.7,364.1 L236.7,371.1 A4.2,4.2 0 0 1 228.3,371.1 Z" fill="#98dca4"/>
<path d="M228.3,453 L236.7,453 L236.7,447 A4.2,4.2 0 0 0 228.3,447 Z" fill="#98dca4"/>
<circle cx="232.5" cy="371.1" r="3.25" fill="#6a9838"/>
<circle cx="232.5" cy="447" r="3.25" fill="#6a9838"/>
<rect x="229.5" y="364.3" width="6" height="2.8" rx="1.2" fill="#fff"/>
<rect x="229.5" y="450.3" width="6" height="2.8" rx="1.2" fill="#fff"/>
<path d="M240.9,364.1 L249.3,364.1 L249.3,371.1 A4.2,4.2 0 0 1 240.9,371.1 Z" fill="#98dca4"/>
<path d="M240.9,453 L249.3,453 L249.3,447 A4.2,4.2 0 0 0 240.9,447 Z" fill="#98dca4"/>
<circle cx="245.1" cy="371.1" r="3.25" fill="#6a9838"/>
<circle cx="245.1" cy="447" r="3.25" fill="#6a9838"/>
<rect x="242.1" y="364.3" width="6" height="2.8" rx="1.2" fill="#fff"/>
<rect x="242.1" y="450.3" width="6" height="2.8" rx="1.2" fill="#fff"/>
<path d="M253.5,364.1 L261.9,364.1 L261.9,371.1 A4.2,4.2 0 0 1 253.5,371.1 Z" fill="#98dca4"/>
<path d="M253.5,453 L261.9,453 L261.9,447 A4.2,4.2 0 0 0 253.5,447 Z" fill="#98dca4"/>
<circle cx="257.7" cy="371.1" r="3.25" fill="#6a9838"/>
<circle cx="257.7" cy="447" r="3.25" fill="#6a9838"/>
<rect x="254.7" y="364.3" width="6" height="2.8" rx="1.2" fill="#fff"/>
<rect x="254.7" y="450.3" width="6" height="2.8" rx="1.2" fill="#fff"/>
<path d="M266.1,364.1 L274.5,364.1 L274.5,371.1 A4.2,4.2 0 0 1 266.1,371.1 Z" fill="#98dca4"/>
<path d="M266.1,453 L274.5,453 L274.5,447 A4.2,4.2 0 0 0 266.1,447 Z" fill="#98dca4"/>
<circle cx="270.3" cy="371.1" r="3.25" fill="#6a9838"/>
<circle cx="270.3" cy="447" r="3.25" fill="#6a9838"/>
<rect x="267.3" y="364.3" width="6" height="2.8" rx="1.2" fill="#fff"/>
<rect x="267.3" y="450.3" width="6" height="2.8" rx="1.2" fill="#fff"/>
<circle cx="81.8" cy="371.1" r="4.2" fill="#fff"/><circle cx="283.7" cy="371.1" r="4.2" fill="#fff"/>
<circle cx="81.8" cy="446.8" r="4.2" fill="#fff"/><circle cx="283.7" cy="446.8" r="4.2" fill="#fff"/>
<rect x="68.2" y="394" width="3.5" height="29.5" fill="#d8d6d6"/>
<rect x="71" y="390.5" width="25" height="37" fill="#c6c2c2"/>
<rect x="92.5" y="402" width="3.5" height="1.4" fill="#f0f0f0"/>
<rect x="92.5" y="406.6" width="3.5" height="1.4" fill="#f0f0f0"/>
<rect x="92.5" y="411.2" width="3.5" height="1.4" fill="#f0f0f0"/>
<rect x="92.5" y="415.8" width="3.5" height="1.4" fill="#f0f0f0"/>
<rect x="92.5" y="420.4" width="3.5" height="1.4" fill="#f0f0f0"/>
<text x="90.4" y="387.6" font-family="Liberation Sans, sans-serif" font-size="6.6" font-weight="bold" fill="#e8f4f8">ON</text>
<text x="119.2" y="382.8" font-family="Liberation Sans, sans-serif" font-size="5" font-weight="bold" letter-spacing="0" fill="#d8eef2">ARDUINO.CC</text>
<text x="148" y="411" font-family="Liberation Sans, sans-serif" font-size="7" font-weight="bold" fill="#e8f4f8">ST</text>
<ellipse cx="85" cy="380" rx="3.6" ry="2.4" fill="#f0e0a0"/><ellipse cx="85" cy="380" rx="2.6" ry="1.7" fill="#e8b020"/>
<ellipse cx="85" cy="437.5" rx="3.6" ry="2.4" fill="#f0e0a0"/><ellipse cx="85" cy="437.5" rx="2.6" ry="1.7" fill="#e8b020"/>
<ellipse cx="102.5" cy="380" rx="3" ry="2" fill="#a8b0b0"/><ellipse cx="102.5" cy="380" rx="1.6" ry="1.6" fill="#8a7a70"/>
<ellipse cx="99.5" cy="437.5" rx="3" ry="2" fill="#a8b0b0"/><ellipse cx="99.5" cy="437.5" rx="1.6" ry="1.6" fill="#8a7a70"/>
<rect x="104.5" y="387.6" width="18" height="2" fill="#b8c8cc"/><rect x="107" y="386" width="13" height="5.5" fill="#2a2220"/>
<rect x="105.8" y="402" width="2" height="2" fill="#e0e8ea"/><rect x="114.3" y="402" width="2" height="2" fill="#e0e8ea"/><rect x="105.8" y="410.3" width="2" height="2" fill="#e0e8ea"/><rect x="114.3" y="410.3" width="2" height="2" fill="#e0e8ea"/>
<rect x="104.5" y="403.5" width="13.5" height="6.8" fill="#2a2220"/>
<rect x="104.5" y="417.5" width="10" height="7" fill="#c8d4d8"/><rect x="105.8" y="418.6" width="7.4" height="4.8" fill="#222"/>
<ellipse cx="109" cy="428.5" rx="2.3" ry="1.4" fill="#b8c8cc"/>
<rect x="105.8" y="434" width="3.2" height="3.6" fill="#102020"/><rect x="110.8" y="434" width="3.2" height="3.6" fill="#102020"/>
<rect x="124.4" y="397.3" width="12" height="21.6" fill="#e8e8e8"/><rect x="127" y="400" width="7" height="16" fill="#1a8ea2"/>
<rect x="147.2" y="384.2" width="8" height="7" fill="#d0d4d4"/><rect x="147.2" y="384.7" width="5" height="6" fill="#1a1a1a"/>
<circle cx="155.5" cy="380.6" r="1.2" fill="#b0b8b8"/><circle cx="159" cy="380.6" r="1.2" fill="#b0b8b8"/>
<circle cx="168.3" cy="388" r="2.3" fill="#c8d0d0"/><circle cx="168.3" cy="388" r="1.4" fill="#8a8080"/><circle cx="173.6" cy="388" r="2.3" fill="#c8d0d0"/><circle cx="173.6" cy="388" r="1.4" fill="#8a8080"/>
<rect x="147.6" y="414.5" width="12.7" height="25.5" fill="#a8a8a8"/>
<rect x="160.6" y="418" width="1.4" height="1.2" fill="#e8f0f0"/>
<rect x="160.6" y="421.5" width="1.4" height="1.2" fill="#e8f0f0"/>
<rect x="160.6" y="425" width="1.4" height="1.2" fill="#e8f0f0"/>
<rect x="160.6" y="428.5" width="1.4" height="1.2" fill="#e8f0f0"/>
<rect x="160.6" y="432" width="1.4" height="1.2" fill="#e8f0f0"/>
<rect x="160.6" y="435.5" width="1.4" height="1.2" fill="#e8f0f0"/>
<rect x="166.8" y="397.5" width="21.2" height="20" fill="none" stroke="#d8e8ea" stroke-width="0.9" stroke-dasharray="0.9,0.9"/>
<rect x="167.9" y="398.5" width="19.1" height="17.9" fill="#3a3030"/>
<rect x="168.4" y="422.8" width="10.6" height="12.7" fill="none" stroke="#d8e8ea" stroke-width="0.8" stroke-dasharray="1,2.5"/>
<rect x="169.4" y="423.3" width="8.6" height="12" fill="#8a6a5a"/>
<rect x="183.8" y="424" width="2.4" height="1.4" fill="#c0d4d8"/>
<rect x="183.8" y="427" width="2.4" height="1.4" fill="#c0d4d8"/>
<rect x="189.5" y="425" width="3" height="1.4" fill="#c0d4d8"/>
<rect x="193.5" y="425" width="3" height="1.4" fill="#c0d4d8"/>
<rect x="189.5" y="428.2" width="3" height="1.4" fill="#c0d4d8"/>
<rect x="193.5" y="428.2" width="3" height="1.4" fill="#c0d4d8"/>
<rect x="202" y="424" width="1.4" height="2.4" fill="#c0d4d8"/>
<rect x="205.5" y="424" width="1.4" height="2.4" fill="#c0d4d8"/>
<rect x="202" y="429.5" width="1.4" height="2.4" fill="#c0d4d8"/>
<rect x="205.5" y="429.5" width="1.4" height="2.4" fill="#c0d4d8"/>
<circle cx="136.5" cy="432" r="2.2" fill="#c8b8b8"/><circle cx="136.5" cy="432" r="1.2" fill="#8a7070"/>
<ellipse cx="194.6" cy="410.3" rx="2.8" ry="3.9" fill="#d8e8c0"/><ellipse cx="194.6" cy="410.3" rx="2.1" ry="3.1" fill="#e8b020"/><ellipse cx="202.3" cy="410.3" rx="2.8" ry="3.9" fill="#d8e8c0"/><ellipse cx="202.3" cy="410.3" rx="2.1" ry="3.1" fill="#e8b020"/>
<ellipse cx="85" cy="381" rx="3" ry="2" fill="#e8b820"/><ellipse cx="85" cy="437.5" rx="3" ry="2" fill="#e8b820"/>
<path d="M232.4,382.3 L258.3,408.2 L232.4,434.1 L206.5,408.2 Z" fill="none" stroke="#b8e6f0" stroke-width="3.4" stroke-dasharray="1.05,1.05"/>
<path d="M232.4,385.1 L255.5,408.2 L232.4,431.3 L209.3,408.2 Z" fill="#3a3030"/>
<path d="M265.3,387.5 L271.3,393.5 L265.3,399.5 L259.3,393.5 Z" fill="#3a3030"/>
<path d="M265.3,417.6 L271.3,423.6 L265.3,429.6 L259.3,423.6 Z" fill="#3a3030"/>
<rect x="277" y="380.2" width="8.6" height="16.1" fill="#cccccc"/><rect x="278.5" y="384" width="5.6" height="8.5" fill="#3a2a2a"/>
<rect x="279" y="405" width="5" height="8" fill="#cccccc"/><rect x="280" y="407" width="3" height="4" fill="#222"/>
</g>
<g id="vl">
<rect x="332.8" y="369.9" width="126.4" height="88" rx="8.4" fill="#121212"/>
<circle cx="345.6" cy="382.5" r="10.3" fill="#cfcdc2"/><circle cx="345.6" cy="382.5" r="7.6" fill="#9c9a8e"/><circle cx="345.6" cy="382.5" r="6.4" fill="#e6e4da"/><circle cx="345.6" cy="383.3" r="2.1" fill="#1a1a1a"/>
<circle cx="447" cy="382.5" r="10.3" fill="#cfcdc2"/><circle cx="447" cy="382.5" r="7.6" fill="#9c9a8e"/><circle cx="447" cy="382.5" r="6.4" fill="#e6e4da"/><circle cx="447" cy="383.3" r="2.1" fill="#1a1a1a"/>
<circle cx="345.6" cy="445.3" r="10.3" fill="#cfcdc2"/><circle cx="345.6" cy="445.3" r="7.6" fill="#9c9a8e"/><circle cx="345.6" cy="445.3" r="6.4" fill="#e6e4da"/><circle cx="345.6" cy="446.1" r="2.1" fill="#1a1a1a"/>
<circle cx="447" cy="445.3" r="10.3" fill="#cfcdc2"/><circle cx="447" cy="445.3" r="7.6" fill="#9c9a8e"/><circle cx="447" cy="445.3" r="6.4" fill="#e6e4da"/><circle cx="447" cy="446.1" r="2.1" fill="#1a1a1a"/>
<ellipse cx="365.6" cy="375.1" rx="4.4" ry="2.3" transform="rotate(-90 365.6 375.1)" fill="#f2f2f2"/>
<ellipse cx="370" cy="378.3" rx="4.4" ry="2.3" transform="rotate(-18 370 378.3)" fill="#f2f2f2"/>
<ellipse cx="368.3" cy="383.4" rx="4.4" ry="2.3" transform="rotate(54 368.3 383.4)" fill="#f2f2f2"/>
<ellipse cx="362.9" cy="383.4" rx="4.4" ry="2.3" transform="rotate(126 362.9 383.4)" fill="#f2f2f2"/>
<ellipse cx="361.2" cy="378.3" rx="4.4" ry="2.3" transform="rotate(198 361.2 378.3)" fill="#f2f2f2"/>
<circle cx="365.6" cy="379.7" r="1.8" fill="#121212"/>
<text x="377.3" y="380" font-family="Liberation Mono, monospace" font-size="8.1" fill="#e4e4e4" stroke="#e4e4e4" stroke-width="0.2" letter-spacing="-0.05">VL53L1X</text>
<text x="374.4" y="387.8" font-family="Liberation Mono, monospace" font-size="5.6" font-weight="bold" fill="#d8d8d8">ToF Distance</text>
<circle cx="429.9" cy="375.5" r="2.3" fill="#8a8a80"/>
<rect x="335.6" y="397.8" width="22.4" height="31.4" fill="#050505" stroke="#b8b8b8" stroke-width="0.9"/>
<rect x="434" y="397.8" width="22.4" height="31.4" fill="#050505" stroke="#b8b8b8" stroke-width="0.9"/>
<rect x="354.4" y="405.2" width="8.4" height="2.2" rx="1" fill="#d8d8d8"/>
<rect x="429.2" y="405.2" width="8.4" height="2.2" rx="1" fill="#d8d8d8"/>
<rect x="354.4" y="410" width="8.4" height="2.2" rx="1" fill="#d8d8d8"/>
<rect x="429.2" y="410" width="8.4" height="2.2" rx="1" fill="#d8d8d8"/>
<rect x="354.4" y="415" width="8.4" height="2.2" rx="1" fill="#d8d8d8"/>
<rect x="429.2" y="415" width="8.4" height="2.2" rx="1" fill="#d8d8d8"/>
<rect x="354.4" y="419.9" width="8.4" height="2.2" rx="1" fill="#d8d8d8"/>
<rect x="429.2" y="419.9" width="8.4" height="2.2" rx="1" fill="#d8d8d8"/>
<circle cx="332.2" cy="402" r="3.5" fill="#1a6a1a"/>
<circle cx="332.2" cy="409.7" r="3.5" fill="#d06020"/>
<circle cx="332.2" cy="417.4" r="3.5" fill="#2a64c8"/>
<circle cx="332.2" cy="425.6" r="3.5" fill="#c8f040"/>
<circle cx="459.4" cy="401.2" r="3.5" fill="#d0f040"/>
<circle cx="459.4" cy="409.2" r="3.5" fill="#2a64c8"/>
<circle cx="459.4" cy="416.9" r="3.5" fill="#d06020"/>
<circle cx="459.4" cy="424.8" r="3.5" fill="#1a6a1a"/>
<text x="334.4" y="395.6" font-family="Liberation Mono, monospace" font-size="4.6" fill="#cfcfcf">on</text>
<rect x="346.5" y="393.2" width="10" height="3.6" fill="#e8e8e8"/><rect x="347.8" y="393.8" width="7.4" height="2.4" fill="#70d860"/>
<rect x="358.6" y="389.4" width="4.9" height="13.3" fill="#c2baa8"/>
<rect x="358.6" y="393.4" width="4.9" height="5.3" fill="#5a4a40"/>
<rect x="367.7" y="395" width="16.1" height="7" fill="#c2baa8"/>
<rect x="372.5" y="395" width="6.4" height="7" fill="#5a4a40"/>
<rect x="388.7" y="393.6" width="13.9" height="4.9" fill="#c2baa8"/>
<rect x="392.9" y="393.6" width="5.6" height="4.9" fill="#5a4a40"/>
<rect x="389.4" y="401" width="13.2" height="23.8" fill="#c8a030" stroke="#e0e0e0" stroke-width="0.7"/><rect x="389.4" y="411.8" width="13.2" height="2.8" fill="#111"/>
<rect x="367.6" y="405" width="2" height="17" fill="#cfcfcf"/>
<rect x="372.8" y="405" width="2" height="17" fill="#cfcfcf"/>
<rect x="378" y="405" width="2" height="17" fill="#cfcfcf"/>
<rect x="366.6" y="409.2" width="14.4" height="8.6" fill="#3a3a3a"/>
<rect x="364.6" y="426.5" width="15.7" height="6.2" fill="#c2baa8"/>
<rect x="369.3" y="426.5" width="6.3" height="6.2" fill="#5a4a40"/>
<rect x="382" y="418.8" width="5.3" height="13.2" fill="#c2baa8"/>
<rect x="382" y="422.8" width="5.3" height="5.3" fill="#5a4a40"/>
<circle cx="390.8" cy="427.4" r="1.2" fill="#f0f0f0"/>
<rect x="408.9" y="388.7" width="18.9" height="13.3" fill="#151515" stroke="#d8d8d8" stroke-width="0.6" stroke-dasharray="2,1.3"/>
<rect x="411.6" y="390" width="1.8" height="3" fill="#d8d8d8"/><rect x="411.6" y="397.5" width="1.8" height="3" fill="#d8d8d8"/>
<rect x="415.6" y="390" width="1.8" height="3" fill="#d8d8d8"/><rect x="415.6" y="397.5" width="1.8" height="3" fill="#d8d8d8"/>
<rect x="419.6" y="390" width="1.8" height="3" fill="#d8d8d8"/><rect x="419.6" y="397.5" width="1.8" height="3" fill="#d8d8d8"/>
<rect x="423.6" y="390" width="1.8" height="3" fill="#d8d8d8"/><rect x="423.6" y="397.5" width="1.8" height="3" fill="#d8d8d8"/>
<rect x="413.8" y="409.7" width="11.9" height="10.5" fill="#121212" stroke="#d0d0d0" stroke-width="0.6" stroke-dasharray="1.2,1"/>
<rect x="405.4" y="418.8" width="5.6" height="13.2" fill="#c2baa8"/>
<rect x="405.4" y="422.8" width="5.6" height="5.3" fill="#5a4a40"/>
<rect x="413.8" y="426.5" width="18.9" height="4.8" fill="#c2baa8"/>
<rect x="419.5" y="426.5" width="7.6" height="4.8" fill="#5a4a40"/>
<circle cx="358.6" cy="433.7" r="2.4" fill="#8a8a80"/>
<circle cx="364.2" cy="444.6" r="4.2" fill="#90d080"/><circle cx="364.2" cy="444.6" r="2.6" fill="#2a5a1a"/>
<circle cx="376.8" cy="444.6" r="4.2" fill="#90d080"/><circle cx="376.8" cy="444.6" r="2.6" fill="#2a5a1a"/>
<circle cx="389.4" cy="444.6" r="4.2" fill="#90d080"/><circle cx="389.4" cy="444.6" r="2.6" fill="#2a5a1a"/>
<circle cx="402" cy="444.6" r="4.2" fill="#90d080"/><circle cx="402" cy="444.6" r="2.6" fill="#2a5a1a"/>
<circle cx="414.5" cy="444.6" r="4.2" fill="#eaa4a4"/><circle cx="414.5" cy="444.6" r="2.6" fill="#c86464"/>
<circle cx="427" cy="444.6" r="4.2" fill="#eaa4a4"/><circle cx="427" cy="444.6" r="2.6" fill="#c86464"/>
<g font-family="Liberation Mono, monospace" font-size="5.6" font-weight="bold" fill="#e0e0e0">
<text x="371.2" y="439.7">GND</text><text x="395.6" y="439.7">SDA</text><text x="417.3" y="439.7">XSHUT</text>
<text x="358.5" y="455.3">VIN</text><text x="383.5" y="455.3">SCL</text><text x="407.5" y="455.3">GPIO</text>
</g>
</g>
<line x1="573.1" y1="308.1" x2="573.1" y2="358.6" stroke="#a0a8a0" stroke-width="2.4"/>
<path d="M567.2,319.5 Q567.2,317 569.7,317 L576.5,317 Q579,317 579,319.5 L579,323.3 L577.8,324.8 L577.8,340.6 L579,342.1 L579,345.9 Q579,348.4 576.5,348.4 L569.7,348.4 Q567.2,348.4 567.2,345.9 L567.2,342.1 L568.4,340.6 L568.4,324.8 L567.2,323.3 Z" fill="#e6c68c"/>
<rect x="568.4" y="319" width="9.4" height="27.4" fill="#ecd09c" opacity="0.5"/>
<rect x="567.2" y="320.7" width="11.8" height="3.2" fill="#c42424"/>
<rect x="568.4" y="327.5" width="9.4" height="3.2" fill="#c42424"/>
<rect x="568.4" y="334.2" width="9.4" height="3.2" fill="#8a4414"/>
<rect x="567.2" y="344" width="11.8" height="1.6" fill="#6a5020"/>
<line x1="144" y1="611" x2="194" y2="611" stroke="#a0a8a0" stroke-width="2.4"/>
<path d="M155.5,605.4 L159.4,605.4 L160.9,606.5 L176.9,606.5 L178.4,605.4 L182.3,605.4 Q184.8,605.4 184.8,607.9 L184.8,614.1 Q184.8,616.6 182.3,616.6 L178.4,616.6 L176.9,615.5 L160.9,615.5 L159.4,616.6 L155.5,616.6 Q153,616.6 153,614.1 L153,607.9 Q153,605.4 155.5,605.4 Z" fill="#e6c68c"/>
<rect x="156.8" y="605.4" width="3.2" height="11.2" fill="#c42424"/>
<rect x="163.6" y="606.5" width="3.2" height="9" fill="#c42424"/>
<rect x="170.5" y="606.5" width="3.2" height="9" fill="#8a4414"/>
<rect x="180.3" y="605.4" width="1.6" height="11.2" fill="#6a5020"/>
<g id="buzzer">
<rect x="168.4" y="694" width="2.2" height="18" fill="#8a8a8a"/><rect x="206.4" y="694" width="2.2" height="18" fill="#8a8a8a"/>
<circle cx="189.4" cy="670.7" r="31.7" fill="#3c3c3c" stroke="#111" stroke-width="1.2"/>
<path d="M199.5,643 A29.5,29.5 0 0 1 219,676 A31,31 0 0 0 199.5,643 Z" stroke="#fff" stroke-width="1.4" fill="#fff"/>
<path d="M159.5,678 A29.5,29.5 0 0 0 170.5,694 A31,31 0 0 1 159.5,678 Z" stroke="#fff" stroke-width="1" fill="#fff"/>
<circle cx="189.4" cy="670" r="8.4" fill="#222" stroke="#666" stroke-width="0.8"/>
<rect x="175.8" y="684.3" width="27.9" height="7.7" fill="#000"/>
</g>
<g id="strip">
<rect x="531.2" y="585" width="412.3" height="51.8" fill="#1e3370"/>
<circle cx="537.2" cy="597.2" r="4.6" fill="#8ee070"/><circle cx="537.2" cy="597.2" r="2.8" fill="#2a6a2a"/>
<circle cx="537.2" cy="610.6" r="4.6" fill="#8ee070"/><circle cx="537.2" cy="610.6" r="2.8" fill="#2a6a2a"/>
<circle cx="537.2" cy="624.2" r="4.6" fill="#8ee070"/><circle cx="537.2" cy="624.2" r="2.8" fill="#2a6a2a"/>
<text transform="translate(550.6,627.2) rotate(-90)" font-size="7.7" text-anchor="middle" font-family="Liberation Mono, monospace" font-weight="bold" fill="#f0f0f0">+5V</text>
<text transform="translate(550.6,611.2) rotate(-90)" font-size="7.7" text-anchor="middle" font-family="Liberation Mono, monospace" font-weight="bold" fill="#f0f0f0">Din</text>
<text transform="translate(550.6,593.8) rotate(-90)" font-size="7.7" text-anchor="middle" font-family="Liberation Mono, monospace" font-weight="bold" fill="#f0f0f0">GND</text>
<polygon points="553.4,606 558.4,611 553.4,616" fill="#fff"/>
<text transform="translate(601,627.5) rotate(-90)" font-size="7.0" font-family="Liberation Mono, monospace" font-weight="bold" fill="#f0f0f0">WS2812B</text>
<path d="M605.9,595 L628.5,595 L630.5,597 L630.5,624 L628.5,626 L605.9,626 L603.9,624 L603.9,597 Z" fill="#e0e0e0"/>
<rect x="606.9" y="598" width="20.6" height="25" fill="#f0f0f0"/>
<rect x="613.9" y="602" width="4" height="3" fill="#555"/>
<rect x="633.2" y="603.9" width="7.8" height="16.7" fill="none" stroke="#e0e0e0" stroke-width="1"/><rect x="634.7" y="607.5" width="4.8" height="9.5" fill="#3a3a3a"/>
<path d="M843.5,595 L866.1,595 L868.1,597 L868.1,624 L866.1,626 L843.5,626 L841.5,624 L841.5,597 Z" fill="#e0e0e0"/>
<rect x="844.5" y="598" width="20.6" height="25" fill="#f0f0f0"/>
<rect x="851.5" y="602" width="4" height="3" fill="#555"/>
<rect x="870.8" y="603.9" width="7.8" height="16.7" fill="none" stroke="#e0e0e0" stroke-width="1"/><rect x="872.3" y="607.5" width="4.8" height="9.5" fill="#3a3a3a"/>
<text transform="translate(838.5,627.5) rotate(-90)" font-size="7.0" font-family="Liberation Mono, monospace" font-weight="bold" fill="#f0f0f0">WS2812B</text>
<line x1="706.8" y1="585" x2="706.8" y2="637" stroke="#7a8ab8" stroke-width="0.8"/>
<rect x="696.3" y="592.6" width="21" height="9.2" rx="4.6" fill="#e8ad70"/>
<rect x="696.3" y="606" width="21" height="9.2" rx="4.6" fill="#e8ad70"/>
<rect x="696.3" y="619.6" width="21" height="9.2" rx="4.6" fill="#e8ad70"/>
<circle cx="706.8" cy="610.6" r="0.9" fill="#fff"/>
<line x1="769.5" y1="585" x2="769.5" y2="637" stroke="#7a8ab8" stroke-width="0.8"/>
<rect x="759" y="592.6" width="21" height="9.2" rx="4.6" fill="#e8ad70"/>
<rect x="759" y="606" width="21" height="9.2" rx="4.6" fill="#e8ad70"/>
<rect x="759" y="619.6" width="21" height="9.2" rx="4.6" fill="#e8ad70"/>
<circle cx="769.5" cy="610.6" r="0.9" fill="#fff"/>
<text transform="translate(690.9,627.2) rotate(-90)" font-size="7.7" text-anchor="middle" font-family="Liberation Mono, monospace" font-weight="bold" fill="#f0f0f0">+5V</text>
<text transform="translate(690.9,611.2) rotate(-90)" font-size="7.7" text-anchor="middle" font-family="Liberation Mono, monospace" font-weight="bold" fill="#f0f0f0">D0</text>
<text transform="translate(690.9,593.8) rotate(-90)" font-size="7.7" text-anchor="middle" font-family="Liberation Mono, monospace" font-weight="bold" fill="#f0f0f0">GND</text>
<text transform="translate(728.3,627.2) rotate(-90)" font-size="7.7" text-anchor="middle" font-family="Liberation Mono, monospace" font-weight="bold" fill="#f0f0f0">+5V</text>
<text transform="translate(728.3,611.2) rotate(-90)" font-size="7.7" text-anchor="middle" font-family="Liberation Mono, monospace" font-weight="bold" fill="#f0f0f0">Din</text>
<text transform="translate(728.3,593.8) rotate(-90)" font-size="7.7" text-anchor="middle" font-family="Liberation Mono, monospace" font-weight="bold" fill="#f0f0f0">GND</text>
<polygon points="730.5,606 735.5,611 730.5,616" fill="#fff"/>
<text transform="translate(756,627.2) rotate(-90)" font-size="7.7" text-anchor="middle" font-family="Liberation Mono, monospace" font-weight="bold" fill="#f0f0f0">+5V</text>
<text transform="translate(756,611.2) rotate(-90)" font-size="7.7" text-anchor="middle" font-family="Liberation Mono, monospace" font-weight="bold" fill="#f0f0f0">D0</text>
<text transform="translate(756,593.8) rotate(-90)" font-size="7.7" text-anchor="middle" font-family="Liberation Mono, monospace" font-weight="bold" fill="#f0f0f0">GND</text>
<text transform="translate(790.6,627.2) rotate(-90)" font-size="7.7" text-anchor="middle" font-family="Liberation Mono, monospace" font-weight="bold" fill="#f0f0f0">+5V</text>
<text transform="translate(790.6,611.2) rotate(-90)" font-size="7.7" text-anchor="middle" font-family="Liberation Mono, monospace" font-weight="bold" fill="#f0f0f0">Din</text>
<text transform="translate(790.6,593.8) rotate(-90)" font-size="7.7" text-anchor="middle" font-family="Liberation Mono, monospace" font-weight="bold" fill="#f0f0f0">GND</text>
<polygon points="792.4,606 797.7,611 792.4,616" fill="#fff"/>
<text transform="translate(929.3,627.2) rotate(-90)" font-size="7.7" text-anchor="middle" font-family="Liberation Mono, monospace" font-weight="bold" fill="#f0f0f0">+5V</text>
<text transform="translate(929.3,611.2) rotate(-90)" font-size="7.7" text-anchor="middle" font-family="Liberation Mono, monospace" font-weight="bold" fill="#f0f0f0">D0</text>
<text transform="translate(929.3,593.8) rotate(-90)" font-size="7.7" text-anchor="middle" font-family="Liberation Mono, monospace" font-weight="bold" fill="#f0f0f0">GND</text>
<path d="M943.5,592 L938.8,592 A4.8,4.8 0 0 0 938.8,601.6 L943.5,601.6 Z" fill="#f07a44" stroke="#b84a2a" stroke-width="0.8"/>
<path d="M943.5,605.4 L938.8,605.4 A4.8,4.8 0 0 0 938.8,615 L943.5,615 Z" fill="#f07a44" stroke="#b84a2a" stroke-width="0.8"/>
<path d="M943.5,618.8 L938.8,618.8 A4.8,4.8 0 0 0 938.8,628.4 L943.5,628.4 Z" fill="#f07a44" stroke="#b84a2a" stroke-width="0.8"/>
<rect x="914.3" y="625.5" width="6.2" height="9" fill="none" stroke="#d8d8e8" stroke-width="0.8"/>
<text x="915.4" y="633.2" font-family="Liberation Sans, sans-serif" font-size="7" fill="#d8d8e8">R</text>
<polygon points="741.3,580.2 754.4,580.2 737.4,641.8 724.2,641.8" fill="#fff"/>
<line x1="741.3" y1="580.2" x2="724.2" y2="641.8" stroke="#000" stroke-width="3"/>
<line x1="754.4" y1="580.2" x2="737.4" y2="641.8" stroke="#000" stroke-width="3"/>
</g>
<path d="M408.9,106 L408.9,269.8 L295.3,269.8 L295.3,258" fill="none" stroke="#9a9a9a" stroke-width="5.8" stroke-linejoin="round" stroke-linecap="round"/>
<path d="M408.9,106 L408.9,269.8 L295.3,269.8 L295.3,258" fill="none" stroke="#ffffff" stroke-width="3.0" stroke-linejoin="round" stroke-linecap="round"/>
<path d="M547.8,106 L547.8,5.2 L156.8,5.2 L156.8,346" fill="none" stroke="#0f3c82" stroke-width="5.8" stroke-linejoin="round" stroke-linecap="round"/>
<path d="M547.8,106 L547.8,5.2 L156.8,5.2 L156.8,346" fill="none" stroke="#4a90e4" stroke-width="3.6" stroke-linejoin="round" stroke-linecap="round"/>
<path d="M535.1,106 L535.1,18 L169.4,18 L169.4,346" fill="none" stroke="#8c4a10" stroke-width="5.8" stroke-linejoin="round" stroke-linecap="round"/>
<path d="M535.1,106 L535.1,18 L169.4,18 L169.4,346" fill="none" stroke="#e87822" stroke-width="3.6" stroke-linejoin="round" stroke-linecap="round"/>
<path d="M522.5,106 L522.5,30.8 L182,30.8 L182,346" fill="none" stroke="#4a4a4a" stroke-width="5.8" stroke-linejoin="round" stroke-linecap="round"/>
<path d="M522.5,106 L522.5,30.8 L182,30.8 L182,346" fill="none" stroke="#989898" stroke-width="3.6" stroke-linejoin="round" stroke-linecap="round"/>
<path d="M509.9,106 L509.9,43.1 L194.6,43.1 L194.6,346" fill="none" stroke="#0e8880" stroke-width="5.8" stroke-linejoin="round" stroke-linecap="round"/>
<path d="M509.9,106 L509.9,43.1 L194.6,43.1 L194.6,346" fill="none" stroke="#40f4e4" stroke-width="3.6" stroke-linejoin="round" stroke-linecap="round"/>
<path d="M446.8,106 L446.8,55.6 L207.2,55.6 L207.2,346" fill="none" stroke="#0e7a22" stroke-width="5.8" stroke-linejoin="round" stroke-linecap="round"/>
<path d="M446.8,106 L446.8,55.6 L207.2,55.6 L207.2,346" fill="none" stroke="#33c84a" stroke-width="3.6" stroke-linejoin="round" stroke-linecap="round"/>
<path d="M421.6,106 L421.6,68.2 L219.9,68.2 L219.9,346" fill="none" stroke="#5e2e6a" stroke-width="5.8" stroke-linejoin="round" stroke-linecap="round"/>
<path d="M421.6,106 L421.6,68.2 L219.9,68.2 L219.9,346" fill="none" stroke="#a462b4" stroke-width="3.6" stroke-linejoin="round" stroke-linecap="round"/>
<path d="M396.3,106 L396.3,81 L232.5,81 L232.5,308.1" fill="none" stroke="#6a0a0a" stroke-width="5.8" stroke-linejoin="round" stroke-linecap="round"/>
<path d="M396.3,106 L396.3,81 L232.5,81 L232.5,308.1" fill="none" stroke="#cc2020" stroke-width="3.6" stroke-linejoin="round" stroke-linecap="round"/>
<path d="M383.7,106 L383.7,93.5 L245.1,93.5 L245.1,295.7" fill="none" stroke="#000000" stroke-width="5.8" stroke-linejoin="round" stroke-linecap="round"/>
<path d="M383.7,106 L383.7,93.5 L245.1,93.5 L245.1,295.7" fill="none" stroke="#484848" stroke-width="2.9" stroke-linejoin="round" stroke-linecap="round"/>
<path d="M42.8,94 L42.8,484.7 L169.4,484.7 L169.4,447" fill="none" stroke="#b8a800" stroke-width="5.8" stroke-linejoin="round" stroke-linecap="round"/>
<path d="M42.8,94 L42.8,484.7 L169.4,484.7 L169.4,447" fill="none" stroke="#fff030" stroke-width="3.6" stroke-linejoin="round" stroke-linecap="round"/>
<path d="M55.7,94 L55.7,472.1 L182,472.1" fill="none" stroke="#8c4a10" stroke-width="5.8" stroke-linejoin="round" stroke-linecap="round"/>
<path d="M55.7,94 L55.7,472.1 L182,472.1" fill="none" stroke="#e87822" stroke-width="3.6" stroke-linejoin="round" stroke-linecap="round"/>
<path d="M80.9,94 L80.9,270.2 L131.5,270.2 L131.5,295.7" fill="none" stroke="#000000" stroke-width="5.8" stroke-linejoin="round" stroke-linecap="round"/>
<path d="M80.9,94 L80.9,270.2 L131.5,270.2 L131.5,295.7" fill="none" stroke="#484848" stroke-width="2.9" stroke-linejoin="round" stroke-linecap="round"/>
<path d="M93.5,94 L93.5,258 L144.2,258 L144.2,308.1" fill="none" stroke="#6a0a0a" stroke-width="5.8" stroke-linejoin="round" stroke-linecap="round"/>
<path d="M93.5,94 L93.5,258 L144.2,258 L144.2,308.1" fill="none" stroke="#cc2020" stroke-width="3.6" stroke-linejoin="round" stroke-linecap="round"/>
<path d="M144.2,358.6 L144.2,611" fill="none" stroke="#0f3c82" stroke-width="5.8" stroke-linejoin="round" stroke-linecap="round"/>
<path d="M144.2,358.6 L144.2,611" fill="none" stroke="#4a90e4" stroke-width="3.6" stroke-linejoin="round" stroke-linecap="round"/>
<path d="M193.6,611.4 L537.2,611.4" fill="none" stroke="#0f3c82" stroke-width="5.8" stroke-linejoin="round" stroke-linecap="round"/>
<path d="M193.6,611.4 L537.2,611.4" fill="none" stroke="#4a90e4" stroke-width="3.6" stroke-linejoin="round" stroke-linecap="round"/>
<path d="M119.1,295.7 L5.4,295.7 L5.4,573 L257.7,573 L257.7,459.5" fill="none" stroke="#000000" stroke-width="5.8" stroke-linejoin="round" stroke-linecap="round"/>
<path d="M119.1,295.7 L5.4,295.7 L5.4,573 L257.7,573 L257.7,459.5" fill="none" stroke="#484848" stroke-width="2.9" stroke-linejoin="round" stroke-linecap="round"/>
<path d="M119.1,308.1 L17,308.1 L17,561.5 L232.5,561.5 L232.5,459.5" fill="none" stroke="#6a0a0a" stroke-width="5.8" stroke-linejoin="round" stroke-linecap="round"/>
<path d="M119.1,308.1 L17,308.1 L17,561.5 L232.5,561.5 L232.5,459.5" fill="none" stroke="#cc2020" stroke-width="3.6" stroke-linejoin="round" stroke-linecap="round"/>
<path d="M270.3,257.6 L270.3,308.1" fill="none" stroke="#6a0a0a" stroke-width="5.8" stroke-linejoin="round" stroke-linecap="round"/>
<path d="M270.3,257.6 L270.3,308.1" fill="none" stroke="#cc2020" stroke-width="3.6" stroke-linejoin="round" stroke-linecap="round"/>
<path d="M320.8,257.6 L320.8,295.7" fill="none" stroke="#000000" stroke-width="5.8" stroke-linejoin="round" stroke-linecap="round"/>
<path d="M320.8,257.6 L320.8,295.7" fill="none" stroke="#484848" stroke-width="2.9" stroke-linejoin="round" stroke-linecap="round"/>
<path d="M308.4,295.7 L308.4,485 L371.8,485 L376.8,447" fill="none" stroke="#000000" stroke-width="5.8" stroke-linejoin="round" stroke-linecap="round"/>
<path d="M308.4,295.7 L308.4,485 L371.8,485 L376.8,447" fill="none" stroke="#484848" stroke-width="2.9" stroke-linejoin="round" stroke-linecap="round"/>
<path d="M321,308.1 L321,472.6 L358,472.6 L364.4,447" fill="none" stroke="#6a0a0a" stroke-width="5.8" stroke-linejoin="round" stroke-linecap="round"/>
<path d="M321,308.1 L321,472.6 L358,472.6 L364.4,447" fill="none" stroke="#cc2020" stroke-width="3.6" stroke-linejoin="round" stroke-linecap="round"/>
<path d="M194.6,447 L194.6,496.8 L384.2,496.8 L389.5,447" fill="none" stroke="#0f3c82" stroke-width="5.8" stroke-linejoin="round" stroke-linecap="round"/>
<path d="M194.6,447 L194.6,496.8 L384.2,496.8 L389.5,447" fill="none" stroke="#4a90e4" stroke-width="3.6" stroke-linejoin="round" stroke-linecap="round"/>
<path d="M182,484.7 L182,509.8 L396.6,509.8 L401.9,447" fill="none" stroke="#8c4a10" stroke-width="5.8" stroke-linejoin="round" stroke-linecap="round"/>
<path d="M182,484.7 L182,509.8 L396.6,509.8 L401.9,447" fill="none" stroke="#e87822" stroke-width="3.6" stroke-linejoin="round" stroke-linecap="round"/>
<path d="M207.5,712 L295.5,712 L295.5,295.7" fill="none" stroke="#000000" stroke-width="5.8" stroke-linejoin="round" stroke-linecap="round"/>
<path d="M207.5,712 L295.5,712 L295.5,295.7" fill="none" stroke="#484848" stroke-width="2.9" stroke-linejoin="round" stroke-linecap="round"/>
<path d="M131.5,358.6 L131.5,712 L169.4,712" fill="none" stroke="#6a0a0a" stroke-width="5.8" stroke-linejoin="round" stroke-linecap="round"/>
<path d="M131.5,358.6 L131.5,712 L169.4,712" fill="none" stroke="#cc2020" stroke-width="3.6" stroke-linejoin="round" stroke-linecap="round"/>
<path d="M472.3,308.1 L472.3,624.2 L537.2,624.2" fill="none" stroke="#6a0a0a" stroke-width="5.8" stroke-linejoin="round" stroke-linecap="round"/>
<path d="M472.3,308.1 L472.3,624.2 L537.2,624.2" fill="none" stroke="#cc2020" stroke-width="3.6" stroke-linejoin="round" stroke-linecap="round"/>
<path d="M497.6,295.7 L497.6,597.5 L537.2,597.5" fill="none" stroke="#000000" stroke-width="5.8" stroke-linejoin="round" stroke-linecap="round"/>
<path d="M497.6,295.7 L497.6,597.5 L537.2,597.5" fill="none" stroke="#484848" stroke-width="2.9" stroke-linejoin="round" stroke-linecap="round"/>
<path d="M434.2,106 L434.2,295.7" fill="none" stroke="#000000" stroke-width="5.8" stroke-linejoin="round" stroke-linecap="round"/>
<path d="M434.2,106 L434.2,295.7" fill="none" stroke="#484848" stroke-width="2.9" stroke-linejoin="round" stroke-linecap="round"/>
<path d="M560.4,106 L560.4,358.6 L573.1,358.6" fill="none" stroke="#6a0a0a" stroke-width="5.8" stroke-linejoin="round" stroke-linecap="round"/>
<path d="M560.4,106 L560.4,358.6 L573.1,358.6" fill="none" stroke="#cc2020" stroke-width="3.6" stroke-linejoin="round" stroke-linecap="round"/>
<path d="M573,106 L573.1,295.7" fill="none" stroke="#000000" stroke-width="5.8" stroke-linejoin="round" stroke-linecap="round"/>
<path d="M573,106 L573.1,295.7" fill="none" stroke="#484848" stroke-width="2.9" stroke-linejoin="round" stroke-linecap="round"/>
<circle cx="409" cy="269.8" r="2.6" fill="#a0a0a0"/><circle cx="295.3" cy="269.8" r="2.2" fill="#b0b0b0"/>
<circle cx="408.9" cy="106" r="2.2" fill="#3aa03a" opacity="0.42"/>
<circle cx="295.3" cy="258" r="2.2" fill="#3aa03a" opacity="0.42"/>
<circle cx="547.8" cy="106" r="2.2" fill="#3aa03a" opacity="0.42"/>
<circle cx="156.8" cy="346" r="2.2" fill="#3aa03a" opacity="0.42"/>
<circle cx="535.1" cy="106" r="2.2" fill="#3aa03a" opacity="0.42"/>
<circle cx="169.4" cy="346" r="2.2" fill="#3aa03a" opacity="0.42"/>
<circle cx="522.5" cy="106" r="2.2" fill="#3aa03a" opacity="0.42"/>
<circle cx="182" cy="346" r="2.2" fill="#3aa03a" opacity="0.42"/>
<circle cx="509.9" cy="106" r="2.2" fill="#3aa03a" opacity="0.42"/>
<circle cx="194.6" cy="346" r="2.2" fill="#3aa03a" opacity="0.42"/>
<circle cx="446.8" cy="106" r="2.2" fill="#3aa03a" opacity="0.42"/>
<circle cx="207.2" cy="346" r="2.2" fill="#3aa03a" opacity="0.42"/>
<circle cx="421.6" cy="106" r="2.2" fill="#3aa03a" opacity="0.42"/>
<circle cx="219.9" cy="346" r="2.2" fill="#3aa03a" opacity="0.42"/>
<circle cx="396.3" cy="106" r="2.2" fill="#3aa03a" opacity="0.42"/>
<circle cx="232.5" cy="308.1" r="2.2" fill="#3aa03a" opacity="0.42"/>
<circle cx="383.7" cy="106" r="2.2" fill="#3aa03a" opacity="0.42"/>
<circle cx="245.1" cy="295.7" r="2.2" fill="#3aa03a" opacity="0.42"/>
<circle cx="42.8" cy="94" r="2.2" fill="#3aa03a" opacity="0.42"/>
<circle cx="169.4" cy="447" r="2.2" fill="#3aa03a" opacity="0.42"/>
<circle cx="55.7" cy="94" r="2.2" fill="#3aa03a" opacity="0.42"/>
<circle cx="182" cy="472.1" r="2.2" fill="#3aa03a" opacity="0.42"/>
<circle cx="80.9" cy="94" r="2.2" fill="#3aa03a" opacity="0.42"/>
<circle cx="131.5" cy="295.7" r="2.2" fill="#3aa03a" opacity="0.42"/>
<circle cx="93.5" cy="94" r="2.2" fill="#3aa03a" opacity="0.42"/>
<circle cx="144.2" cy="308.1" r="2.2" fill="#3aa03a" opacity="0.42"/>
<circle cx="144.2" cy="358.6" r="2.2" fill="#3aa03a" opacity="0.42"/>
<circle cx="144.2" cy="611" r="2.2" fill="#3aa03a" opacity="0.42"/>
<circle cx="193.6" cy="611.4" r="2.2" fill="#3aa03a" opacity="0.42"/>
<circle cx="537.2" cy="611.4" r="2.2" fill="#3aa03a" opacity="0.42"/>
<circle cx="119.1" cy="295.7" r="2.2" fill="#3aa03a" opacity="0.42"/>
<circle cx="257.7" cy="459.5" r="2.2" fill="#3aa03a" opacity="0.42"/>
<circle cx="119.1" cy="308.1" r="2.2" fill="#3aa03a" opacity="0.42"/>
<circle cx="232.5" cy="459.5" r="2.2" fill="#3aa03a" opacity="0.42"/>
<circle cx="270.3" cy="257.6" r="2.2" fill="#3aa03a" opacity="0.42"/>
<circle cx="270.3" cy="308.1" r="2.2" fill="#3aa03a" opacity="0.42"/>
<circle cx="320.8" cy="257.6" r="2.2" fill="#3aa03a" opacity="0.42"/>
<circle cx="320.8" cy="295.7" r="2.2" fill="#3aa03a" opacity="0.42"/>
<circle cx="308.4" cy="295.7" r="2.2" fill="#3aa03a" opacity="0.42"/>
<circle cx="376.8" cy="447" r="2.2" fill="#3aa03a" opacity="0.42"/>
<circle cx="321" cy="308.1" r="2.2" fill="#3aa03a" opacity="0.42"/>
<circle cx="364.4" cy="447" r="2.2" fill="#3aa03a" opacity="0.42"/>
<circle cx="194.6" cy="447" r="2.2" fill="#3aa03a" opacity="0.42"/>
<circle cx="389.5" cy="447" r="2.2" fill="#3aa03a" opacity="0.42"/>
<circle cx="182" cy="484.7" r="2.2" fill="#3aa03a" opacity="0.42"/>
<circle cx="401.9" cy="447" r="2.2" fill="#3aa03a" opacity="0.42"/>
<circle cx="207.5" cy="712" r="2.2" fill="#3aa03a" opacity="0.42"/>
<circle cx="295.5" cy="295.7" r="2.2" fill="#3aa03a" opacity="0.42"/>
<circle cx="131.5" cy="358.6" r="2.2" fill="#3aa03a" opacity="0.42"/>
<circle cx="169.4" cy="712" r="2.2" fill="#3aa03a" opacity="0.42"/>
<circle cx="472.3" cy="308.1" r="2.2" fill="#3aa03a" opacity="0.42"/>
<circle cx="537.2" cy="624.2" r="2.2" fill="#3aa03a" opacity="0.42"/>
<circle cx="497.6" cy="295.7" r="2.2" fill="#3aa03a" opacity="0.42"/>
<circle cx="537.2" cy="597.5" r="2.2" fill="#3aa03a" opacity="0.42"/>
<circle cx="434.2" cy="106" r="2.2" fill="#3aa03a" opacity="0.42"/>
<circle cx="434.2" cy="295.7" r="2.2" fill="#3aa03a" opacity="0.42"/>
<circle cx="560.4" cy="106" r="2.2" fill="#3aa03a" opacity="0.42"/>
<circle cx="573.1" cy="358.6" r="2.2" fill="#3aa03a" opacity="0.42"/>
<circle cx="573" cy="106" r="2.2" fill="#3aa03a" opacity="0.42"/>
<circle cx="573.1" cy="295.7" r="2.2" fill="#3aa03a" opacity="0.42"/>
<g stroke="#7a7a7a" stroke-width="2.3" fill="none" stroke-linecap="butt">
<path d="M867.6,744.5 L867.6,732.5 C867.6,730 869,729 871,729 L872.3,729 M864.8,734.8 L871.4,734.8"/>
<path d="M875.7,742 L875.7,738 C875.7,735.3 877.5,734 880,734 L881.5,734"/>
<path d="M887,734 L887,744.5"/>
<path d="M892.8,729.6 L892.8,740.8 C892.8,743 894,744 896.5,744 L898.8,744 M890.4,734.8 L898,734.8"/>
<path d="M900.8,734.8 L910.4,734.8 L901.5,743.8 L909,743.8"/>
<path d="M916.7,734 L916.7,744.5"/>
<path d="M923,744.5 L923,733.8 M923,737.5 C923.8,735 925.5,734 927.2,734 C929.5,734 930.6,735.5 930.6,738 L930.6,741.8"/>
<path d="M944.4,733.5 L944.4,747.5 M944.4,735.8 C943.4,734.5 942,733.9 940.5,733.9 C937.6,733.9 936.4,736 936.4,739 C936.4,742 937.8,744 940.5,744 C942.2,744 943.6,743 944.4,741.5"/>
</g>
<g fill="#fff" stroke="#7a7a7a" stroke-width="1.2">
<circle cx="875.7" cy="743.5" r="1.6"/>
<circle cx="887" cy="729.2" r="1.6"/>
<circle cx="910.8" cy="743.6" r="1.6"/>
<circle cx="916.7" cy="729.2" r="1.6"/>
<circle cx="930.6" cy="743.5" r="1.6"/>
</g>
</svg></body></html>
